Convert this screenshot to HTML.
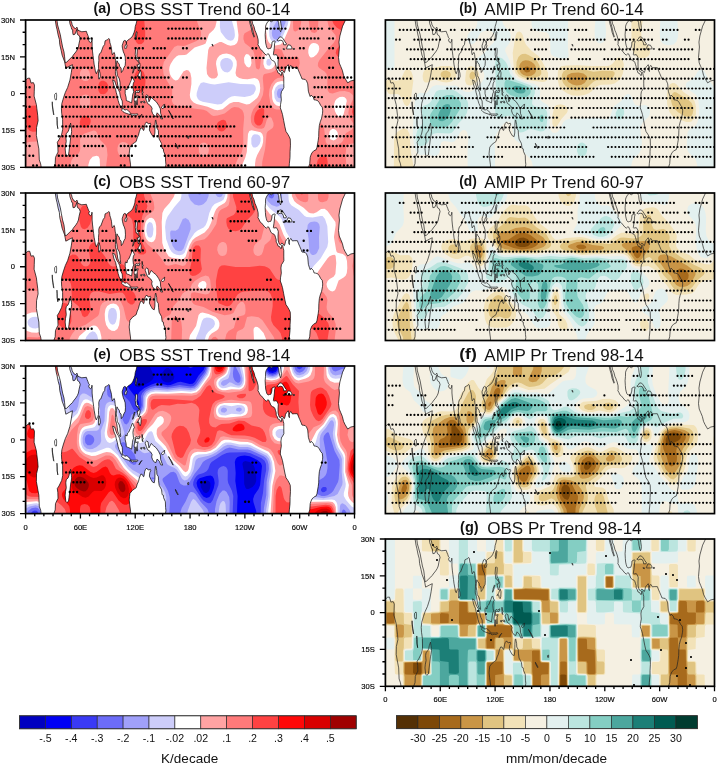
<!DOCTYPE html>
<html><head><meta charset="utf-8"><title>SST and precipitation trends</title>
<style>
html,body{margin:0;padding:0;background:#fff;}
body{width:718px;height:766px;overflow:hidden;}
svg{display:block;}
text{font-family:"Liberation Sans",Arial,sans-serif;fill:#111;}
.ax{font-size:7.6px;fill:#000;stroke:#000;stroke-width:0.15px;}
.ttl{font-size:15.6px;}
.lb{font-weight:bold;font-size:14px;}
.cb{font-size:10.6px;}
.cbu{font-size:13.6px;}
</style></head><body>
<svg width="718" height="766" viewBox="0 0 718 766">
<rect width="718" height="766" fill="#fff"/>
<clipPath id="clipa"><rect x="25.6" y="20" width="328.9" height="147.3"/></clipPath>
<g clip-path="url(#clipa)">
<rect x="25.6" y="20" width="328.9" height="147.3" fill="#ff9a9a"/>
<rect x="24.6" y="19.0" width="330.9" height="149.3" fill="#a0a0fa"/>
<path fill="#cdcdfa" d="M23.6 17L277 17L276.8 21L272.7 28L271.8 33L272.2 36L273.1 38L274.6 39.3L276.6 39.7L278.6 38.6L280.2 36L285.6 22.2L285.8 17L357.6 17L357.6 171L22.6 171L22.6 17ZM278.5 89L277.3 91L276.8 94L277.6 96.8L278.6 97.9L281.6 98.3L285.9 96L286.5 95L286.5 93L284.6 89.8L281.6 88.1Z"/>
<path fill="#ffffff" d="M23.6 17L219.9 17L219.9 27L220.8 32L225.6 38.3L227.9 40L230.6 40.8L232.6 40.2L233.6 39.3L234.6 37.3L234.9 35L234.4 30L232 21L232 17L270.5 17L269.1 30L269.4 36L270.4 39L271.6 40.8L273.6 42.2L275.6 42.7L278.8 42L281.6 38.9L287.7 25L288.5 21L288.5 17L357.6 17L357.6 171L22.6 171L22.6 17ZM225.1 58L222.6 58.9L221.5 60L220.4 62L220.2 65L221 68L222.6 70.5L224.6 72.1L227.6 72.4L229.6 71.5L231.7 69L232.8 66L232.9 63L232.1 61L230.2 59L227.6 58ZM267.6 59L266.4 61L266.5 64L267.6 65.4L269.6 65.7L271.3 64L271.5 62L269.6 59.1ZM200.8 83L198.6 86.8L196.7 93L196.6 96L197.9 99L199.6 100.5L202.6 101.7L217.6 104.4L221.6 103.9L228.6 98L231.6 96.5L234.6 96.1L244.6 96.9L250.6 95.7L253.6 93.9L255.7 90L255.8 88L255.2 86L253.6 84.6L251.6 84.2L240.6 83.9L228.6 82.2L214.6 84.4L210.6 84L203.6 82.3ZM278.1 85L275.6 87.4L274.1 92L274.6 98L276.6 101.4L279.6 102.6L286.6 102L292.6 102.8L294.6 102.5L296.6 101.3L297.6 98L296.7 95L288.2 87L285.6 85.2L282.6 84.3L280.6 84.2ZM252.9 135L251.3 138L251.4 144L252.8 147L253.6 147.5L255.6 147.6L257.6 146.5L259.6 143.9L260.6 141L260.6 138L259.6 135.8L257.6 134.4L254.6 134.2Z"/>
<path fill="#ffa3a3" d="M23.6 17L216.6 17L216.5 22L215.3 27L213.6 29.7L209 34L205.6 43.4L203.6 44.6L194.6 47.4L186.6 54.4L184.6 55L178.6 55.3L176.6 56.2L173.6 59.3L170.6 63.9L169.5 67L169.2 70L169.9 74L171.4 77L173.6 79.4L175.6 80.4L177.6 80L178.6 79.1L183.6 71.3L186.6 70L188.6 70.6L190.4 73L191.4 78L191.4 84L189.8 95L190.3 98L191.3 100L193.6 102.4L196.6 104.1L207.6 106.7L214.6 109.7L217.6 110.3L222.6 109.2L229.6 103.6L233.6 101.9L238.6 102.1L246.6 104.4L249.6 104L257.1 98L258.6 95.6L259.8 92L260.2 88L259.8 84L258.9 81L257.4 79L254.6 78.1L247.6 79.2L243 79L239.2 78L236.3 76L235.5 73L236.8 65L236.6 61L234.5 57L230.6 54.5L226.6 53.6L222.6 54L219.6 55.5L217.5 58L216.3 61L216 64L218 75L216.6 77.5L214.6 78.5L211.6 78.4L209 77L207 74L206.5 68L208.2 50L209.5 47L219.6 42L221.6 42.1L227.6 45L230.6 45.7L234.6 45.1L237 43L238.1 40L238.5 35L236.6 21L236.6 17L266.2 17L266.1 31L267.3 39L268.6 42L270.3 44L272.6 45.1L275.6 45.4L280.6 44.5L283.1 42L289.6 27.2L290.4 23L290.6 17L357.6 17L357.6 171L255 171L255 164L255.7 159L257.2 155L262.1 146L263.1 142L263.2 137L262.3 134L260.6 132.3L251.6 130.2L249.3 131L248 134L246.8 152L245.5 157L242.2 165L241.8 168L242.2 171L100.2 171L99.7 159L98.6 156.5L96.6 155.7L92.6 156.8L89.8 160L88.3 165L88.2 171L22.6 171L22.6 17ZM313.4 43L311.6 43.6L310.1 45L309 47L308.3 50L308.3 53L309.2 56L310.6 57.5L311.6 57.6L313.6 57.1L316.6 54.5L318.3 52L319.3 49L318.9 46L317.6 44.3L315.6 43.2ZM267.5 54L265.6 55.1L264.4 57L263.6 60L263.4 64L264.7 68L266.6 69.3L268.6 69.6L271.6 68.7L273.6 67.1L274.8 65L275.1 63L274.3 60L272.3 57L269.6 54.4ZM245.3 55L244 58L244.4 63L246.6 66.5L248.6 67.4L249.6 67.2L250.7 66L251.5 63L250.7 57L248.6 54.4L246.6 54.1ZM277.4 82L275.6 83.3L273.6 85.9L271.9 91L272.3 99L273.3 102L274.7 104L276.6 105.4L278.6 105.9L286.6 105.7L293.6 106.3L297.6 105.7L300.1 104L301.6 101L301.8 97L300.9 93L298.7 90L291.1 84L287.6 82.1L281.6 81ZM339.7 97L336.6 99L335.1 101L334.2 104L334.1 107L334.9 111L336.3 114L338.6 116.4L340.6 117L342.6 116L343.6 114.2L346.8 101L346.3 99L344.6 97.3L342.6 96.7ZM332.3 129L330.6 129.9L329.6 131.5L329 136L329.5 138L330.6 139.6L333.6 140.4L335.6 139.6L337.2 138L337.9 134L337.4 132L335.9 130L333.9 129Z"/>
<path fill="#ff7a7a" d="M23.6 17L196.8 17L197.2 22L201 32L201.1 35L200.1 38L196.6 40.9L185.6 45.6L183.6 46L177.6 45.4L174.3 47L163.8 62L162.8 67L163.5 74L165.1 78L171.6 88L172.2 91L171.9 101L173.2 104L175.6 105.8L178.6 106.3L184.6 105.9L193.6 108.5L203.6 109.7L206.8 111L211.6 115.3L213.6 116.1L217.6 115.6L224.6 113.4L231.6 108L234.2 107L238.6 107.4L242.2 110L243.6 113L244.2 117L243.2 129L243.3 146L241.6 152.8L237.2 160L236 163L235.4 167L235.6 171L106.2 171L106.1 166L107.5 155L106.8 148L105.3 145L100.1 140L96.6 132L95.5 131L93.6 130.6L84.6 133.6L81.1 136L80 140L80.3 148L79.9 151L78.6 153.5L73.6 157.3L71.6 160L70.3 165L70.2 171L42.9 171L43.2 164L46.2 151L46.1 148L44.8 145L41.6 142.6L36.6 141.5L30.6 141.8L22.6 143.6L22.6 101.7L23.6 100L23.9 98L23.5 96L22.6 94.8L22.6 17ZM82.3 69L80.6 71L80 73L80 76L80.6 78L81.6 79.4L83.6 80.7L85.6 81.1L87.6 80.7L89.3 79L90 77L90 74L89.2 71L86.6 68.5L84.6 68.2ZM83.1 95L81.6 96L80.3 98L79.7 101L80.1 104L80.9 106L82.6 107.6L84.6 108.2L86.6 107.9L88.6 106.6L89.6 104.9L90.2 102L89.8 98L88.8 96L87.6 94.9L85.6 94.4ZM119.9 143L118.3 145L117.5 148L117.6 151L118.6 153.9L119.6 155.2L121.6 156.5L123.6 156.8L126.6 156L129 154L130.5 151L130.5 148L129.8 146L128.1 144L125.6 142.5L122.6 142ZM201.7 143L199.7 145L198.9 147L198.9 152L200.6 155.3L202.6 156.4L204.6 156.4L206.6 155.5L208.3 153L208.9 150L208.6 147L207.6 144.7L205.8 143L203.6 142.5ZM254.6 17L262.1 17L262.4 34L263.9 47L261.3 56L259.9 68L258.6 69.6L256.6 68.8L255.8 67L254.5 55L253.3 51L251.1 48L244.7 43L243.4 39L243.6 35.6L244.6 33.2L250.6 30L253 27L254.3 23ZM293.6 17L301.3 17L301.1 23L300.1 27L298.3 30L295.6 31.6L293.9 31L293.2 29L292.9 17ZM309.6 17L318.5 17L318 29L316.6 31.9L314.6 33.1L311.6 32.3L309.7 29L308.8 21L308.9 17ZM327.6 17L357.6 17L357.6 142.3L349.6 144.1L347.6 145.3L346.3 147L345.6 154L346.6 171L262 171L262.2 162L265.1 149L266.6 133.5L267.6 131.6L272.6 128L273.5 126L273.5 123L271.6 118.1L270.6 117.2L268.6 117.2L266.7 120L265 126L263.8 128L261.6 128.8L257.6 128.6L254.6 127.3L252.2 125L251 122L250.8 117L251.7 113L253.4 109L260.2 101L262.9 95L263.7 89L262.8 78L263.4 75L264.6 73.9L271.6 72.4L274.6 71L277.4 68L278.8 65L279 61L273.1 52L273.3 50L274.6 49.1L278.6 48.7L281.6 49.9L284.6 56.7L286.6 57.9L289.6 57.8L295.6 56.4L297.6 56.8L299.2 59L299.8 63L298.2 70L296.1 74L294.4 76L290.6 77.5L280.6 77.6L277.6 78.1L274.6 80L271.5 84L269.5 89L268.9 95L270.3 103L272.6 107.7L274.6 109L276.6 109.5L292.6 109.8L299.6 110.7L301.9 112L305.6 116.8L307.6 118.3L321.6 123.7L322.9 125L323.9 127L325.8 142L327 144L329.6 145.5L332.6 145.8L335.6 145.3L341.1 143L342.9 141L344.9 135L346.1 133L351.6 129.8L353.2 128L353.8 126L353.6 124L349.2 117L348.3 113L349.1 108L353.1 99L353.3 97L352.8 95L349.6 92.2L344.6 90.9L339.6 91.2L332.6 93.4L329.6 93L328 91L327.4 89L327.4 78L326.6 74L324.6 71.4L319.2 68L317.9 66L318 63L319.5 60L328.9 48L333.6 43L335.9 39L336 37L335.3 35L330.3 29L328.6 26L327.4 21Z"/>
<path fill="#ff4242" d="M23.6 17L35.6 17L35.6 21L34.8 25L33.1 28L30.6 30.1L26.6 31.3L22.6 31.2L22.6 17ZM128.6 17L144 17L145.2 32L145.2 37L143.8 42L141.6 44.1L138.6 44.2L136.9 43L135.6 41L132.2 30L128.2 21L128.1 18L128.2 17ZM332.6 17L357.6 17L357.6 29.7L353.6 29.7L344.6 31.2L340.6 30.1L336.6 27.4L333.6 24L332.4 21ZM23.6 43.4L26.6 43.4L29.6 44.2L32.3 46L33.6 48L34.2 51L33.7 54L32.5 56L29.6 58.1L26.6 58.9L22.6 58.8L22.6 43.5ZM342.6 43.7L345.6 43.3L353.6 45.3L357.6 45.3L357.6 57.6L343.6 58.4L339.6 57.5L337.2 56L335.7 53L336.3 50L339.1 46ZM138.6 69.6L141.6 69.9L143.6 71.9L145 76L145.5 81L145.1 86L143.9 90L141.6 92.5L138.6 93.3L135.6 92.4L134 91L132.9 89L132.4 86L133 81L135 74L136.6 71.1ZM101.6 80.7L103.6 80.7L106.2 82L107.6 83.9L108.3 86L108.3 89L107.6 91.2L105.6 93.5L103.6 94.3L100.6 93.9L99 92L98.3 90L98.6 83.9L99.6 81.9ZM356.6 105L357.6 104.7L357.6 121.4L353 115L352.1 112L352.6 109.1L353.6 107.3ZM31.6 105.8L36.6 105.6L42.2 107L45.9 109L48.3 112L49.5 117L48.8 123L46.6 127.2L42.6 130.1L37.6 131.6L32.6 131.8L29.6 130.8L27.6 128.4L24.6 116L24.3 113L24.9 111L26.6 108.7L28.6 107ZM261.6 107.9L263.6 108.5L264.2 110L264.2 114L263.2 120L262.3 123L260.8 125L259.6 125.5L257.6 125.5L255.6 124.1L254.4 122L254.1 119L254.4 116L255.6 112.8L257.6 110ZM83.6 115.9L86.6 115.9L88.6 116.7L90.4 119L90.8 121L90.2 124L88.7 126L86.6 127.4L84.6 127.9L81.5 127L80.1 125L79.7 123L80.6 118.4L81.7 117ZM221.6 119.9L223.6 119.8L225.6 120.7L226.8 124L226.5 127L225.6 129.1L223.6 131L221.6 131.5L219.6 131.1L218.1 130L217 128L216.7 126L217 124L218.1 122ZM322.6 155.9L325.6 156.4L327 158L327.6 161.7L327.6 171L316.4 171L316.5 165L317.6 160.3L319.6 157.4Z"/>
<path fill="#ff0808" d="M23.6 17L29.4 17L29.4 21L28.2 23L26.6 24.1L22.6 23.9L22.6 17ZM344.6 18.5L346.1 19L344.6 19.8L343.7 19Z"/>
<path fill="#fff" stroke="#000" stroke-width="0.7" stroke-linejoin="round" d="M16.65 15.09L16.65 20L13.72 26.14L10.98 35.96L10.07 42.09L10.53 47.01L9.61 57.56L10.34 62.96L11.9 66.65L13.45 70.33L14.64 75.24L16.01 78.18L18.75 82.85L21.95 80.88L25.6 80.15L27.88 78.18L29.71 78.18L31.08 83.09L33.37 82.6L34.46 85.06L34.28 91.2L34.1 96.11L36.38 104.7L36.84 108.38L37.75 115.75L38.12 120.66L36.56 127.53L36.38 135.38L37.93 143.98L38.85 148.89L39.3 159.94L40.67 163.86L41.59 169.75L42.05 174.66L42.5 178.35L43.87 179.58L48.44 178.35L51.18 174.66L53.47 169.75L53.92 167.05L55.2 163.62L55.48 157.48L56.21 155.76L58.03 152.08L57.85 146.43L57.3 142.26L58.95 139.8L61.69 134.16L62.69 129.25L62.6 119.43L61.69 113.29L61.41 108.38L61.87 103.47L63.51 97.82L65.34 92.42L67.63 87.51L69.91 80.15L71.28 72.78L72.47 64.68L69.45 66.15L65.8 68.12L65.16 64.68L64.61 61.73L62.14 55.11L61.23 50.69L59.77 44.55L59.4 39.64L58.12 34.98L57.12 29.82L56.21 26.14L55.29 20.25L55.11 16.32L53.01 16.32L48.44 15.09L43.87 15.09L34.74 2.81L21.03 5.27L16.65 15.09ZM345.55 15.09L345.55 20L342.62 26.14L339.88 35.96L338.97 42.09L339.43 47.01L338.51 57.56L339.24 62.96L340.8 66.65L342.35 70.33L343.54 75.24L344.91 78.18L347.65 82.85L350.85 80.88L354.5 80.15L356.78 78.18L358.61 78.18L359.98 83.09L362.27 82.6L363.36 85.06L363.18 91.2L363 96.11L365.28 104.7L365.74 108.38L366.65 115.75L367.02 120.66L365.46 127.53L365.28 135.38L366.83 143.98L367.75 148.89L368.2 159.94L369.57 163.86L370.49 169.75L370.94 174.66L371.4 178.35L372.77 179.58L377.34 178.35L380.08 174.66L382.37 169.75L382.82 167.05L384.1 163.62L384.38 157.48L385.11 155.76L386.93 152.08L386.75 146.43L386.2 142.26L387.85 139.8L390.59 134.16L391.59 129.25L391.5 119.43L390.59 113.29L390.31 108.38L390.77 103.47L392.41 97.82L394.24 92.42L396.53 87.51L398.81 80.15L400.18 72.78L401.37 64.68L398.35 66.15L394.7 68.12L394.06 64.68L393.51 61.73L391.04 55.11L390.13 50.69L388.67 44.55L388.3 39.64L387.02 34.98L386.02 29.82L385.11 26.14L384.19 20.25L384.01 16.32L381.91 16.32L377.34 15.09L372.77 15.09L363.64 2.81L349.93 5.27L345.55 15.09ZM57.12 16.32L57.12 21.23L57.58 24.91L58.95 29.82L60.32 34.73L61.41 40.87L62.6 47.01L63.97 51.91L64.61 56.83L65.16 62.47L66.71 62.23L69.45 59.28L72.65 56.33L73.29 55.11L75.85 51.91L77.4 49.46L78.41 47.01L79.05 43.32L80.23 38.41L79.32 35.71L77.68 34.73L77.04 32.52L77.13 29.33L76.76 29.33L76.31 31.05L74.94 34.24L73.11 34.73L72.65 32.27L72.74 29.82L71.74 29.33L71.28 27.37L69.91 23.68L69.45 20L70.18 20L71.55 21.96L72.19 24.91L74.02 27.86L75.67 28.59L76.94 27.12L77.95 30.31L81.79 31.78L84.07 31.54L86.36 31.29L87.09 33.5L87.91 35.47L88.64 37.68L89.55 38.41L88.64 40.13L89.55 42.09L90.65 42.83L91.84 40.87L91.93 39.15L92.11 42.09L92.11 47.01L92.57 51.91L93.02 55.6L93.66 60.51L94.12 64.19L95.03 69.1L95.49 72.05L96.4 73.76L97.04 71.8L97.78 70.82L98.6 68.36L98.51 64.19L98.87 60.51L98.78 56.33L99.6 53.63L100.79 52.9L101.89 49.95L103.26 46.27L104.63 44.55L105.08 40.87L106.45 40.13L107.82 39.64L108.74 38.41L109.47 39.15L109.93 42.83L110.57 44.55L111.48 48.23L111.94 53.14L112.39 54.86L113.31 53.14L114.22 52.41L114.77 54.37L115.13 58.05L115.59 60.51L115.68 64.19L115.59 67.87L115.41 71.56L115.41 74.01L116.69 77.69L117.24 81.38L117.69 85.06L118.33 86.78L119.25 88.74L120.16 90.46L120.8 90.21L120.16 86.28L120.07 82.6L119.34 78.92L118.33 76.96L117.42 75.73L116.96 71.56L116.23 67.87L116.5 64.19L116.96 60.75L117.87 62.47L119.25 64.19L119.7 66.65L121.07 67.87L121.35 72.54L122.9 70.33L123.81 67.87L125.18 65.42L125.46 61.73L125.18 56.83L124.27 53.88L123.36 51.91L122.44 48.23L122.17 45.78L122.9 43.32L123.81 40.87L124.73 40.38L125.82 40.87L126.46 43.81L126.55 41.6L127.92 40.13L129.29 39.15L129.93 38.66L131.58 37.43L132.95 35.22L134.14 32.27L134.87 29.82L135.23 26.63L136.15 23.68L137.06 20L136.6 17.55L136.88 15.09L136.15 12.63L135.23 7.72L80.42 -4.55L57.12 16.32ZM70.64 123.11L71.46 129.25L71.65 131.7L71.1 135.38L70.64 137.84L69.91 143.98L69 151.34L68.54 155.03L66.9 156.25L65.8 155.03L65.16 148.89L65.52 145.2L66.26 141.52L65.8 136.61L66.26 133.42L68.08 131.7L69 129.25L69.45 126.79L70.64 123.11ZM98.51 74.01L98.69 78.92L99.24 79.17L100.33 76.47L100.06 73.27L99.15 69.59L98.6 71.56L98.51 74.01ZM124.91 48.23L125.64 48.97L126.55 47.74L127.01 45.29L126.55 44.3L125.64 44.55L124.91 46.51L124.91 48.23ZM135.32 37.19L135.87 39.64L136.15 39.15L136.6 35.96L137.06 32.27L136.6 31.54L135.87 33.5L135.32 37.19ZM135.23 54.37L135.69 48.23L136.6 47.99L137.33 48.72L137.24 51.91L136.88 55.6L137.52 58.79L138.61 59.77L139.07 62.72L138.16 61.98L137.06 60.02L135.96 59.77L135.78 58.05L135.23 54.37ZM137.06 76.47L138.43 74.5L139.07 73.27L140.26 69.84L141.17 72.78L140.9 77.69L140.26 79.66L139.34 78.43L138.71 75.73L137.06 76.47ZM136.97 64.68L137.79 68.12L138.43 70.82L139.34 69.1L140.08 65.91L139.8 62.96L138.89 63.45L137.97 65.42L136.97 64.68ZM132.68 73.27L133.86 70.33L134.96 66.65L134.59 65.91L133.41 69.1L132.68 73.27ZM125.18 89.97L125.73 88.74L127.01 89.97L127.47 87.02L128.84 85.79L130.21 82.6L131.03 80.64L132.04 77.69L132.77 76.96L133.86 80.15L134.5 81.13L133.41 83.09L132.95 86.28L133.41 91.2L134.14 91.2L132.95 93.65L132.49 96.11L132.04 99.79L131.58 102.98L130.21 102.24L128.84 101.51L127.47 101.02L126.28 100.52L126.1 97.33L125.18 93.65L125.18 89.97ZM112.67 79.9L114.68 80.88L115.59 83.83L116.96 87.51L118.33 89.48L119.7 92.42L120.34 96.11L121.07 98.56L122.26 101.02L122.44 104.7L122.26 107.89L121.07 108.13L120.16 105.92L119.06 103.47L118.15 100.52L117.24 96.11L116.23 92.42L115.59 89.23L114.68 87.51L113.76 85.06L112.67 79.9ZM121.71 110.34L122.44 108.38L123.81 108.87L124.73 110.1L126.55 109.61L127.47 110.1L128.56 110.84L130.21 112.8L130.12 115.01L128.38 114.03L126.1 113.29L124.27 112.55L122.9 111.57L121.71 110.34ZM130.85 113.78L132.04 114.03L134.32 114.03L135.69 114.03L137.52 113.78L137.97 114.52L136.15 115.5L134.32 115.25L132.49 115.75L131.12 115.25L130.85 113.78ZM138.89 118.2L140.26 116.24L141.9 114.27L140.72 115.75L139.34 118.69L138.89 118.2ZM134.78 107.15L134.69 102.24L134.14 99.79L134.78 94.88L135.23 92.18L136.15 90.46L137.97 91.2L139.34 89.97L139.98 89.97L139.16 92.67L137.97 92.42L136.6 92.42L135.42 92.67L135.87 96.84L136.7 96.11L138.25 95.61L137.24 98.56L137.52 104.7L136.6 104.7L136.15 100.52L135.69 101.02L135.6 107.15L134.78 107.15ZM142.09 88.25L142.54 91.2L143.27 92.42L142.54 93.65L143 95.61L142.27 94.88L142.09 91.69L142.09 88.25ZM142.54 101.51L144.37 101.02L145.1 102.98L143.46 102.49L142.54 101.51ZM140.72 101.51L141.63 101.51L141.63 102.98L140.72 102.73L140.72 101.51ZM145.28 96.11L146.65 94.88L148.02 95.61L148.94 101.75L151.22 97.33L153.51 99.54L156.25 101.75L158.71 105.43L160.36 108.87L160.63 113.29L162.64 118.94L160.81 118.69L159.44 115.25L157.16 112.8L155.88 116.48L154.42 115.99L152.59 113.54L151.68 110.84L152.14 108.38L150.76 105.92L148.94 104.45L147.57 103.47L146.38 100.52L145.28 97.33L145.28 96.11ZM161.27 107.15L162.64 105.92L164.01 104.7L164.74 103.96L164.29 107.15L162.64 108.87L161.27 107.15ZM168.58 110.34L169.49 112.06L171.32 114.52L172.51 116.97L173.15 118.94L172.23 117.71L170.41 114.03L168.58 110.34ZM130.67 167.3L130.67 172.21L130.67 179.58L144.37 179.58L165.38 179.58L165.38 169.75L165.47 167.3L165.93 164.35L165.57 161.16L165.38 155.52L163.56 151.34L163.37 148.89L162.18 148.4L161.55 143.49L159.17 139.07L158.53 134.16L158.35 130.48L156.89 128.02L156.7 124.34L155.79 119.92L155.33 120.66L154.97 125.56L154.88 132.93L154.24 136.61L152.59 135.88L150.76 132.93L149.39 129.98L149.85 126.3L150.76 124.34L150.31 123.11L148.94 123.85L147.11 122.86L146.65 121.88L145.28 123.6L144.64 125.56L143.91 130.23L143.46 130.48L142.09 128.02L140.72 128.02L139.34 131.7L138.43 135.38L137.24 137.84L136.15 141.52L134.32 142.75L132.31 144.22L129.93 147.17L129.57 150.12L129.2 153.8L129.75 158.71L130.57 164.84L130.67 167.3ZM175.43 143.24L176.35 144.71L178.17 148.15L177.72 148.64L175.89 145.2L175.43 143.24ZM187.58 136.61L188.68 136.12L188.68 138.33L187.77 138.33L187.58 136.61ZM212.07 44.8L212.89 46.27L212.89 44.8L212.07 44.06L212.07 44.8ZM244.87 7.72L247.15 12.63L248.52 18.77L249.43 21.23L250.35 24.91L251.26 27.86L252.18 32.27L254 37.19L254.46 36.69L253.55 33.99L252.63 29.82L251.44 24.91L249.89 20L249.71 16.32L251.26 17.05L252.63 23.68L254 26.63L254.92 30.31L255.83 32.27L257.2 35.96L258.11 39.64L258.21 43.32L257.93 44.55L259.03 46.51L259.94 48.72L261.31 49.71L263.14 51.91L264.97 54.12L266.34 55.11L267.71 53.88L268.62 53.88L269.99 56.83L270.9 59.28L272.46 60.51L274.1 61.24L274.74 61.98L275.47 64.19L276.2 66.65L276.2 69.1L276.84 69.84L277.12 70.33L278.12 73.03L279.58 73.52L280.95 75.73L281.41 75.24L281.87 72.05L282.78 73.27L283.24 75.24L283.79 77.2L283.79 83.83L283.88 87.51L282.6 89.97L281.41 91.69L280.95 94.88L281.32 100.03L280.5 104.7L280.31 107.89L281.41 110.84L282.51 114.52L283.7 120.66L284.88 126.79L285.98 131.46L287.81 134.16L289.18 136.61L290.27 139.07L290.46 145.2L290.09 151.34L290 157.48L289.36 163.62L289.09 167.3L289.09 172.21L288.72 179.58L303.34 179.58L306.08 175.89L307.91 169.75L308.55 167.3L309.73 163.62L310.19 157.48L310.65 155.76L312.02 152.57L313.39 151.34L315.03 150.12L316.13 149.87L317.04 147.17L317.77 142.75L318.23 140.3L318.69 136.61L318.87 130.48L319.33 125.56L320.24 121.88L321.61 118.2L322.52 113.29L322.71 110.84L322.25 107.15L320.7 105.43L319.33 102.73L317.5 100.52L315.67 100.03L314.03 99.79L313.39 97.33L311.1 95.12L310.19 96.6L309.28 94.14L308.36 91.2L307.72 83.83L306.54 80.88L305.17 79.41L303.34 79.17L301.97 78.92L301.05 76.47L299.68 73.27L298.31 70.08L297.4 67.63L296.03 67.63L294.2 67.63L292.37 67.87L291 65.42L289.63 66.65L289.18 69.1L289.45 71.56L288.9 70.33L288.72 66.65L288.26 64.68L287.35 65.91L286.44 66.65L285.52 68.12L285.07 70.57L284.33 72.54L283.79 72.29L282.78 70.57L281.78 70.08L280.5 71.8L279.4 71.06L278.67 69.1L278.12 66.89L278.03 62.96L278.3 58.54L277.76 56.83L276.39 54.62L274.56 54.86L273.83 55.11L273.37 54.37L273.92 50.69L274.38 47.01L274.56 43.81L275.2 41.36L274.1 40.87L272 42.09L271.82 45.04L270.9 48.23L269.53 48.48L268.16 48.97L266.98 47.74L266.34 45.78L265.7 43.08L265.42 39.64L265.15 34.73L265.51 30.31L265.61 26.14L266.34 24.17L267.89 21.47L269.26 20.49L271.36 21.72L272.73 20.98L273.19 19.26L275.93 19.02L277.48 20L278.67 22.45L279.04 26.14L279.86 30.07L280.59 31.78L281.23 29.82L281.41 27.37L280.86 23.68L280.22 18.77L280.5 15.09L284.15 7.72L244.87 7.72ZM276.84 40.13L278.21 39.15L279.58 36.94L281.41 36.94L283.24 38.9L285.07 41.85L286.71 44.06L285.98 44.8L283.7 44.8L283.42 42.83L282.32 40.62L280.04 40.13L278.67 40.87L276.84 40.13ZM286.44 48.48L287.99 44.8L290.55 45.29L292.1 47.99L291.73 48.97L289.63 48.97L288.26 48.97L286.53 48.97L286.44 48.48ZM282.96 48.72L284.79 48.97L284.33 49.71L283.06 49.21L282.96 48.72ZM293.11 48.48L294.57 48.48L294.48 49.46L293.11 49.46L293.11 48.48Z"/>
<path fill="none" stroke="#000" stroke-width="0.6" d="M52.28 101.75L52.55 105.92L53.47 112.06L53.92 115.01L53.56 114.52L52.73 109.61L52.19 104.7L52.28 101.75ZM56.94 116.97L57.3 120.66L57.12 124.34L57.85 128.76L57.39 125.56L56.94 120.66L56.94 116.97ZM54.65 94.39L56.21 92.91L56.66 94.88L56.48 99.79L55.29 99.79L54.56 97.33L54.65 94.39Z"/>
<path fill="none" stroke="#000" stroke-width="2.4" stroke-linecap="round" stroke-dasharray="0 3.655" d="M142.9 28.6H153.8M168.4 28.6H201.3M267.1 28.6H285.4M300.0 28.6H322.0M329.3 28.6H336.6M80.7 38.4H95.3M135.5 38.4H150.2M168.4 38.4H205.0M300.0 38.4H318.3M329.3 38.4H336.6M77.1 48.2H95.3M110.0 48.2H113.6M135.5 48.2H142.9M153.8 48.2H164.8M183.1 48.2H190.4M252.5 48.2H259.8M300.0 48.2H307.3M329.3 48.2H336.6M73.4 57.9H91.7M102.6 57.9H120.9M128.2 57.9H168.4M252.5 57.9H263.5M278.1 57.9H296.4M329.3 57.9H336.6M66.1 67.7H91.7M102.6 67.7H117.3M128.2 67.7H161.1M278.1 67.7H296.4M329.3 67.7H336.6M73.4 77.5H95.3M102.6 77.5H113.6M131.9 77.5H172.1M183.1 77.5H190.4M314.6 77.5H351.2M25.9 87.3H33.2M80.7 87.3H172.1M314.6 87.3H354.9M25.9 97.1H33.2M66.1 97.1H120.9M135.5 97.1H172.1M314.6 97.1H322.0M25.9 106.8H33.2M62.4 106.8H131.9M135.5 106.8H142.9M164.8 106.8H190.4M259.8 106.8H270.8M325.6 106.8H354.9M25.9 116.6H33.2M62.4 116.6H190.4M263.5 116.6H270.8M325.6 116.6H354.9M25.9 126.4H33.2M62.4 126.4H234.2M321.9 126.4H354.9M25.9 136.2H33.2M58.8 136.2H110.0M117.3 136.2H135.6M153.8 136.2H234.2M325.6 136.2H351.2M25.9 146.0H33.2M58.8 146.0H77.1M84.4 146.0H106.3M120.9 146.0H135.6M161.1 146.0H245.2M318.3 146.0H354.9M29.5 155.7H33.2M58.8 155.7H80.7M120.9 155.7H131.9M164.8 155.7H245.2M318.3 155.7H354.9M33.2 165.5H36.9M55.1 165.5H77.1M120.9 165.5H128.2M168.4 165.5H245.2M311.0 165.5H354.9"/>
</g>
<rect x="25.6" y="20" width="328.9" height="147.3" fill="none" stroke="#000" stroke-width="1.7"/>
<path stroke="#000" stroke-width="1.3" d="M25.6 167.3h-5.6M25.6 155.03h-3M25.6 142.75h-3M25.6 130.48h-5.6M25.6 118.2h-3M25.6 105.93h-3M25.6 93.65h-5.6M25.6 81.38h-3M25.6 69.1h-3M25.6 56.83h-5.6M25.6 44.55h-3M25.6 32.27h-3M25.6 20h-5.6"/>
<text x="15" y="22.7" class="ax" text-anchor="end">30N</text>
<text x="15" y="59.53" class="ax" text-anchor="end">15N</text>
<text x="15" y="96.35" class="ax" text-anchor="end">0</text>
<text x="15" y="133.18" class="ax" text-anchor="end">15S</text>
<text x="15" y="170" class="ax" text-anchor="end">30S</text>
<text x="93.4" y="12.6" class="lb" textLength="17.5" lengthAdjust="spacingAndGlyphs">(a)</text>
<text x="119.3" y="15.1" class="ttl" textLength="170.9" lengthAdjust="spacingAndGlyphs">OBS SST Trend 60-14</text>
<clipPath id="clipb"><rect x="385.4" y="20" width="329.1" height="147.3"/></clipPath>
<g clip-path="url(#clipb)">
<rect x="385.4" y="20" width="329.1" height="147.3" fill="#f5f0e2"/>
<rect x="384.4" y="19.0" width="331.1" height="149.3" fill="#a76a1c"/>
<path fill="#c99546" d="M383.4 17L718.4 17L718.4 171L382.4 171L382.4 17ZM525 67L523.8 69L524.4 71.2L526.4 72.5L529.4 71.9L530.5 70L529.4 67.4L527.4 66.5Z"/>
<path fill="#e0c481" d="M383.4 17L718.4 17L718.4 171L382.4 171L382.4 17ZM522.7 61L520.4 63.2L519.3 66L519.4 70L520.9 73L523.4 75.1L527.4 76.2L531.4 75.7L534.2 74L535.7 72L536.1 69L535.4 66L534.2 64L531.4 61.7L528.4 60.5L525.4 60.2ZM571.5 73L567.4 74.9L566.4 78L567 80L568.4 81.9L572.4 84.5L576.4 85.5L581.1 85L584.6 83L586.7 80L587.2 78L586.7 76L583.4 73.4L578.4 72.4Z"/>
<path fill="#f2e2b8" d="M383.4 17L718.4 17L718.4 171L382.4 171L382.4 17ZM522.2 54L520.4 55L518.4 57.1L516.5 62L516.4 69L517.3 72L518.5 74L522.6 77L528.4 78.5L534.1 78L539.7 76L541.3 74L541.2 71L539.3 65L537 61L534.4 58.6L528.4 54.9L525.4 53.8ZM572 69L566.4 69.8L563.4 71.5L561.8 75L561.8 79L563.1 83L565.6 86L570.4 89.1L575.4 90.4L580.4 90.3L584.6 89L587.8 87L593.4 81.8L596.4 80.3L607.4 80L610.4 79.2L613.3 77L614.7 74L614.4 72L612.4 70.9L602.4 70.7L593.4 71.7L582 69ZM443.3 71L441.6 72L440.5 74L440.9 76L441.7 77L443.4 78.1L445.4 78.6L448.4 78.1L449.9 77L450.6 76L450.8 74L449.7 72L446.4 70.6ZM471.1 72L469.7 74L469.5 77L470.4 79.1L472.4 79.7L474.8 78L475.5 75L474.7 73L473.7 72L472.4 71.6ZM672.9 93L671.4 96L671.1 101L672.1 105L674.4 108.8L678.4 112.5L684.4 116.1L688.4 117.1L691.3 116L692.6 114L693.4 110L692.9 106L691.4 102.7L688.4 100L676.4 92.5L674.4 92.1Z"/>
<path fill="#f5f0e2" d="M383.4 17L631.4 17L631.5 43L632.3 50L634.1 54L636.4 56.4L639.4 57.9L642.4 58.3L645.4 57.8L648.3 56L649.6 54L650.2 51L649.3 47L643.4 40.9L641.5 37L641.1 31L642.7 21L642.8 17L718.4 17L718.4 80.6L717.9 83L718.4 87.9L718.4 171L413.3 171L413.3 165L410.9 152L409.5 134L407.4 129.7L404.4 128.6L401.4 129.3L397.4 131.9L395.7 134L394.5 137L394 141L393.9 171L382.4 171L382.4 17ZM517.7 32L516.4 33.3L515.5 36L512.7 53L513.7 67L515.4 73.2L518.8 77L525.4 79.8L542.4 82.1L545.4 81.5L547.1 80L548 78L548.1 73L540.8 59L538.4 56L531.8 51L526.2 45L524.7 42L522.7 35L521.4 32.7L519.4 31.6ZM617.3 58L612.2 64L610.4 65.2L607.4 66.1L591.4 66.1L577.4 65.2L566.4 65.4L561.4 66.3L559.1 68L557.8 72L557.7 80L559.1 86L562.2 90L567.4 93.5L572.4 95.4L578.4 95.8L583.4 95.2L588.4 93.6L591.4 91.5L595.7 87L598.4 85.4L601.4 84.7L610.4 84.6L614.4 83.4L618.1 81L620.9 78L622.7 74L623.7 69L623.8 64L622.6 60L620.4 57.8L618.4 57.6ZM441.7 66L434.4 67.7L428.4 68L425.4 69.2L423.4 72L422.6 76L423.1 80L424.4 81.9L425.4 82.5L427.4 82.5L432.4 80.2L435.4 79.7L442.4 82L446.4 82.5L451.4 81.4L454.4 79.7L456.1 77L456.4 74L455.9 71L454.4 68.3L452.4 66.8L449.4 65.9ZM468.3 67L466.9 69L465.9 72L465.1 81L466.4 84.2L468.4 85.3L470.4 85.4L473.4 84.4L476.7 82L478.7 79L479.4 75L478 71L474.4 67.2L471.4 66.1ZM405.7 70L404.4 71.5L401.4 78L399.5 80L396.4 80.8L389.4 79.6L387.4 79.8L386.2 81L385.8 85L386.5 90L388.4 93.4L390.4 94.2L397.4 94.1L399.4 95L401.4 97.4L404.4 104.6L406.4 106.2L407.4 106.1L408.9 105L410.7 101L413.3 81L412.9 76L411.4 71.7L410.4 70.5L408.4 69.4ZM672.3 83L670.4 84.1L669 86L667.8 89L666.9 94L667.1 104L669.5 112L672.4 116.1L676.4 118.6L686.4 121.9L689.4 122L691.4 121.4L694.4 118.6L696 114L696.1 107L694.5 101L691.4 97.2L683.4 91.9L676.4 84.2L674.4 83.1ZM556.6 105L555.2 106L554 108L552.3 116L552.4 124L553.4 126.2L554.4 126.9L555.4 126.9L557.4 125.5L561.4 118.9L566.8 113L567.7 111L567.2 108L564.4 105.2L560.4 104.3Z"/>
<path fill="#e3f0ef" d="M383.4 17L394.5 17L394.5 66L394 69L392.4 70.3L389.4 70.2L386.4 69.1L384.4 67.6L382.4 64.9L382.4 17ZM478.4 17L502.4 17L502.4 21L503.4 24.6L505 27L509.4 31.2L510.8 35L510.4 41L508.9 44L505.7 48L505.1 51L509.8 61L512.8 73L514.6 76L518.4 78.9L523.4 80.9L534.4 84L537.8 86L539.5 88L540.3 91L539.7 97L540.4 99.9L542.4 101.9L547.4 104.8L549.4 108.1L550 113L549.7 127L550.4 130L552.4 132.4L555.4 132.9L557.6 132L559.4 130L563.4 121.9L565.4 120.2L568.4 119L597.4 117.7L605.4 119.2L608.4 118.5L610.4 115.9L612.6 109L614.3 106L621.2 101L625.4 95.2L627.4 94.1L629.4 94.3L631.2 96L633.9 103L635.4 105.1L638.4 105.8L645.4 105.1L648.4 106.7L649.7 109L650.1 111L649.5 115L648.3 117L642.4 122.7L640.7 127L640.6 131L641.9 142L641.3 149L639.4 153L634.4 157.7L632.4 160.8L631.3 165L631.3 171L532.8 171L532.9 166L531.5 161L529.5 158L524.5 153L520.4 144L515.3 140L513.8 138L511.8 125L510.4 122.5L508.4 121.4L505.7 122L503.4 124L496.9 133L495.6 136L494.8 142L495.1 171L467.8 171L467.5 153L468.3 137L467 132L465.4 130.2L464.4 129.9L462.4 130.3L460.4 132.1L456.4 139.2L454.4 141.4L451.4 142.3L444.4 141.1L441.6 142L440.7 144L439.5 152L438.4 154.2L436.4 155.8L433.4 156.1L426.4 154.4L420.4 155.1L417.4 153.4L415.4 150.3L414 146L412.8 134L413.8 109L415.3 99L417.4 94.3L418.4 93.4L420.4 92.8L424.4 93.3L426.4 93L432.4 86.6L436.4 84.9L445.4 85.8L455.4 85.5L457.4 86.3L463.5 91L466.4 92L469.4 92.1L472.4 90.9L477.4 86.9L481.2 83L483.7 79L484.4 76L484 73L482.4 70L477 63L476.3 60L477.5 58L484.4 53L488.4 47.6L493.4 42.7L494.9 40L495.1 37L494.3 34L492.4 31.7L489.4 30.5L485.4 30.8L482.4 31.7L480.3 33L476.4 40.7L474.4 43.2L471.4 44.4L468.6 43L467.2 39L467.7 35L469.8 32L474.4 29.4L475.9 28L477.2 24L477.5 17ZM531.4 17L568.1 17L567.8 46L568.7 56L567.6 58L565.4 58.8L561.4 58.7L554.4 56.8L551.6 55L550.5 52L550.2 40L548.9 35L547.4 33.1L545.4 31.9L536.4 31.1L533.4 29.8L532.3 28L531.6 25ZM596.4 17L604.8 17L606.1 31L605.8 37L604.9 40L603.5 42L600.4 43.5L598.4 43.1L597 42L595.7 40L594.8 37L594.6 30L595.7 17ZM661.4 17L677.2 17L678.1 31L677.9 37L676.4 41.7L673.4 44.4L669.4 45.2L665.4 44.8L662.4 43.3L660.9 41L659.9 37L659.7 32L660.5 17ZM716.4 17L718.4 17L718.4 67L716.2 63L715.3 59L716.2 48L715.9 31ZM699.4 69.9L702.4 69.7L704.4 71.2L708.4 79.2L713.2 86L714.4 90L714.7 96L713.5 106L713.4 112L715.8 129L716.4 142L714.8 171L697.2 171L697.2 165L695.8 160L694.4 157.8L689 153L687.8 151L687 148L686.8 141L687.7 132L689.1 130L695.1 126L697.2 123L698.8 117L699.2 109L698.4 101L696.7 96L694.9 94L687.5 89L686.1 87L685.7 85L686.4 83L687.4 82.1L691.5 80L693.9 78L697.4 71.9ZM382.5 103L383.4 110.6L383.5 125L385.6 139L386 171L382.4 171L382.4 102.6Z"/>
<path fill="#bbe5df" d="M498.4 56.9L502.4 58.6L505.8 62L507.4 65.1L510.2 74L513.1 78L517.4 80.5L530 85L533.9 88L534.8 90L534.9 93L532.2 101L532.1 104L533.4 105.6L535.4 106.6L541.4 107.4L544.4 108.5L546.4 110.6L547.2 113L547.4 119L546.5 126L545.4 129.3L543.7 131L540.4 131.5L531.4 128.9L528.4 129.6L523.4 132.1L520.4 132.5L518.4 131.3L517.5 130L514.3 120L511.4 116.5L509.4 115.8L506.4 116L498.4 119L496.4 117.4L495.4 114L494.9 108L495.8 86L495.1 64L495.7 59L496.4 57.7ZM439.4 90L449.4 89.4L453.4 89.9L456.4 91.4L465.1 98L467.4 101L468.2 104L468 108L466.8 113L464.7 117L458.4 123.6L453.4 131.1L451.4 132.9L448.4 133.6L437.4 132.9L433.4 133.8L431 136L428.4 141.7L426.4 144L422.4 146.1L419.4 145.9L417.4 144L416.6 142L415.9 136L417.4 130.1L421.4 125L422.4 122.4L421.9 108L423.4 106L427.4 104.6L430.4 102.3L432.4 99.3L435.4 92.5L436.9 91ZM620.4 107.9L622.4 108.2L623.4 109L624.1 111L624.1 114L622.4 118L620.4 119.4L618.4 119.5L616.4 118.2L615.8 117L615.6 113L617.4 109.4ZM580.4 142.8L582.4 142.6L584.4 143.4L585.9 145L587 148L587 151L586.1 154L584.4 155.8L582.4 156.5L580.4 156.3L578.5 155L576.9 151L577.4 146L578.7 144Z"/>
<path fill="#84cec3" d="M506.4 79.7L508.4 79.9L521.5 84L527.4 86.4L529.5 88L530.6 90L530.7 92L530 94L527.4 96.6L523.4 97.8L516.4 97.2L510.3 95L506.5 92L504.5 88L504.5 83L505.4 80.5ZM447.4 94.9L452.4 95.1L455.4 96.7L458.2 99L460.9 103L461.1 106L460.4 108.5L451.9 122L448.4 125.8L445.4 127.2L441.4 127.8L436.4 127.6L433.4 126.8L431.2 125L430 122L429.7 118L430.5 114L440.4 98.6L443.4 96.3ZM541.4 114.7L542.4 114.8L543.4 115.9L543.7 118L543.1 121L542.4 121.9L541.4 122.1L540 121L539.2 118L539.8 116Z"/>
<path fill="#4ca79e" d="M515.4 85.8L519.5 86L524.2 88L525.6 90L525.1 92L523.4 93.2L520.4 93.6L517.4 93.1L515.4 92.1L513.4 90L512.9 88L513.4 86.8ZM447.4 104L449.4 104.6L450.8 107L450.6 111L449.4 114.7L447.4 118L445.4 119.9L442.4 121.2L440.1 121L438.6 120L437.9 118L438.2 115L439.4 111.7L441.4 107.9L443.4 105.6L445.4 104.4Z"/>
<path fill="none" stroke="#222" stroke-width="0.7" stroke-linejoin="round" d="M376.44 15.09L376.44 20L373.52 26.14L370.77 35.96L369.86 42.09L370.32 47.01L369.4 57.56L370.13 62.96L371.69 66.65L373.24 70.33L374.43 75.24L375.8 78.18L378.54 82.85L381.74 80.88L385.4 80.15L387.69 78.18L389.51 78.18L390.88 83.09L393.17 82.6L394.27 85.06L394.08 91.2L393.9 96.11L396.19 104.7L396.64 108.38L397.56 115.75L397.92 120.66L396.37 127.53L396.19 135.38L397.74 143.98L398.66 148.89L399.11 159.94L400.48 163.86L401.4 169.75L401.85 174.66L402.31 178.35L403.68 179.58L408.25 178.35L411 174.66L413.28 169.75L413.74 167.05L415.02 163.62L415.29 157.48L416.02 155.76L417.85 152.08L417.67 146.43L417.12 142.26L418.77 139.8L421.51 134.16L422.52 129.25L422.42 119.43L421.51 113.29L421.24 108.38L421.69 103.47L423.34 97.82L425.17 92.42L427.45 87.51L429.74 80.15L431.11 72.78L432.3 64.68L429.28 66.15L425.62 68.12L424.98 64.68L424.43 61.73L421.97 55.11L421.05 50.69L419.59 44.55L419.22 39.64L417.94 34.98L416.94 29.82L416.02 26.14L415.11 20.25L414.93 16.32L412.82 16.32L408.25 15.09L403.68 15.09L394.54 2.81L380.83 5.27L376.44 15.09ZM705.54 15.09L705.54 20L702.62 26.14L699.87 35.96L698.96 42.09L699.42 47.01L698.5 57.56L699.23 62.96L700.79 66.65L702.34 70.33L703.53 75.24L704.9 78.18L707.64 82.85L710.84 80.88L714.5 80.15L716.79 78.18L718.61 78.18L719.98 83.09L722.27 82.6L723.37 85.06L723.18 91.2L723 96.11L725.29 104.7L725.74 108.38L726.66 115.75L727.02 120.66L725.47 127.53L725.29 135.38L726.84 143.98L727.76 148.89L728.21 159.94L729.58 163.86L730.5 169.75L730.95 174.66L731.41 178.35L732.78 179.58L737.35 178.35L740.1 174.66L742.38 169.75L742.84 167.05L744.12 163.62L744.39 157.48L745.12 155.76L746.95 152.08L746.77 146.43L746.22 142.26L747.87 139.8L750.61 134.16L751.62 129.25L751.52 119.43L750.61 113.29L750.34 108.38L750.79 103.47L752.44 97.82L754.27 92.42L756.55 87.51L758.84 80.15L760.21 72.78L761.4 64.68L758.38 66.15L754.72 68.12L754.08 64.68L753.53 61.73L751.07 55.11L750.15 50.69L748.69 44.55L748.32 39.64L747.04 34.98L746.04 29.82L745.12 26.14L744.21 20.25L744.03 16.32L741.92 16.32L737.35 15.09L732.78 15.09L723.64 2.81L709.93 5.27L705.54 15.09ZM416.94 16.32L416.94 21.23L417.4 24.91L418.77 29.82L420.14 34.73L421.24 40.87L422.42 47.01L423.79 51.91L424.43 56.83L424.98 62.47L426.54 62.23L429.28 59.28L432.48 56.33L433.12 55.11L435.68 51.91L437.23 49.46L438.24 47.01L438.88 43.32L440.07 38.41L439.15 35.71L437.51 34.73L436.87 32.52L436.96 29.33L436.59 29.33L436.14 31.05L434.76 34.24L432.94 34.73L432.48 32.27L432.57 29.82L431.57 29.33L431.11 27.37L429.74 23.68L429.28 20L430.01 20L431.38 21.96L432.02 24.91L433.85 27.86L435.5 28.59L436.78 27.12L437.78 30.31L441.62 31.78L443.91 31.54L446.19 31.29L446.92 33.5L447.75 35.47L448.48 37.68L449.39 38.41L448.48 40.13L449.39 42.09L450.49 42.83L451.68 40.87L451.77 39.15L451.95 42.09L451.95 47.01L452.41 51.91L452.87 55.6L453.51 60.51L453.96 64.19L454.88 69.1L455.33 72.05L456.25 73.76L456.89 71.8L457.62 70.82L458.44 68.36L458.35 64.19L458.72 60.51L458.62 56.33L459.45 53.63L460.64 52.9L461.73 49.95L463.1 46.27L464.48 44.55L464.93 40.87L466.3 40.13L467.67 39.64L468.59 38.41L469.32 39.15L469.78 42.83L470.42 44.55L471.33 48.23L471.79 53.14L472.25 54.86L473.16 53.14L474.07 52.41L474.62 54.37L474.99 58.05L475.45 60.51L475.54 64.19L475.45 67.87L475.26 71.56L475.26 74.01L476.54 77.69L477.09 81.38L477.55 85.06L478.19 86.78L479.1 88.74L480.02 90.46L480.66 90.21L480.02 86.28L479.92 82.6L479.19 78.92L478.19 76.96L477.27 75.73L476.82 71.56L476.09 67.87L476.36 64.19L476.82 60.75L477.73 62.47L479.1 64.19L479.56 66.65L480.93 67.87L481.2 72.54L482.76 70.33L483.67 67.87L485.04 65.42L485.32 61.73L485.04 56.83L484.13 53.88L483.22 51.91L482.3 48.23L482.03 45.78L482.76 43.32L483.67 40.87L484.59 40.38L485.68 40.87L486.32 43.81L486.42 41.6L487.79 40.13L489.16 39.15L489.8 38.66L491.44 37.43L492.81 35.22L494 32.27L494.73 29.82L495.1 26.63L496.01 23.68L496.93 20L496.47 17.55L496.75 15.09L496.01 12.63L495.1 7.72L440.25 -4.55L416.94 16.32ZM430.47 123.11L431.29 129.25L431.47 131.7L430.93 135.38L430.47 137.84L429.74 143.98L428.82 151.34L428.37 155.03L426.72 156.25L425.62 155.03L424.98 148.89L425.35 145.2L426.08 141.52L425.62 136.61L426.08 133.42L427.91 131.7L428.82 129.25L429.28 126.79L430.47 123.11ZM458.35 74.01L458.53 78.92L459.08 79.17L460.18 76.47L459.9 73.27L458.99 69.59L458.44 71.56L458.35 74.01ZM484.77 48.23L485.5 48.97L486.42 47.74L486.87 45.29L486.42 44.3L485.5 44.55L484.77 46.51L484.77 48.23ZM495.19 37.19L495.74 39.64L496.01 39.15L496.47 35.96L496.93 32.27L496.47 31.54L495.74 33.5L495.19 37.19ZM495.1 54.37L495.56 48.23L496.47 47.99L497.2 48.72L497.11 51.91L496.75 55.6L497.39 58.79L498.48 59.77L498.94 62.72L498.03 61.98L496.93 60.02L495.83 59.77L495.65 58.05L495.1 54.37ZM496.93 76.47L498.3 74.5L498.94 73.27L500.13 69.84L501.04 72.78L500.77 77.69L500.13 79.66L499.21 78.43L498.57 75.73L496.93 76.47ZM496.84 64.68L497.66 68.12L498.3 70.82L499.21 69.1L499.95 65.91L499.67 62.96L498.76 63.45L497.84 65.42L496.84 64.68ZM492.54 73.27L493.73 70.33L494.83 66.65L494.46 65.91L493.27 69.1L492.54 73.27ZM485.04 89.97L485.59 88.74L486.87 89.97L487.33 87.02L488.7 85.79L490.07 82.6L490.89 80.64L491.9 77.69L492.63 76.96L493.73 80.15L494.37 81.13L493.27 83.09L492.81 86.28L493.27 91.2L494 91.2L492.81 93.65L492.36 96.11L491.9 99.79L491.44 102.98L490.07 102.24L488.7 101.51L487.33 101.02L486.14 100.52L485.96 97.33L485.04 93.65L485.04 89.97ZM472.52 79.9L474.53 80.88L475.45 83.83L476.82 87.51L478.19 89.48L479.56 92.42L480.2 96.11L480.93 98.56L482.12 101.02L482.3 104.7L482.12 107.89L480.93 108.13L480.02 105.92L478.92 103.47L478.01 100.52L477.09 96.11L476.09 92.42L475.45 89.23L474.53 87.51L473.62 85.06L472.52 79.9ZM481.57 110.34L482.3 108.38L483.67 108.87L484.59 110.1L486.42 109.61L487.33 110.1L488.43 110.84L490.07 112.8L489.98 115.01L488.24 114.03L485.96 113.29L484.13 112.55L482.76 111.57L481.57 110.34ZM490.71 113.78L491.9 114.03L494.19 114.03L495.56 114.03L497.39 113.78L497.84 114.52L496.01 115.5L494.19 115.25L492.36 115.75L490.99 115.25L490.71 113.78ZM498.76 118.2L500.13 116.24L501.77 114.27L500.58 115.75L499.21 118.69L498.76 118.2ZM494.64 107.15L494.55 102.24L494 99.79L494.64 94.88L495.1 92.18L496.01 90.46L497.84 91.2L499.21 89.97L499.85 89.97L499.03 92.67L497.84 92.42L496.47 92.42L495.28 92.67L495.74 96.84L496.56 96.11L498.12 95.61L497.11 98.56L497.39 104.7L496.47 104.7L496.01 100.52L495.56 101.02L495.47 107.15L494.64 107.15ZM501.96 88.25L502.41 91.2L503.14 92.42L502.41 93.65L502.87 95.61L502.14 94.88L501.96 91.69L501.96 88.25ZM502.41 101.51L504.24 101.02L504.97 102.98L503.33 102.49L502.41 101.51ZM500.58 101.51L501.5 101.51L501.5 102.98L500.58 102.73L500.58 101.51ZM505.16 96.11L506.53 94.88L507.9 95.61L508.81 101.75L511.1 97.33L513.38 99.54L516.13 101.75L518.59 105.43L520.24 108.87L520.51 113.29L522.52 118.94L520.7 118.69L519.33 115.25L517.04 112.8L515.76 116.48L514.3 115.99L512.47 113.54L511.55 110.84L512.01 108.38L510.64 105.92L508.81 104.45L507.44 103.47L506.25 100.52L505.16 97.33L505.16 96.11ZM521.15 107.15L522.52 105.92L523.9 104.7L524.63 103.96L524.17 107.15L522.52 108.87L521.15 107.15ZM528.47 110.34L529.38 112.06L531.21 114.52L532.4 116.97L533.04 118.94L532.12 117.71L530.3 114.03L528.47 110.34ZM490.53 167.3L490.53 172.21L490.53 179.58L504.24 179.58L525.27 179.58L525.27 169.75L525.36 167.3L525.82 164.35L525.45 161.16L525.27 155.52L523.44 151.34L523.26 148.89L522.07 148.4L521.43 143.49L519.05 139.07L518.41 134.16L518.23 130.48L516.77 128.02L516.58 124.34L515.67 119.92L515.21 120.66L514.85 125.56L514.75 132.93L514.11 136.61L512.47 135.88L510.64 132.93L509.27 129.98L509.73 126.3L510.64 124.34L510.18 123.11L508.81 123.85L506.98 122.86L506.53 121.88L505.16 123.6L504.52 125.56L503.78 130.23L503.33 130.48L501.96 128.02L500.58 128.02L499.21 131.7L498.3 135.38L497.11 137.84L496.01 141.52L494.19 142.75L492.17 144.22L489.8 147.17L489.43 150.12L489.07 153.8L489.62 158.71L490.44 164.84L490.53 167.3ZM535.32 143.24L536.24 144.71L538.07 148.15L537.61 148.64L535.78 145.2L535.32 143.24ZM547.48 136.61L548.58 136.12L548.58 138.33L547.66 138.33L547.48 136.61ZM571.98 44.8L572.8 46.27L572.8 44.8L571.98 44.06L571.98 44.8ZM604.8 7.72L607.09 12.63L608.46 18.77L609.37 21.23L610.28 24.91L611.2 27.86L612.11 32.27L613.94 37.19L614.4 36.69L613.48 33.99L612.57 29.82L611.38 24.91L609.83 20L609.65 16.32L611.2 17.05L612.57 23.68L613.94 26.63L614.86 30.31L615.77 32.27L617.14 35.96L618.06 39.64L618.15 43.32L617.87 44.55L618.97 46.51L619.88 48.72L621.25 49.71L623.08 51.91L624.91 54.12L626.28 55.11L627.65 53.88L628.57 53.88L629.94 56.83L630.85 59.28L632.41 60.51L634.05 61.24L634.69 61.98L635.42 64.19L636.16 66.65L636.16 69.1L636.8 69.84L637.07 70.33L638.08 73.03L639.54 73.52L640.91 75.73L641.37 75.24L641.82 72.05L642.74 73.27L643.19 75.24L643.74 77.2L643.74 83.83L643.83 87.51L642.56 89.97L641.37 91.69L640.91 94.88L641.28 100.03L640.45 104.7L640.27 107.89L641.37 110.84L642.46 114.52L643.65 120.66L644.84 126.79L645.94 131.46L647.77 134.16L649.14 136.61L650.23 139.07L650.42 145.2L650.05 151.34L649.96 157.48L649.32 163.62L649.05 167.3L649.05 172.21L648.68 179.58L663.31 179.58L666.05 175.89L667.88 169.75L668.52 167.3L669.71 163.62L670.16 157.48L670.62 155.76L671.99 152.57L673.36 151.34L675.01 150.12L676.11 149.87L677.02 147.17L677.75 142.75L678.21 140.3L678.66 136.61L678.85 130.48L679.3 125.56L680.22 121.88L681.59 118.2L682.5 113.29L682.69 110.84L682.23 107.15L680.68 105.43L679.3 102.73L677.48 100.52L675.65 100.03L674 99.79L673.36 97.33L671.08 95.12L670.16 96.6L669.25 94.14L668.33 91.2L667.69 83.83L666.51 80.88L665.13 79.41L663.31 79.17L661.94 78.92L661.02 76.47L659.65 73.27L658.28 70.08L657.36 67.63L655.99 67.63L654.16 67.63L652.34 67.87L650.97 65.42L649.59 66.65L649.14 69.1L649.41 71.56L648.86 70.33L648.68 66.65L648.22 64.68L647.31 65.91L646.39 66.65L645.48 68.12L645.02 70.57L644.29 72.54L643.74 72.29L642.74 70.57L641.73 70.08L640.45 71.8L639.36 71.06L638.62 69.1L638.08 66.89L637.98 62.96L638.26 58.54L637.71 56.83L636.34 54.62L634.51 54.86L633.78 55.11L633.32 54.37L633.87 50.69L634.33 47.01L634.51 43.81L635.15 41.36L634.05 40.87L631.95 42.09L631.77 45.04L630.85 48.23L629.48 48.48L628.11 48.97L626.92 47.74L626.28 45.78L625.64 43.08L625.37 39.64L625.09 34.73L625.46 30.31L625.55 26.14L626.28 24.17L627.84 21.47L629.21 20.49L631.31 21.72L632.68 20.98L633.14 19.26L635.88 19.02L637.44 20L638.62 22.45L638.99 26.14L639.81 30.07L640.54 31.78L641.18 29.82L641.37 27.37L640.82 23.68L640.18 18.77L640.45 15.09L644.11 7.72L604.8 7.72ZM636.8 40.13L638.17 39.15L639.54 36.94L641.37 36.94L643.19 38.9L645.02 41.85L646.67 44.06L645.94 44.8L643.65 44.8L643.38 42.83L642.28 40.62L640 40.13L638.62 40.87L636.8 40.13ZM646.39 48.48L647.95 44.8L650.51 45.29L652.06 47.99L651.7 48.97L649.59 48.97L648.22 48.97L646.49 48.97L646.39 48.48ZM642.92 48.72L644.75 48.97L644.29 49.71L643.01 49.21L642.92 48.72ZM653.07 48.48L654.53 48.48L654.44 49.46L653.07 49.46L653.07 48.48Z"/>
<path fill="none" stroke="#000" stroke-width="0.6" d="M412.09 101.75L412.37 105.92L413.28 112.06L413.74 115.01L413.37 114.52L412.55 109.61L412 104.7L412.09 101.75ZM416.76 116.97L417.12 120.66L416.94 124.34L417.67 128.76L417.21 125.56L416.76 120.66L416.76 116.97ZM414.47 94.39L416.02 92.91L416.48 94.88L416.3 99.79L415.11 99.79L414.38 97.33L414.47 94.39Z"/>
<path fill="none" stroke="#000" stroke-width="2.2" stroke-linecap="round" stroke-dasharray="0 3.655" d="M399.8 29.9H443.6M450.9 29.9H454.6M461.9 29.9H480.2M487.5 29.9H516.7M531.3 29.9H567.9M575.2 29.9H586.2M626.4 29.9H655.6M662.9 29.9H677.6M695.8 29.9H703.1M396.1 39.7H403.4M414.4 39.7H443.6M461.9 39.7H494.8M502.1 39.7H524.0M527.7 39.7H567.9M578.9 39.7H604.5M615.4 39.7H633.7M641.0 39.7H655.6M662.9 39.7H666.6M684.9 39.7H692.2M407.1 49.4H436.3M447.3 49.4H458.3M461.9 49.4H494.8M535.0 49.4H549.6M571.5 49.4H604.5M611.8 49.4H652.0M659.3 49.4H692.2M706.8 49.4H706.8M410.7 59.2H498.5M535.0 59.2H567.9M578.9 59.2H593.5M604.4 59.2H688.5M699.5 59.2H703.1M385.1 68.9H714.1M385.1 78.7H410.7M432.7 78.7H461.9M487.5 78.7H513.1M527.7 78.7H714.1M385.1 88.5H399.8M447.3 88.5H714.1M385.1 98.2H714.1M385.1 108.0H571.6M578.9 108.0H637.4M648.3 108.0H695.8M706.8 108.0H710.5M385.1 117.7H556.9M571.5 117.7H641.0M652.0 117.7H714.1M392.5 127.5H461.9M476.5 127.5H476.5M491.1 127.5H564.2M575.2 127.5H575.2M593.5 127.5H644.7M652.0 127.5H714.1M392.5 137.3H472.9M487.5 137.3H498.5M527.7 137.3H714.1M403.4 147.0H454.6M461.9 147.0H476.5M498.4 147.0H520.4M535.0 147.0H589.8M597.1 147.0H597.1M608.1 147.0H714.1M392.5 156.8H469.2M483.8 156.8H502.1M531.3 156.8H593.5M611.8 156.8H677.6M684.9 156.8H714.1"/>
</g>
<rect x="385.4" y="20" width="329.1" height="147.3" fill="none" stroke="#000" stroke-width="1.7"/>
<text x="459.2" y="12.6" class="lb" textLength="17.6" lengthAdjust="spacingAndGlyphs">(b)</text>
<text x="484.3" y="15.1" class="ttl" textLength="159.4" lengthAdjust="spacingAndGlyphs">AMIP Pr Trend 60-14</text>
<clipPath id="clipc"><rect x="25.6" y="193" width="328.9" height="147.5"/></clipPath>
<g clip-path="url(#clipc)">
<rect x="25.6" y="193" width="328.9" height="147.5" fill="#ff9a9a"/>
<rect x="24.6" y="192.0" width="330.9" height="149.5" fill="#6c6cf8"/>
<path fill="#a0a0fa" d="M23.6 190L198.4 190L197.9 193L198.6 194.2L199.6 194.5L200.6 194.2L201.4 193L200.9 190L268 190L267.9 193L268.6 196.3L269.6 197.7L271.6 198.6L273 198L274.1 196L274.4 190L357.6 190L357.6 344L22.6 344L22.6 190Z"/>
<path fill="#cdcdfa" d="M23.6 190L188.2 190L188.6 196L190.6 200.6L194.6 204.5L198.6 205.5L201.6 205.1L203.6 204.1L206.6 201.1L208.6 196L209 190L215.7 190L215.4 193L216 195L217.6 196.8L219.6 197.3L221.6 196.4L222.6 195L222.9 190L265.6 190L265.8 196L267.6 201.1L271.6 204.9L276.6 206.8L279.2 206L281 203L282 197L282.1 190L357.6 190L357.6 344L22.6 344L22.6 190ZM53 206L53.3 207L54.6 207L54.6 205.7L53.6 205.5ZM182.8 219L178.3 229L175.6 230.7L171.6 230.5L170.6 231.1L170.1 233L170.6 239L172.6 246L175.4 250L178.6 251.3L181.6 250.7L183.6 248.5L190.7 229L190.5 224L188.6 219.9L185.6 218ZM310.8 222L309.1 223L307.7 225L307.1 230L308.5 238L309.3 251L310.8 254L312.3 255L313.6 255.1L315.6 254.3L316.9 253L319.2 248L319 237L319.8 227L319.1 224L317.1 222L314.6 221.4Z"/>
<path fill="#ffffff" d="M23.6 190L37.1 190L37.2 193L33.5 200L32.1 205L32.5 209L34.6 211.8L36.8 213L39.6 213.7L53.6 214.3L56.6 213.9L58.6 212.9L60.4 211L61.6 208L61.9 202L59.5 193L59.5 190L181.6 190L181.4 196L180.4 200L174.3 207L167.6 216.6L165.8 221L165.1 227L166.1 239L169.8 249L171.6 251.8L173.6 253.5L176.6 254.7L179.6 255.2L182.6 254.6L184.6 252.7L189.1 241L194.6 233.1L197.6 230.4L203.6 227.5L205.6 225.3L207.4 221L209.3 213L212 207L214.6 203.9L221.6 201.1L223.6 199.4L225.4 195L225.6 190L263.9 190L264.3 198L266.2 204L269.6 208.2L279.6 216.6L281.7 219L286.3 232L291.7 241L294.3 253L295.6 256.7L300.6 263.8L304.6 272.5L306.6 274.2L307.9 274L309.6 272.6L313.7 266L320.6 258.5L327.3 247L328.2 242L327.3 226L325 219L322.6 216.1L320.6 215.9L312.6 217.5L306.6 217.1L304.6 216L298.9 210L291.6 205.6L289.6 203L288.7 200L288.1 190L357.6 190L357.6 344L204.9 344L204.9 339L206.1 335L208.2 332L213.8 327L215 324L214.4 321L212.6 319.1L209.6 317.8L206.6 317.4L203.6 318.5L202 321L199.4 330L196.1 338L195.6 341L195.9 344L98.1 344L98.1 339L97.1 335L95 332L92.6 331.3L89.4 333L86.2 337L85.2 340L85.5 344L22.6 344L22.6 190ZM149.6 222L148.1 223L147 225L146.3 231L147.6 236.1L148.6 237.3L150.6 237.8L151.8 237L152.8 235L153.5 229L152.5 224L151.6 222.7ZM111.3 308L109.6 309.2L108.6 310.9L107.9 316L108.5 320L109.6 322.6L110.8 324L112.6 324.8L114.6 323.9L115.8 322L116.8 318L116.9 314L116.3 311L115.2 309L113.6 307.9ZM32.6 317L30.2 318L28.2 320L27.5 322L28.1 325L29.8 327L32.6 328.3L35.6 328.6L37.9 328L39.6 326.9L41 325L41.5 322L40.9 320L39.6 318.4L37.6 317.2L35.6 316.7Z"/>
<path fill="#ffa3a3" d="M23.6 190L27.4 190L25.7 207L26.4 211L28.2 214L31.3 216L35.6 217.1L53.6 217.8L56.6 217.6L59.6 216.7L62 215L64.2 212L66.3 204L66.7 190L174.8 190L174.8 194L173.7 197L169.6 203L164.2 209L162.4 213L161.7 222L162.3 243L164.1 249L168.6 256.2L171.6 257.7L181.6 259.2L183.6 258.7L185.6 256.8L189.7 245L192.6 240.1L195.6 237.5L204.6 232.5L208.6 228L211 223L214.8 212L216.3 209L218.6 206.6L224.6 203L226.1 201L227.4 197L227.6 190L262.3 190L262.7 200L264.6 207L269.6 213.8L277.6 221.5L279.6 224.4L283.6 235L289.5 245L292.8 260L298.1 268L302.6 278.1L304.6 281.1L307.6 282.8L309.6 282.5L311.6 281.2L314.4 278L318.5 271L327.6 258.2L329.6 256.3L332.6 254.9L334.6 254.8L335.6 255.7L336.3 263L335.4 274L333.6 276.8L329.6 279.1L327.6 280.9L326.5 284L327.1 287L328.6 289.4L330.6 291.1L332.6 291.6L334.6 290.6L335.6 289.1L338.6 280.4L343.6 277.5L345.6 275.7L346.8 273L347.3 268L347 261L345.6 256.2L342.8 254L337.6 252.8L336.6 251.7L336.1 250L333.9 237L335.7 225L335.4 222L327.5 211L324.6 208.7L321.1 209L316.6 212.2L313.6 213.5L310.6 213.3L308.6 212.4L303.6 207.8L296.6 203.2L294.2 201L291.9 196L291.6 190L356.7 190L355.4 205L356.1 210L357.6 212.7L357.6 314.3L355.3 317L354.3 322L355.1 327L356.1 329L357.6 330.3L357.6 344L266 344L266 339L263.6 333.1L259.6 328.4L257.6 327.1L255.6 326.7L253.9 328L253.5 330L254.2 344L208.1 344L207.9 340L209.3 336L211.6 333.4L216.6 330.6L218.3 329L219.4 326L219.4 323L218.4 320L215.6 316.9L208.6 313.9L202.6 312.5L200.4 313L198.6 315L196.1 326L190.1 335L189.2 339L189.2 344L101.5 344L101.4 337L100 331L97.4 327L95.6 325.8L93.6 325.5L91.6 326.1L88.6 328L79.4 336L77.5 340L77.8 344L22.6 344L22.6 325.4L24.5 329L27.1 331L31.6 332.5L36.6 332.7L39.6 331.9L42.6 329.7L44.6 326.9L45.6 323L44.9 319L43.2 316L40.6 313.6L36.6 312.2L31.6 312.5L27.2 314L24.7 316L22.6 319.7L22.6 190ZM149.3 218L146.8 220L145.3 223L144.5 228L144.6 233L145.5 237L146.6 239.3L148.6 241.4L151.6 242.2L153.6 241.6L155.3 239L156.2 234L156.2 226L155.4 222L153.8 219L151.6 217.8ZM202.4 281L199 283L197.9 286L199.6 288.3L201.6 289.2L203.6 289.3L205.6 288.1L206.2 287L206.5 284L205.6 282L204.6 281.2ZM110.4 304L107.2 306L105.5 309L104.7 314L105 320L106.2 325L108.6 328.8L111.6 330.8L114.6 330.9L117.4 329L119.1 325L120.1 317L119.9 311L118.7 307L116.6 304.6L113.6 303.6Z"/>
<path fill="#ff7a7a" d="M72.6 190L150.3 190L150.5 194L153.7 202L154.4 208L153.4 211L146.6 215.8L144.9 218L143.8 221L142.7 231L143.2 236L144.4 240L147.6 244.6L154.3 250L160.2 257L165.6 264.9L168.6 265.8L175.6 264L182.6 266.1L184.6 265.4L185.6 264.4L187.6 261L190.6 248.5L192.7 244L194.6 242L196.6 240.9L204.6 239.3L207.6 236.6L211.2 232L216.3 224L218.2 214L219.6 211.1L221.6 209.2L226.6 207L228.6 205.2L229.6 201L229.7 190L260.7 190L261.2 208L262.4 213L264.9 219L265.3 223L261.2 239L255.6 243.8L254.1 246L253.3 250L253.8 253L255.2 255L257.6 256L259.6 255.8L261.6 254.4L262.8 252L264.7 245L269.6 240.7L270.8 239L273.2 228L274.6 227.4L276.6 228.5L278.6 232L281.5 239L285.6 244.4L287.4 248L288.3 252L288.8 261L289.5 264L296.6 272.1L302.6 287.1L304.6 290.5L306.6 292.1L308.6 292.5L316.6 289.5L319.6 289.6L323.6 292.7L326.6 297L327.4 300L326.6 307L327 310L328.7 313L333.9 319L335.7 324L335.9 329L334.6 340L334.7 344L309.8 344L311 342L310.9 340L310.1 339L308.6 338.7L307.6 339.3L307 341L308.3 344L274.5 344L274.8 340L273.7 337L262.3 320L258.6 317.2L251.6 316.2L247 317L244.3 327L242.6 328.9L238.6 330.7L237 332L236.1 336L235.9 344L225.2 344L225.2 339L226.4 334L228.6 331.1L233.9 328L236.6 318L238.6 316.4L243.6 315.3L245.1 314L245.6 310L245.1 305L243.6 302.4L242.6 301.8L240.6 302L237.6 304.7L233.4 313L230.6 314.3L224.6 315.3L212.6 311.7L203.6 306.9L195.6 305.1L193.6 304L192 302L191 299L190.8 295L191.6 292.7L194.6 292.3L205.6 294.5L208.6 293.7L210 292L210.9 287L210.2 280L208.6 276.5L205.6 275.5L200.6 277.2L194.7 281L192 284L189.6 289.5L184.6 291.9L182.6 293.6L178.6 300.2L173.5 306L170.5 314L169.6 315L165.6 317L163.6 318.8L159.6 326.7L156.6 329.4L152.6 329.6L139.6 327.3L136.6 326L131.6 322.7L127.6 321.3L126.2 319L123.4 307L121 302L119.6 300.5L117.6 299.7L112.6 299.6L106.6 300.8L102.4 303L100.5 306L99 314L97.9 316L85.6 324.7L78.6 327.4L75.6 329.5L72.1 334L69.9 338L69.3 341L69.6 344L24.6 344L24.2 340L25.6 337.9L28.6 337.1L37.6 337.5L40.6 336.5L43.6 334.6L48.7 329L50.2 324L49 318L44.9 310L44 307L44.8 304L48 298L48.4 296L48 294L45.7 292L42.6 291.1L31.6 290.8L27.7 290L25.3 288L23.9 285L23.3 278L23.7 264L24.4 259L26.6 253L33 245L34.1 242L32.9 239L27.6 234L26.1 232L26.1 228L26.9 226L28.6 224L32.6 222.2L40.6 221.3L57.6 221.3L61.6 220.4L66 218L68.9 215L70.9 210L71.8 202L72.1 190ZM221.9 242L219.6 243.3L218.3 245L217.5 247L217.2 250L218.6 254L220.6 255.7L222.6 256.1L224.6 255.6L226.3 254L227.1 251L227.2 248L226.7 245L225.6 243L223.6 241.9ZM295.6 190L308.2 190L308.3 199L307.6 201.5L305.6 202.3L303.6 202.1L300.6 201L297.7 199L295.3 195L295 191L295.1 190ZM318.6 190L328.7 190L328.5 197L327.6 199.8L326.6 201.1L322.6 202.3L320.4 202L318.9 201L318.1 199L317.9 196L317.9 190ZM343.6 227.9L346.6 228L348.3 229L349.6 231L350.1 234L349.5 238L348.3 241L346.6 243.2L343.6 244.5L341.6 244.1L339.6 242.2L338.6 239.9L338.1 237L338.5 234L339.6 231.1L341.6 228.8ZM357.6 252.8L357.6 285.3L353.6 275L352.4 266L353.6 258.2L355.4 255ZM173.6 317.3L175.6 317L178.6 318L180.5 320L181.3 322L182.1 329L181.6 344L171.1 344L171.7 322L172.2 319ZM213.6 336.9L215.6 336.8L217.6 338.7L218.2 341L217.8 344L211.5 344L211.1 340L212.2 338ZM108.6 339L110.6 339.3L111.8 341L111.6 342L109.6 343.6L108.6 343.4L107.8 342L107.8 340ZM357.6 338.8L357.4 344L356.5 341Z"/>
<path fill="#ff4242" d="M123.6 190L143.8 190L144.1 196L147.4 206L146.6 208.9L143.6 213.1L142.3 216L140.9 224L140.7 232L141.2 238L142.6 243L146.3 251L145.9 253L143.6 254.5L140.6 254.5L138.6 253.7L135.4 250L133.4 242L133.2 226L132.4 221L131.6 219L129.6 216.8L122.7 213L121.2 210L120.9 203L122.6 194L122.7 190ZM232.6 190L258.6 190L257.7 203L254.6 211.5L252.2 215L246.6 220.5L241.6 228.5L238.6 230.6L235.6 231.2L231.6 230.8L228.6 229L227 226L226.3 222L226.5 219L227.2 218L233.6 215L235.3 213L236.2 211L236.3 207L233.1 197ZM300.6 190.5L301 190L302.7 190L303.2 192L302.6 194.3L301.6 194.5L300.6 193.8L300.2 192ZM82.6 205.9L85.6 205.2L89.6 206.6L91.6 209L92.4 212L91.9 218L90.1 224L87.6 227.8L84.6 229.3L82.6 228.7L81 227L79.4 221L79.8 211L80.8 208ZM92.6 242.7L94.6 242.5L97 244L100.8 251L105.3 257L108.6 263.4L110.6 265.8L112.6 266.6L114.6 266.5L121.6 264.1L123.6 265L124.9 267L125.9 271L126 284L126.6 287.4L127.6 289L132.6 291.6L134.2 293L135.6 296L135.8 299L134.4 303L132.6 304.4L130.6 304.5L127.6 302.2L124.6 294.9L122.6 292.7L119.6 292.4L109.6 294.1L98.6 291.3L93.6 291.4L91 293L89.6 296L89.5 299L90.6 308L89.9 312L87.6 315.8L84.6 317.3L82.5 316L80.1 309L78.6 306.2L73.4 302L72 300L71.3 286L70.6 283L69.6 281.4L67.8 280L65.6 279.3L56.6 279.6L52.6 278.9L49.6 276.9L48.7 275L48.6 273L49.5 270L51.2 267L56.6 260.5L58.6 259.4L65.6 258.4L72.6 254.4L75.6 254.7L77.6 256.2L81.6 263.9L83.6 266L85.6 266.6L88 266L89.7 264L90.4 261L89 251L89.2 247L90.6 244.2ZM195.6 245.5L198.6 245.5L200.2 247L200.9 249L200.5 260L201.9 269L200.6 272L198.6 273.8L195.6 275.4L192.6 276L190.4 275L189.6 273.1L189.5 271L191.7 261L192.6 250.1L193.6 247.6ZM221.6 265.6L224.6 265.3L235.6 267.1L249.3 267L259.6 265.7L264.6 266.2L267.6 267.4L269.8 269L275.7 278L277.6 279.4L280.6 280.3L284.6 279.6L290.6 275.3L292.6 275.4L293.6 276L295.6 278.9L296.6 281.6L299.9 298L302.6 303.6L305.6 306.2L312.6 309.3L317.6 312.5L324.6 318.3L328.2 323L329.1 326L329.2 329L327.6 339L327.5 344L318.7 344L318.7 339L316.5 333L314.6 330.5L312.6 329L308.6 328L304.3 329L300.9 332L299.1 337L298.9 344L282.1 344L282 338L280.6 333.3L278.6 330.4L273.3 325L271.4 321L271 317L272.7 306L272.7 300L270.6 294L268.8 292L267 291L263.6 290.5L243.6 291.4L240.6 292.4L237.6 294.6L231.6 304L229.6 305.8L227.6 306.2L225.6 306L218.6 303.2L217.7 301L216 286L215.9 281L218 270L219.5 267ZM58.6 302.8L62.6 302.7L66.6 303.5L68.6 304.7L69.8 307L71.3 316L71.4 321L70.6 323.6L69.2 326L67.6 327.6L65.6 328.5L62.6 327.9L59.6 325.2L55.6 318.4L52.9 312L52.8 309L53.6 306.7L55.6 304.3Z"/>
<path fill="#fff" stroke="#000" stroke-width="0.7" stroke-linejoin="round" d="M16.65 188.08L16.65 193L13.72 199.15L10.98 208.98L10.07 215.12L10.53 220.04L9.61 230.61L10.34 236.02L11.9 239.71L13.45 243.4L14.64 248.31L16.01 251.26L18.75 255.93L21.95 253.97L25.6 253.23L27.88 251.26L29.71 251.26L31.08 256.18L33.37 255.69L34.46 258.15L34.28 264.29L34.1 269.21L36.38 277.81L36.84 281.5L37.75 288.88L38.12 293.79L36.56 300.68L36.38 308.54L37.93 317.15L38.85 322.06L39.3 333.12L40.67 337.06L41.59 342.96L42.05 347.88L42.5 351.56L43.87 352.79L48.44 351.56L51.18 347.88L53.47 342.96L53.92 340.25L55.2 336.81L55.48 330.67L56.21 328.95L58.03 325.26L57.85 319.6L57.3 315.43L58.95 312.97L61.69 307.31L62.69 302.4L62.6 292.56L61.69 286.42L61.41 281.5L61.87 276.58L63.51 270.93L65.34 265.52L67.63 260.6L69.91 253.23L71.28 245.85L72.47 237.74L69.45 239.22L65.8 241.18L65.16 237.74L64.61 234.79L62.14 228.15L61.23 223.73L59.77 217.58L59.4 212.67L58.12 208L57.12 202.83L56.21 199.15L55.29 193.25L55.11 189.31L53.01 189.31L48.44 188.08L43.87 188.08L34.74 175.79L21.03 178.25L16.65 188.08ZM345.55 188.08L345.55 193L342.62 199.15L339.88 208.98L338.97 215.12L339.43 220.04L338.51 230.61L339.24 236.02L340.8 239.71L342.35 243.4L343.54 248.31L344.91 251.26L347.65 255.93L350.85 253.97L354.5 253.23L356.78 251.26L358.61 251.26L359.98 256.18L362.27 255.69L363.36 258.15L363.18 264.29L363 269.21L365.28 277.81L365.74 281.5L366.65 288.88L367.02 293.79L365.46 300.68L365.28 308.54L366.83 317.15L367.75 322.06L368.2 333.12L369.57 337.06L370.49 342.96L370.94 347.88L371.4 351.56L372.77 352.79L377.34 351.56L380.08 347.88L382.37 342.96L382.82 340.25L384.1 336.81L384.38 330.67L385.11 328.95L386.93 325.26L386.75 319.6L386.2 315.43L387.85 312.97L390.59 307.31L391.59 302.4L391.5 292.56L390.59 286.42L390.31 281.5L390.77 276.58L392.41 270.93L394.24 265.52L396.53 260.6L398.81 253.23L400.18 245.85L401.37 237.74L398.35 239.22L394.7 241.18L394.06 237.74L393.51 234.79L391.04 228.15L390.13 223.73L388.67 217.58L388.3 212.67L387.02 208L386.02 202.83L385.11 199.15L384.19 193.25L384.01 189.31L381.91 189.31L377.34 188.08L372.77 188.08L363.64 175.79L349.93 178.25L345.55 188.08ZM57.12 189.31L57.12 194.23L57.58 197.92L58.95 202.83L60.32 207.75L61.41 213.9L62.6 220.04L63.97 224.96L64.61 229.88L65.16 235.53L66.71 235.28L69.45 232.33L72.65 229.38L73.29 228.15L75.85 224.96L77.4 222.5L78.41 220.04L79.05 216.35L80.23 211.44L79.32 208.73L77.68 207.75L77.04 205.54L77.13 202.34L76.76 202.34L76.31 204.06L74.94 207.26L73.11 207.75L72.65 205.29L72.74 202.83L71.74 202.34L71.28 200.38L69.91 196.69L69.45 193L70.18 193L71.55 194.97L72.19 197.92L74.02 200.87L75.67 201.6L76.94 200.13L77.95 203.32L81.79 204.8L84.07 204.55L86.36 204.31L87.09 206.52L87.91 208.49L88.64 210.7L89.55 211.44L88.64 213.16L89.55 215.12L90.65 215.86L91.84 213.9L91.93 212.18L92.11 215.12L92.11 220.04L92.57 224.96L93.02 228.65L93.66 233.56L94.12 237.25L95.03 242.17L95.49 245.12L96.4 246.84L97.04 244.87L97.78 243.89L98.6 241.43L98.51 237.25L98.87 233.56L98.78 229.38L99.6 226.68L100.79 225.94L101.89 222.99L103.26 219.3L104.63 217.58L105.08 213.9L106.45 213.16L107.82 212.67L108.74 211.44L109.47 212.18L109.93 215.86L110.57 217.58L111.48 221.27L111.94 226.19L112.39 227.91L113.31 226.19L114.22 225.45L114.77 227.42L115.13 231.1L115.59 233.56L115.68 237.25L115.59 240.94L115.41 244.62L115.41 247.08L116.69 250.77L117.24 254.46L117.69 258.15L118.33 259.87L119.25 261.83L120.16 263.55L120.8 263.31L120.16 259.38L120.07 255.69L119.34 252L118.33 250.03L117.42 248.8L116.96 244.62L116.23 240.94L116.5 237.25L116.96 233.81L117.87 235.53L119.25 237.25L119.7 239.71L121.07 240.94L121.35 245.61L122.9 243.4L123.81 240.94L125.18 238.48L125.46 234.79L125.18 229.88L124.27 226.93L123.36 224.96L122.44 221.27L122.17 218.81L122.9 216.35L123.81 213.9L124.73 213.4L125.82 213.9L126.46 216.85L126.55 214.63L127.92 213.16L129.29 212.18L129.93 211.68L131.58 210.45L132.95 208.24L134.14 205.29L134.87 202.83L135.23 199.64L136.15 196.69L137.06 193L136.6 190.54L136.88 188.08L136.15 185.62L135.23 180.71L80.42 168.42L57.12 189.31ZM70.64 296.25L71.46 302.4L71.65 304.85L71.1 308.54L70.64 311L69.91 317.15L69 324.52L68.54 328.21L66.9 329.44L65.8 328.21L65.16 322.06L65.52 318.38L66.26 314.69L65.8 309.77L66.26 306.58L68.08 304.85L69 302.4L69.45 299.94L70.64 296.25ZM98.51 247.08L98.69 252L99.24 252.25L100.33 249.54L100.06 246.35L99.15 242.66L98.6 244.62L98.51 247.08ZM124.91 221.27L125.64 222.01L126.55 220.78L127.01 218.32L126.55 217.34L125.64 217.58L124.91 219.55L124.91 221.27ZM135.32 210.21L135.87 212.67L136.15 212.18L136.6 208.98L137.06 205.29L136.6 204.55L135.87 206.52L135.32 210.21ZM135.23 227.42L135.69 221.27L136.6 221.03L137.33 221.76L137.24 224.96L136.88 228.65L137.52 231.84L138.61 232.82L139.07 235.78L138.16 235.04L137.06 233.07L135.96 232.82L135.78 231.1L135.23 227.42ZM137.06 249.54L138.43 247.57L139.07 246.35L140.26 242.9L141.17 245.85L140.9 250.77L140.26 252.74L139.34 251.51L138.71 248.8L137.06 249.54ZM136.97 237.74L137.79 241.18L138.43 243.89L139.34 242.17L140.08 238.97L139.8 236.02L138.89 236.51L137.97 238.48L136.97 237.74ZM132.68 246.35L133.86 243.4L134.96 239.71L134.59 238.97L133.41 242.17L132.68 246.35ZM125.18 263.06L125.73 261.83L127.01 263.06L127.47 260.11L128.84 258.88L130.21 255.69L131.03 253.72L132.04 250.77L132.77 250.03L133.86 253.23L134.5 254.21L133.41 256.18L132.95 259.38L133.41 264.29L134.14 264.29L132.95 266.75L132.49 269.21L132.04 272.9L131.58 276.09L130.21 275.35L128.84 274.62L127.47 274.12L126.28 273.63L126.1 270.44L125.18 266.75L125.18 263.06ZM112.67 252.98L114.68 253.97L115.59 256.92L116.96 260.6L118.33 262.57L119.7 265.52L120.34 269.21L121.07 271.67L122.26 274.12L122.44 277.81L122.26 281.01L121.07 281.25L120.16 279.04L119.06 276.58L118.15 273.63L117.24 269.21L116.23 265.52L115.59 262.32L114.68 260.6L113.76 258.15L112.67 252.98ZM121.71 283.47L122.44 281.5L123.81 281.99L124.73 283.22L126.55 282.73L127.47 283.22L128.56 283.96L130.21 285.93L130.12 288.14L128.38 287.15L126.1 286.42L124.27 285.68L122.9 284.7L121.71 283.47ZM130.85 286.91L132.04 287.15L134.32 287.15L135.69 287.15L137.52 286.91L137.97 287.65L136.15 288.63L134.32 288.38L132.49 288.88L131.12 288.38L130.85 286.91ZM138.89 291.33L140.26 289.37L141.9 287.4L140.72 288.88L139.34 291.83L138.89 291.33ZM134.78 280.27L134.69 275.35L134.14 272.9L134.78 267.98L135.23 265.27L136.15 263.55L137.97 264.29L139.34 263.06L139.98 263.06L139.16 265.77L137.97 265.52L136.6 265.52L135.42 265.77L135.87 269.95L136.7 269.21L138.25 268.72L137.24 271.67L137.52 277.81L136.6 277.81L136.15 273.63L135.69 274.12L135.6 280.27L134.78 280.27ZM142.09 261.34L142.54 264.29L143.27 265.52L142.54 266.75L143 268.72L142.27 267.98L142.09 264.78L142.09 261.34ZM142.54 274.62L144.37 274.12L145.1 276.09L143.46 275.6L142.54 274.62ZM140.72 274.62L141.63 274.62L141.63 276.09L140.72 275.85L140.72 274.62ZM145.28 269.21L146.65 267.98L148.02 268.72L148.94 274.86L151.22 270.44L153.51 272.65L156.25 274.86L158.71 278.55L160.36 281.99L160.63 286.42L162.64 292.07L160.81 291.83L159.44 288.38L157.16 285.93L155.88 289.61L154.42 289.12L152.59 286.66L151.68 283.96L152.14 281.5L150.76 279.04L148.94 277.57L147.57 276.58L146.38 273.63L145.28 270.44L145.28 269.21ZM161.27 280.27L162.64 279.04L164.01 277.81L164.74 277.08L164.29 280.27L162.64 281.99L161.27 280.27ZM168.58 283.47L169.49 285.19L171.32 287.65L172.51 290.1L173.15 292.07L172.23 290.84L170.41 287.15L168.58 283.47ZM130.67 340.5L130.67 345.42L130.67 352.79L144.37 352.79L165.38 352.79L165.38 342.96L165.47 340.5L165.93 337.55L165.57 334.35L165.38 328.7L163.56 324.52L163.37 322.06L162.18 321.57L161.55 316.65L159.17 312.23L158.53 307.31L158.35 303.62L156.89 301.17L156.7 297.48L155.79 293.05L155.33 293.79L154.97 298.71L154.88 306.08L154.24 309.77L152.59 309.03L150.76 306.08L149.39 303.13L149.85 299.45L150.76 297.48L150.31 296.25L148.94 296.99L147.11 296L146.65 295.02L145.28 296.74L144.64 298.71L143.91 303.38L143.46 303.62L142.09 301.17L140.72 301.17L139.34 304.85L138.43 308.54L137.24 311L136.15 314.69L134.32 315.92L132.31 317.39L129.93 320.34L129.57 323.29L129.2 326.98L129.75 331.9L130.57 338.04L130.67 340.5ZM175.43 316.41L176.35 317.88L178.17 321.33L177.72 321.82L175.89 318.38L175.43 316.41ZM187.58 309.77L188.68 309.28L188.68 311.49L187.77 311.49L187.58 309.77ZM212.07 217.83L212.89 219.3L212.89 217.83L212.07 217.09L212.07 217.83ZM244.87 180.71L247.15 185.62L248.52 191.77L249.43 194.23L250.35 197.92L251.26 200.87L252.18 205.29L254 210.21L254.46 209.72L253.55 207.01L252.63 202.83L251.44 197.92L249.89 193L249.71 189.31L251.26 190.05L252.63 196.69L254 199.64L254.92 203.32L255.83 205.29L257.2 208.98L258.11 212.67L258.21 216.35L257.93 217.58L259.03 219.55L259.94 221.76L261.31 222.75L263.14 224.96L264.97 227.17L266.34 228.15L267.71 226.93L268.62 226.93L269.99 229.88L270.9 232.33L272.46 233.56L274.1 234.3L274.74 235.04L275.47 237.25L276.2 239.71L276.2 242.17L276.84 242.9L277.12 243.4L278.12 246.1L279.58 246.59L280.95 248.8L281.41 248.31L281.87 245.12L282.78 246.35L283.24 248.31L283.79 250.28L283.79 256.92L283.88 260.6L282.6 263.06L281.41 264.78L280.95 267.98L281.32 273.14L280.5 277.81L280.31 281.01L281.41 283.96L282.51 287.65L283.7 293.79L284.88 299.94L285.98 304.61L287.81 307.31L289.18 309.77L290.27 312.23L290.46 318.38L290.09 324.52L290 330.67L289.36 336.81L289.09 340.5L289.09 345.42L288.72 352.79L303.34 352.79L306.08 349.1L307.91 342.96L308.55 340.5L309.73 336.81L310.19 330.67L310.65 328.95L312.02 325.75L313.39 324.52L315.03 323.29L316.13 323.05L317.04 320.34L317.77 315.92L318.23 313.46L318.69 309.77L318.87 303.62L319.33 298.71L320.24 295.02L321.61 291.33L322.52 286.42L322.71 283.96L322.25 280.27L320.7 278.55L319.33 275.85L317.5 273.63L315.67 273.14L314.03 272.9L313.39 270.44L311.1 268.23L310.19 269.7L309.28 267.24L308.36 264.29L307.72 256.92L306.54 253.97L305.17 252.49L303.34 252.25L301.97 252L301.05 249.54L299.68 246.35L298.31 243.15L297.4 240.69L296.03 240.69L294.2 240.69L292.37 240.94L291 238.48L289.63 239.71L289.18 242.17L289.45 244.62L288.9 243.4L288.72 239.71L288.26 237.74L287.35 238.97L286.44 239.71L285.52 241.18L285.07 243.64L284.33 245.61L283.79 245.36L282.78 243.64L281.78 243.15L280.5 244.87L279.4 244.13L278.67 242.17L278.12 239.95L278.03 236.02L278.3 231.6L277.76 229.88L276.39 227.66L274.56 227.91L273.83 228.15L273.37 227.42L273.92 223.73L274.38 220.04L274.56 216.85L275.2 214.39L274.1 213.9L272 215.12L271.82 218.07L270.9 221.27L269.53 221.52L268.16 222.01L266.98 220.78L266.34 218.81L265.7 216.11L265.42 212.67L265.15 207.75L265.51 203.32L265.61 199.15L266.34 197.18L267.89 194.47L269.26 193.49L271.36 194.72L272.73 193.98L273.19 192.26L275.93 192.02L277.48 193L278.67 195.46L279.04 199.15L279.86 203.08L280.59 204.8L281.23 202.83L281.41 200.38L280.86 196.69L280.22 191.77L280.5 188.08L284.15 180.71L244.87 180.71ZM276.84 213.16L278.21 212.18L279.58 209.96L281.41 209.96L283.24 211.93L285.07 214.88L286.71 217.09L285.98 217.83L283.7 217.83L283.42 215.86L282.32 213.65L280.04 213.16L278.67 213.9L276.84 213.16ZM286.44 221.52L287.99 217.83L290.55 218.32L292.1 221.03L291.73 222.01L289.63 222.01L288.26 222.01L286.53 222.01L286.44 221.52ZM282.96 221.76L284.79 222.01L284.33 222.75L283.06 222.25L282.96 221.76ZM293.11 221.52L294.57 221.52L294.48 222.5L293.11 222.5L293.11 221.52Z"/>
<path fill="none" stroke="#000" stroke-width="0.6" d="M52.28 274.86L52.55 279.04L53.47 285.19L53.92 288.14L53.56 287.65L52.73 282.73L52.19 277.81L52.28 274.86ZM56.94 290.1L57.3 293.79L57.12 297.48L57.85 301.9L57.39 298.71L56.94 293.79L56.94 290.1ZM54.65 267.49L56.21 266.01L56.66 267.98L56.48 272.9L55.29 272.9L54.56 270.44L54.65 267.49Z"/>
<path fill="none" stroke="#000" stroke-width="2.4" stroke-linecap="round" stroke-dasharray="0 3.655" d="M139.2 201.6H153.8M219.6 201.6H219.6M241.5 201.6H248.9M278.1 201.6H281.8M84.4 211.4H84.4M139.2 211.4H153.8M237.9 211.4H248.9M267.1 211.4H267.1M278.1 211.4H281.8M88.0 221.2H88.0M135.5 221.2H142.9M230.6 221.2H248.9M285.4 221.2H292.7M73.4 230.9H80.7M88.0 230.9H91.7M102.6 230.9H106.3M139.2 230.9H142.9M179.4 230.9H179.4M230.6 230.9H234.2M241.5 230.9H256.2M307.3 230.9H311.0M73.4 240.7H95.3M102.6 240.7H113.6M131.9 240.7H142.9M172.1 240.7H175.8M216.0 240.7H216.0M248.8 240.7H256.2M303.7 240.7H307.3M73.4 250.5H95.3M102.6 250.5H113.6M131.9 250.5H142.9M153.8 250.5H164.8M172.1 250.5H172.1M190.4 250.5H197.7M274.4 250.5H274.4M303.7 250.5H311.0M73.4 260.3H113.6M135.5 260.3H139.2M164.8 260.3H197.7M274.4 260.3H274.4M73.4 270.1H135.6M168.4 270.1H190.4M25.9 279.8H29.6M62.4 279.8H142.9M190.4 279.8H194.0M256.2 279.8H256.2M267.1 279.8H274.4M29.5 289.6H33.2M62.4 289.6H278.1M58.8 299.4H117.3M120.9 299.4H124.6M135.5 299.4H153.8M168.4 299.4H281.8M321.9 299.4H322.0M69.8 309.2H95.3M168.4 309.2H190.4M216.0 309.2H234.2M245.2 309.2H245.2M58.8 319.0H62.5M168.4 319.0H183.1M234.2 319.0H241.5M285.4 319.0H289.1M321.9 319.0H332.9M58.8 328.7H91.7M164.8 328.7H172.1M285.4 328.7H289.1M314.6 328.7H340.2M58.8 338.5H62.5M285.4 338.5H289.1"/>
</g>
<rect x="25.6" y="193" width="328.9" height="147.5" fill="none" stroke="#000" stroke-width="1.7"/>
<path stroke="#000" stroke-width="1.3" d="M25.6 340.5h-5.6M25.6 328.21h-3M25.6 315.92h-3M25.6 303.62h-5.6M25.6 291.33h-3M25.6 279.04h-3M25.6 266.75h-5.6M25.6 254.46h-3M25.6 242.17h-3M25.6 229.88h-5.6M25.6 217.58h-3M25.6 205.29h-3M25.6 193h-5.6"/>
<text x="15" y="195.7" class="ax" text-anchor="end">30N</text>
<text x="15" y="232.57" class="ax" text-anchor="end">15N</text>
<text x="15" y="269.45" class="ax" text-anchor="end">0</text>
<text x="15" y="306.32" class="ax" text-anchor="end">15S</text>
<text x="15" y="343.2" class="ax" text-anchor="end">30S</text>
<text x="93.4" y="185.6" class="lb" textLength="17.5" lengthAdjust="spacingAndGlyphs">(c)</text>
<text x="119.3" y="188.1" class="ttl" textLength="170.9" lengthAdjust="spacingAndGlyphs">OBS SST Trend 60-97</text>
<clipPath id="clipd"><rect x="385.4" y="193" width="329.1" height="147.5"/></clipPath>
<g clip-path="url(#clipd)">
<rect x="385.4" y="193" width="329.1" height="147.5" fill="#f5f0e2"/>
<rect x="384.4" y="192.0" width="331.1" height="149.5" fill="#7d4808"/>
<path fill="#a76a1c" d="M383.4 190L718.4 190L718.4 344L382.4 344L382.4 190ZM519.6 238L516.4 239.9L515 242L514.9 244L516.8 246L520.4 247.1L524.9 247L528.2 246L530.3 244L530.5 243L529.7 241L527.4 238.9L523.4 237.6Z"/>
<path fill="#c99546" d="M383.4 190L718.4 190L718.4 344L382.4 344L382.4 190ZM519.9 233L516.4 234.3L508.4 239.8L503.4 240.2L502.6 241L502.8 243L504.4 244.4L513.5 248L521.4 249.4L527.4 249.1L532.1 248L536 246L538 244L538.2 242L536.8 240L530.4 235.1L525.4 233ZM577.7 245L576.4 246L576.2 247L578.9 249L583.4 249.3L586 248L586.3 247L585.6 246L583.4 244.8L580.4 244.4ZM636.1 246L632.5 247L631.6 249L634.4 255.7L636.4 258L637.4 258.3L638.5 258L640.4 256L642.1 252L642.5 249L641.4 247.1L640.4 246.5ZM678.7 269L677.4 271L677.2 273L677.4 276.2L678.4 279.4L679.6 281L681.4 282.1L683.4 282.2L685.4 281.6L687.2 280L688.3 278L688.7 275L688 273L686.4 271L683.4 269.1L680.4 268.5Z"/>
<path fill="#e0c481" d="M383.4 190L718.4 190L718.4 344L382.4 344L382.4 190ZM515.5 228L508.4 231L500.4 232.5L497.4 235L496.8 238L497.4 241L499 245L501.4 247.7L504.4 249L516.4 250.6L527.4 250.9L533.4 250.2L539.4 248.6L543.5 247L545.6 245L546.2 243L545.8 241L543.4 237.4L529.4 228.6L524.4 227.1ZM643.4 241L625.4 242.5L622.4 243.7L621.6 245L622.8 247L629.4 252.3L634.6 260L636.4 261.3L638.4 261.6L641.4 259.5L648.3 250L649.6 247L649.5 244L648.4 242L646.4 241ZM576.9 242L569.4 244.7L568 246L568 247L569 248L574.1 250L582.4 251.8L592.4 250L600.6 250L603.4 249L604.1 248L603.7 247L601.4 245.9L592.4 245L582.4 241.7ZM475.8 246L474.4 248.8L475 252L477.4 256.2L479.4 257.8L480.4 257.9L481.4 257.4L482.5 255L482.8 251L482.3 248L481.4 246.5L479.4 245.1L477.4 245.2ZM660.1 255L658.3 257L658.2 259L658.9 261L665.4 270.4L671 276L674.4 282.7L676.2 285L679.4 286.7L683.4 287L687.3 286L690 284L692.8 280L695.4 275L695.5 273L694.3 271L687.4 265.8L671.4 256.5L664.4 254.3Z"/>
<path fill="#f2e2b8" d="M383.4 190L565.8 190L565.8 194L567.4 196L568.4 196.3L570.4 195.2L571 194L571 190L718.4 190L718.4 259.8L717.7 263L718.4 266.3L718.4 344L411.5 344L411.4 338L409.9 325L409.4 308.2L408.4 304L407.4 302.4L406.4 302L405.4 302.5L403.4 305.4L398.3 316L396.9 321L397 324L397.8 327L402.9 337L403.3 344L382.4 344L382.4 190ZM647.3 215L645.4 216.4L643.7 220L643.2 224L643.3 231L642.6 234L641 236L638.4 237.6L633.4 238.5L623.4 237.5L620.4 237.8L617.9 239L612.4 243.2L609.4 244L593.4 242.5L582.4 239.5L577.4 239.6L564.4 242.1L561.2 244L559.9 246L559.9 247L561.6 249L564.4 250.3L582.4 253.5L592.4 252.4L603.4 252.2L613.4 250L620.4 250.6L624.4 251.8L627.4 253.5L629.8 256L633.7 262L635.4 263.4L637.4 264.1L639.4 264.1L641.4 263.3L646.4 257.9L649.4 257L651.4 258.6L654.3 263L658.9 268L663.4 274.9L668.4 280.5L672.4 286.8L674.4 288.9L677.4 290.4L681.4 290.8L686.4 290.3L690 289L692.4 287L697.4 280.3L703.6 275L704.7 273L704.4 271L701.4 268.3L694.4 265L680.4 256.8L671.2 250L669.1 246L669.7 237L669.2 235L667.5 232L665.4 229.8L663.4 228.9L656.4 230.1L653.7 229L651.8 225L650.8 216L649.4 214.9ZM510.1 217L507.4 218.4L502.1 225L495.4 230.1L493.7 232L492.9 234L492.9 237L494.5 241L497.7 247L500.4 249.9L504.4 251.3L516.4 252.2L533.4 252.1L545.4 249.6L548.9 248L550.9 246L551.2 244L550.7 242L546.4 234.5L544.4 232.6L536.1 227L527.4 218.8L524.4 217.4L518.4 218.1ZM475.1 242L472.9 243L470.9 245L470.1 247L470.4 250L477.4 260.6L479.4 262L481.4 262L483.4 259.9L484.4 256.6L484.8 251L484.1 246L483.2 244L481.4 242.4L478.4 241.6ZM450.6 245L449.3 246L448.3 248L448.6 250L449.9 252L453.4 254L455.4 254L457.4 253L458.8 250L458.4 248L457.4 246.5L454.4 244.6L452.4 244.4ZM387.5 257L385 260L383.9 265L384.3 267L385.4 268.5L388.4 269.2L391.4 268.4L393.5 267L394.7 265L394.9 263L394.1 260L392.4 257.9L390.4 256.8ZM495.5 296L491.5 300L488.8 305L488.1 310L489.4 315.4L490.4 316.8L492.4 317.9L494.4 317.9L499.4 316.5L505.4 318.5L508.4 318.1L510.4 316.2L511.4 314L511.6 311L510.5 308L501.4 296L498.4 295ZM554.5 296L553.4 301L554.4 304.7L555.4 305.2L556.9 303L557.4 299L556.4 295.6L555.4 295.2Z"/>
<path fill="#f5f0e2" d="M383.4 190L558.3 190L558.6 196L560.4 201L563.4 204.2L566.4 205.7L568.4 206.1L571.4 205.2L574.4 201.3L575.9 196L576.1 190L718.4 190L718.4 252.7L716.4 255L712.4 262.4L711.4 263.6L709.4 264.6L704.4 264.1L698.4 262L695.2 260L689.4 255L681.7 252L677.8 249L676.5 247L676 245L676.8 236L675.4 232L667.4 221.2L662.2 216L658.3 210L655.9 208L653.4 207.2L649.4 207.5L645.4 208.6L642.9 210L641.4 211.7L639.7 217L638.6 229L637.8 231L636.4 232.8L632.4 233.9L625.4 232.4L621.4 232.7L617.4 234.7L610.4 240.1L607.4 241L603.4 241.2L594.4 240.5L584.4 237.6L580.4 237.1L566.4 237.9L558.4 239.8L555.4 239.7L552.5 237L548.3 230L541.4 224.8L537.7 221L534.1 216L530.4 209L528.4 206.6L525.4 205.3L518.4 205.5L512.4 204.4L509.4 205.7L503.9 211L501.4 214.3L497.4 222.1L489.1 229L488.1 231L487.5 235L487.6 237L488.6 239L492.4 242.8L497.4 249.9L500.4 252.3L503.4 253.2L535.4 253.8L554.4 250.5L563.4 252.7L572.4 253.2L582.4 255L593.4 254.2L605.4 254.2L616.4 253.3L623.4 254L627.4 256.1L632.4 263.5L635.4 265.9L641.4 266.8L648.4 266.1L655.4 269.9L657.9 273L660.8 279L666.4 284.4L671.4 291.7L673.4 293.6L676.4 294.9L686.4 294.6L691.4 293.6L694.4 291.4L698.4 284.9L701.4 282.1L705.4 280.5L712.4 279.4L718.4 277.7L718.4 344L415.8 344L415.7 338L412.7 322L411 301L409.4 295.4L408.4 293.9L406.4 293L404.4 294L402.4 296.8L398.4 305.7L394.2 313L392.7 318L392.4 323L392.9 328L394.3 332L397.9 339L397.9 344L382.4 344L382.4 278.8L391.4 277.5L402.4 279.7L406.4 279.1L408.4 277.6L410.5 274L412.1 268L412.8 262L412.1 258L409.4 255.3L407.4 254.9L400.4 255.2L392.4 251.3L389.4 251.2L386.4 252.2L382.4 256.6L382.4 190ZM470.3 239L463.4 241.7L454.4 239.1L450.4 239.2L447.4 239.9L444.4 241.3L442.4 243.3L441.3 246L441.6 249L443.2 252L445.1 254L451.4 257.8L455.4 258.9L458.4 258.9L461.4 258.1L465.4 255.8L468.4 255.7L471.4 257.6L477.4 264.9L479.4 265.9L481.4 265.9L483.4 264.6L484.4 263.2L485.8 259L486.5 250L486.1 241L484.4 239.2L481.4 238.4L475.4 238.2ZM497.9 291L494.4 291.9L490.9 294L486.8 298L485 301L483.8 308L484.9 319L486.9 324L490.4 327L494.4 327.8L506.4 327.4L510.4 325.5L514 321L516 316L516 311L513.8 306L508.4 299.6L504.4 293.3L501.4 291.3ZM554.9 291L553.3 293L551.8 298L551.5 304L552.2 309L553.4 311.9L556.8 317L557.9 324L559.4 327.9L562.2 330L565.4 330.2L566.4 329.7L567.5 328L567.3 324L565.4 320L559.2 314L558.8 311L559.5 300L559.1 295L557.4 291.3L556.4 290.7ZM645.1 294L643.7 296L643.4 299L644.4 300.4L646.4 300.7L648.6 299L649.3 297L649.2 295L648.4 293.7L647.4 293.3ZM642.8 319L641.4 319.7L640.4 321.2L640 324L640.4 327L642.4 330.1L644.4 330.9L646.4 330.7L647.7 330L648.8 328L648.7 323L646.4 319.7L644.4 318.9Z"/>
<path fill="#e3f0ef" d="M385.4 190L403.7 190L403.4 207L404 220L403.6 223L402.5 226L396 233L392.4 242.1L390.6 244L385.4 246.7L382.4 249.3L382.4 232.9L384.5 225L385.1 220L384.7 204L384.9 190ZM449.4 190L507.4 190L507.5 194L506.4 199L504.4 203L496.4 211L491.4 217.5L489.4 218L482.4 216.1L479.4 217L478.1 219L477.4 222L478 231L477.1 232L474.4 232.6L471.4 231.9L469.4 230.5L465.3 220L460.2 214L455.8 207L450.4 201L448.5 195L448.5 190ZM580.4 190L594.4 190L595 198L597.4 203.3L600.4 205.3L607.4 205.6L609.4 206.3L611.4 208L620.9 219L621.9 223L620.9 226L609.4 237.5L604.4 239L596.4 238.8L592.4 237.8L584.4 234.7L575.9 233L573.7 232L573.2 231L573.5 230L576.4 225.4L577.5 222L577.5 211L579.5 199L579.9 190ZM640.4 190L669.3 190L669.1 197L667.7 203L666.4 204.8L664.4 205.3L655.4 202L647.4 202.4L644.4 202L642.4 200.7L640.9 198L640.2 194ZM716.4 190L718.4 190L718.4 243.3L717.7 241L718.2 231L717.7 216L715.6 194L715.7 190ZM691.4 203.8L695.4 203.3L699.1 204L701.4 205.3L703.7 208L705.3 212L706.1 217L705.8 231L706.4 236L708.5 240L714.4 244.5L715.2 246L714.6 249L712.4 253.2L709.4 256.8L707.2 258L704.4 258.3L701 257L699 255L697.2 251L695.7 242L696.2 229L695.8 225L694 221L688.6 215L687.3 211L687.6 208L688.4 206.1ZM490.4 246.5L492.4 247.2L498.4 253.4L501.4 254.7L504.4 255.2L521.4 254.9L536.4 255.5L553.4 253.4L562.4 254.8L572.4 254.7L583.4 256.5L595.4 255.8L609.4 256.4L620.4 256L623.4 256.4L625.4 257.2L627.4 258.9L632.2 267L639.4 269.5L642.4 271.4L648.9 280L649.4 284L647.7 287L643.4 290.3L641.4 292.5L638.1 301L636.4 302.5L634.4 302.2L632.9 301L628.4 292.9L625.4 290.4L623.4 290L617.4 290.6L611.4 290.4L609.4 290.8L607.4 292L602.4 302L600.4 303.4L596.4 305L594.8 307L594.3 310L594.9 320L594.6 323L593.3 326L588.6 332L586.9 335L585.7 339L585.8 344L577.5 344L577.7 339L576.5 334L570.2 321L562.4 310.2L561.5 306L560.4 291.5L558.8 288L556.4 286.7L554.4 287.6L553.4 288.8L551.2 294L550.1 300L549.6 309L550.7 323L549.4 326.2L546.4 327.8L540.4 328.5L537.4 327.9L535.4 326.7L533.1 324L528 315L521.4 309.9L511.4 298L506.4 288.6L504.4 287.3L501.4 287.1L493.4 287.8L483.4 290.4L475.4 290.3L472.4 291.4L469.4 294L463.4 302.4L461.4 303.6L453.4 306.6L446.4 312.8L441.8 316L440.8 318L439.7 325L438.9 327L437.4 328.7L434.4 329.6L427.4 328.1L421.4 330L419.4 329.4L416.6 325L415 319L412.9 290L413.1 286L415.4 272L416.4 268.8L418.1 266L420.4 264.6L425.4 264L428.3 263L434.4 257.4L437.4 256.3L440.4 256.9L452.4 261.8L457.4 263.2L461.4 263.5L467.4 262.2L469.4 262.3L471.4 263.8L474.4 268L476.4 269.8L478.4 270.4L481.4 270.1L484.4 268.2L486.4 264.8L487.5 260L488.6 250L489.4 247.4ZM659.4 288.7L662.4 288.4L664.9 290L667.5 295L668.1 299L666.7 302L661.4 306.9L659.9 309L659.3 312L660.8 321L660.6 325L659.2 328L656.4 329L654.4 327.4L650.6 318L648.4 315.9L643.4 312.6L642.2 311L641.9 309L643.3 307L648.4 305L650.9 303L652.1 301L655.1 292L657 290ZM645.4 338.9L647.2 340L647.5 342L646.4 344L644.2 344L643.4 343L642.9 341L643.4 339.8Z"/>
<path fill="#bbe5df" d="M476.4 190L503.7 190L503.6 195L501.5 200L498.4 202.8L487.4 206.6L483.4 206.9L479.7 205L477.4 201.4L476 195L476 190ZM647.4 190L658.5 190L659.5 192L659.4 193L658.4 194.1L655.7 195L649.4 195.6L647.2 194L646.9 192ZM606.4 216L610.4 217.6L612.9 220L614.1 222L614.4 224L613.8 226L610.5 232L607.4 235.3L603.4 236.8L598.4 236.8L593.3 235L590.6 232L591 229L601.4 217.8L604.4 216.2ZM491.4 252.5L493.4 252.6L499.4 256.3L504.4 257.2L521.4 256.3L537.4 257.4L550.4 256L562.4 257L571.4 256.2L583.4 258.1L597.4 257.5L611.4 259.3L621.4 258.9L624.4 259.8L625.8 261L626.8 263L627.1 266L626.4 268.2L622.1 273L619.4 277.5L616.4 280.1L614.4 280.5L611.7 280L606.4 276.4L604.4 275.7L600.4 276.2L598.4 278L597.4 279.7L595.4 286.9L594.3 289L592.4 290.4L588.4 291.5L586.4 292.8L585.6 296L588.8 309L588.9 318L588 321L586.1 324L583.4 326.3L581.4 326.6L578.4 324.9L575.4 322.1L565 309L563.4 304L562.1 287L561.3 285L559.4 282.9L557.4 282.3L555.4 282.7L552.4 286.1L550.3 292L547.6 307L545.8 313L543.4 317.2L540.4 318.5L538.4 318.2L536.4 316.6L531.4 309L522.4 304.6L515.2 297L513.3 294L512.2 291L511.3 281L510.4 278L509.4 277.3L507.4 277.7L502.4 281.6L498.4 282.9L493.4 282.2L487.3 279L486.3 278L485.9 276L488.4 268.3L490.3 255ZM437.4 262.8L441.4 262L445.4 262.6L464.8 270L466.7 272L467.9 275L468.4 279L467.9 283L462.4 293L458.1 298L444.4 306.7L435.4 307.5L431.4 308.9L429.3 311L424.5 318L422.4 319.4L420.4 319.6L418.4 317.9L417.3 315L416.2 309L415.8 301L416.2 296L417 293L422.6 285L422.7 283L420.9 277L420.8 274L422.7 271L430.4 267.5ZM633.4 271.7L636.4 271.5L639.5 273L641.6 276L643.4 281L643.4 283L642.6 285L636.4 290.4L635.4 290.4L633.4 288.3L630.8 282L630.9 275L631.6 273Z"/>
<path fill="#84cec3" d="M494.4 190.9L494.6 190L498.9 190L499.2 193L498.4 194.9L496.4 195.6L495.3 195L494.3 193ZM600.4 227.7L603.4 227.1L604.9 228L605.4 229L605.1 231L603.2 233L600.4 233.5L598.9 233L598 232L598.1 230ZM516.4 258L525.4 257.8L538.4 259.6L550.4 258.8L561.4 259.5L572.4 257.8L584.4 260L598.4 259.5L604.9 261L608.1 263L610.8 266L610.2 267L608.4 268L597.4 272L589.4 278.5L587.4 278.6L581.4 277.2L578.4 277.9L577.5 279L577.1 293L577.4 296L578.2 298L583 305L584.5 311L584.2 314L583.3 316L581.4 317.7L579.4 317.9L576.4 316.7L573.4 314L568.5 308L566.4 304.2L565.4 300L565.2 296L566.6 281L565.9 279L564.4 277.7L561.4 276.8L557.4 276.5L554.4 277.1L552.4 278.5L550.8 283L546.4 303.5L544.4 307.4L543.4 308.3L541.4 308.9L539.4 307.6L538 304L537.7 299L538.4 286.7L537.9 284L536.4 282.1L533.4 281.7L531.4 282.8L530.4 284L529.7 287L529.8 298L528.4 300.3L525.4 300.9L523.4 300L521.1 298L518.4 294.5L516.6 291L515.7 286L516.7 277L516.1 275L514.4 272.8L511.4 271L508.4 270.7L505.4 272L500.4 276.1L498.4 276.6L496.4 275.9L494.4 274L492.9 271L492.2 267L492.4 261L493.4 258.7L495.4 258.1L501.4 259.4L505.4 259.6ZM440.4 266.6L444.4 266.1L448.3 267L452.3 269L458.2 273L459.9 275L460.6 277L460.7 280L459.7 283L456.4 289.4L453.9 293L444.5 301L439.8 303L428.4 304.4L426.4 305.5L422.4 309.2L421.4 309.4L420.4 308.8L419.4 306.6L419.4 299.9L420.7 297L425.4 292.5L427.4 289L428.7 285L429.8 276L432.8 272L437.4 268.2Z"/>
<path fill="#4ca79e" d="M517.4 259.8L524.4 259.5L532.1 261L541.9 264L543.3 265L543.4 267L540.4 273.4L538.4 275.3L532.4 276.5L526.4 276.3L524.4 275.3L511 265L510.9 263L511.9 262ZM570.4 260L574.8 260L585.4 263.1L597.4 262.7L599.4 263.7L599.6 265L596.8 267L589.4 269.6L574.4 270.4L568.7 270L556.4 267.4L553.7 266L555.2 265L558.4 265.1L561.4 264.5L567.4 261ZM499.4 264.8L501.4 265L501.6 266L500.4 267.1L499.4 267L498.8 266ZM442.4 270.7L446.4 270.6L450.3 273L451.6 275L452.2 277L451.7 281L449.4 285.5L441.8 297L438.4 299.1L435.4 299.6L433.4 299.3L431.4 298.2L430.4 296.5L430.3 294L431.1 291L436.2 277L439.1 273ZM543.4 281.6L545.4 281.3L546.4 282.2L547.2 284L547.5 287L546.1 297L545.1 300L543.4 301.9L542.4 301.7L541.4 300.3L540.7 296L541.6 287L542.4 283.4Z"/>
<path fill="#1c7f77" d="M519.4 262.9L523.4 262L528.5 263L533.1 266L533.9 268L533.6 269L532.4 269.9L530.4 270.3L524.4 268.9L519.5 266L518.5 264Z"/>
<path fill="none" stroke="#222" stroke-width="0.7" stroke-linejoin="round" d="M376.44 188.08L376.44 193L373.52 199.15L370.77 208.98L369.86 215.12L370.32 220.04L369.4 230.61L370.13 236.02L371.69 239.71L373.24 243.4L374.43 248.31L375.8 251.26L378.54 255.93L381.74 253.97L385.4 253.23L387.69 251.26L389.51 251.26L390.88 256.18L393.17 255.69L394.27 258.15L394.08 264.29L393.9 269.21L396.19 277.81L396.64 281.5L397.56 288.88L397.92 293.79L396.37 300.68L396.19 308.54L397.74 317.15L398.66 322.06L399.11 333.12L400.48 337.06L401.4 342.96L401.85 347.88L402.31 351.56L403.68 352.79L408.25 351.56L411 347.88L413.28 342.96L413.74 340.25L415.02 336.81L415.29 330.67L416.02 328.95L417.85 325.26L417.67 319.6L417.12 315.43L418.77 312.97L421.51 307.31L422.52 302.4L422.42 292.56L421.51 286.42L421.24 281.5L421.69 276.58L423.34 270.93L425.17 265.52L427.45 260.6L429.74 253.23L431.11 245.85L432.3 237.74L429.28 239.22L425.62 241.18L424.98 237.74L424.43 234.79L421.97 228.15L421.05 223.73L419.59 217.58L419.22 212.67L417.94 208L416.94 202.83L416.02 199.15L415.11 193.25L414.93 189.31L412.82 189.31L408.25 188.08L403.68 188.08L394.54 175.79L380.83 178.25L376.44 188.08ZM705.54 188.08L705.54 193L702.62 199.15L699.87 208.98L698.96 215.12L699.42 220.04L698.5 230.61L699.23 236.02L700.79 239.71L702.34 243.4L703.53 248.31L704.9 251.26L707.64 255.93L710.84 253.97L714.5 253.23L716.79 251.26L718.61 251.26L719.98 256.18L722.27 255.69L723.37 258.15L723.18 264.29L723 269.21L725.29 277.81L725.74 281.5L726.66 288.88L727.02 293.79L725.47 300.68L725.29 308.54L726.84 317.15L727.76 322.06L728.21 333.12L729.58 337.06L730.5 342.96L730.95 347.88L731.41 351.56L732.78 352.79L737.35 351.56L740.1 347.88L742.38 342.96L742.84 340.25L744.12 336.81L744.39 330.67L745.12 328.95L746.95 325.26L746.77 319.6L746.22 315.43L747.87 312.97L750.61 307.31L751.62 302.4L751.52 292.56L750.61 286.42L750.34 281.5L750.79 276.58L752.44 270.93L754.27 265.52L756.55 260.6L758.84 253.23L760.21 245.85L761.4 237.74L758.38 239.22L754.72 241.18L754.08 237.74L753.53 234.79L751.07 228.15L750.15 223.73L748.69 217.58L748.32 212.67L747.04 208L746.04 202.83L745.12 199.15L744.21 193.25L744.03 189.31L741.92 189.31L737.35 188.08L732.78 188.08L723.64 175.79L709.93 178.25L705.54 188.08ZM416.94 189.31L416.94 194.23L417.4 197.92L418.77 202.83L420.14 207.75L421.24 213.9L422.42 220.04L423.79 224.96L424.43 229.88L424.98 235.53L426.54 235.28L429.28 232.33L432.48 229.38L433.12 228.15L435.68 224.96L437.23 222.5L438.24 220.04L438.88 216.35L440.07 211.44L439.15 208.73L437.51 207.75L436.87 205.54L436.96 202.34L436.59 202.34L436.14 204.06L434.76 207.26L432.94 207.75L432.48 205.29L432.57 202.83L431.57 202.34L431.11 200.38L429.74 196.69L429.28 193L430.01 193L431.38 194.97L432.02 197.92L433.85 200.87L435.5 201.6L436.78 200.13L437.78 203.32L441.62 204.8L443.91 204.55L446.19 204.31L446.92 206.52L447.75 208.49L448.48 210.7L449.39 211.44L448.48 213.16L449.39 215.12L450.49 215.86L451.68 213.9L451.77 212.18L451.95 215.12L451.95 220.04L452.41 224.96L452.87 228.65L453.51 233.56L453.96 237.25L454.88 242.17L455.33 245.12L456.25 246.84L456.89 244.87L457.62 243.89L458.44 241.43L458.35 237.25L458.72 233.56L458.62 229.38L459.45 226.68L460.64 225.94L461.73 222.99L463.1 219.3L464.48 217.58L464.93 213.9L466.3 213.16L467.67 212.67L468.59 211.44L469.32 212.18L469.78 215.86L470.42 217.58L471.33 221.27L471.79 226.19L472.25 227.91L473.16 226.19L474.07 225.45L474.62 227.42L474.99 231.1L475.45 233.56L475.54 237.25L475.45 240.94L475.26 244.62L475.26 247.08L476.54 250.77L477.09 254.46L477.55 258.15L478.19 259.87L479.1 261.83L480.02 263.55L480.66 263.31L480.02 259.38L479.92 255.69L479.19 252L478.19 250.03L477.27 248.8L476.82 244.62L476.09 240.94L476.36 237.25L476.82 233.81L477.73 235.53L479.1 237.25L479.56 239.71L480.93 240.94L481.2 245.61L482.76 243.4L483.67 240.94L485.04 238.48L485.32 234.79L485.04 229.88L484.13 226.93L483.22 224.96L482.3 221.27L482.03 218.81L482.76 216.35L483.67 213.9L484.59 213.4L485.68 213.9L486.32 216.85L486.42 214.63L487.79 213.16L489.16 212.18L489.8 211.68L491.44 210.45L492.81 208.24L494 205.29L494.73 202.83L495.1 199.64L496.01 196.69L496.93 193L496.47 190.54L496.75 188.08L496.01 185.62L495.1 180.71L440.25 168.42L416.94 189.31ZM430.47 296.25L431.29 302.4L431.47 304.85L430.93 308.54L430.47 311L429.74 317.15L428.82 324.52L428.37 328.21L426.72 329.44L425.62 328.21L424.98 322.06L425.35 318.38L426.08 314.69L425.62 309.77L426.08 306.58L427.91 304.85L428.82 302.4L429.28 299.94L430.47 296.25ZM458.35 247.08L458.53 252L459.08 252.25L460.18 249.54L459.9 246.35L458.99 242.66L458.44 244.62L458.35 247.08ZM484.77 221.27L485.5 222.01L486.42 220.78L486.87 218.32L486.42 217.34L485.5 217.58L484.77 219.55L484.77 221.27ZM495.19 210.21L495.74 212.67L496.01 212.18L496.47 208.98L496.93 205.29L496.47 204.55L495.74 206.52L495.19 210.21ZM495.1 227.42L495.56 221.27L496.47 221.03L497.2 221.76L497.11 224.96L496.75 228.65L497.39 231.84L498.48 232.82L498.94 235.78L498.03 235.04L496.93 233.07L495.83 232.82L495.65 231.1L495.1 227.42ZM496.93 249.54L498.3 247.57L498.94 246.35L500.13 242.9L501.04 245.85L500.77 250.77L500.13 252.74L499.21 251.51L498.57 248.8L496.93 249.54ZM496.84 237.74L497.66 241.18L498.3 243.89L499.21 242.17L499.95 238.97L499.67 236.02L498.76 236.51L497.84 238.48L496.84 237.74ZM492.54 246.35L493.73 243.4L494.83 239.71L494.46 238.97L493.27 242.17L492.54 246.35ZM485.04 263.06L485.59 261.83L486.87 263.06L487.33 260.11L488.7 258.88L490.07 255.69L490.89 253.72L491.9 250.77L492.63 250.03L493.73 253.23L494.37 254.21L493.27 256.18L492.81 259.38L493.27 264.29L494 264.29L492.81 266.75L492.36 269.21L491.9 272.9L491.44 276.09L490.07 275.35L488.7 274.62L487.33 274.12L486.14 273.63L485.96 270.44L485.04 266.75L485.04 263.06ZM472.52 252.98L474.53 253.97L475.45 256.92L476.82 260.6L478.19 262.57L479.56 265.52L480.2 269.21L480.93 271.67L482.12 274.12L482.3 277.81L482.12 281.01L480.93 281.25L480.02 279.04L478.92 276.58L478.01 273.63L477.09 269.21L476.09 265.52L475.45 262.32L474.53 260.6L473.62 258.15L472.52 252.98ZM481.57 283.47L482.3 281.5L483.67 281.99L484.59 283.22L486.42 282.73L487.33 283.22L488.43 283.96L490.07 285.93L489.98 288.14L488.24 287.15L485.96 286.42L484.13 285.68L482.76 284.7L481.57 283.47ZM490.71 286.91L491.9 287.15L494.19 287.15L495.56 287.15L497.39 286.91L497.84 287.65L496.01 288.63L494.19 288.38L492.36 288.88L490.99 288.38L490.71 286.91ZM498.76 291.33L500.13 289.37L501.77 287.4L500.58 288.88L499.21 291.83L498.76 291.33ZM494.64 280.27L494.55 275.35L494 272.9L494.64 267.98L495.1 265.27L496.01 263.55L497.84 264.29L499.21 263.06L499.85 263.06L499.03 265.77L497.84 265.52L496.47 265.52L495.28 265.77L495.74 269.95L496.56 269.21L498.12 268.72L497.11 271.67L497.39 277.81L496.47 277.81L496.01 273.63L495.56 274.12L495.47 280.27L494.64 280.27ZM501.96 261.34L502.41 264.29L503.14 265.52L502.41 266.75L502.87 268.72L502.14 267.98L501.96 264.78L501.96 261.34ZM502.41 274.62L504.24 274.12L504.97 276.09L503.33 275.6L502.41 274.62ZM500.58 274.62L501.5 274.62L501.5 276.09L500.58 275.85L500.58 274.62ZM505.16 269.21L506.53 267.98L507.9 268.72L508.81 274.86L511.1 270.44L513.38 272.65L516.13 274.86L518.59 278.55L520.24 281.99L520.51 286.42L522.52 292.07L520.7 291.83L519.33 288.38L517.04 285.93L515.76 289.61L514.3 289.12L512.47 286.66L511.55 283.96L512.01 281.5L510.64 279.04L508.81 277.57L507.44 276.58L506.25 273.63L505.16 270.44L505.16 269.21ZM521.15 280.27L522.52 279.04L523.9 277.81L524.63 277.08L524.17 280.27L522.52 281.99L521.15 280.27ZM528.47 283.47L529.38 285.19L531.21 287.65L532.4 290.1L533.04 292.07L532.12 290.84L530.3 287.15L528.47 283.47ZM490.53 340.5L490.53 345.42L490.53 352.79L504.24 352.79L525.27 352.79L525.27 342.96L525.36 340.5L525.82 337.55L525.45 334.35L525.27 328.7L523.44 324.52L523.26 322.06L522.07 321.57L521.43 316.65L519.05 312.23L518.41 307.31L518.23 303.62L516.77 301.17L516.58 297.48L515.67 293.05L515.21 293.79L514.85 298.71L514.75 306.08L514.11 309.77L512.47 309.03L510.64 306.08L509.27 303.13L509.73 299.45L510.64 297.48L510.18 296.25L508.81 296.99L506.98 296L506.53 295.02L505.16 296.74L504.52 298.71L503.78 303.38L503.33 303.62L501.96 301.17L500.58 301.17L499.21 304.85L498.3 308.54L497.11 311L496.01 314.69L494.19 315.92L492.17 317.39L489.8 320.34L489.43 323.29L489.07 326.98L489.62 331.9L490.44 338.04L490.53 340.5ZM535.32 316.41L536.24 317.88L538.07 321.33L537.61 321.82L535.78 318.38L535.32 316.41ZM547.48 309.77L548.58 309.28L548.58 311.49L547.66 311.49L547.48 309.77ZM571.98 217.83L572.8 219.3L572.8 217.83L571.98 217.09L571.98 217.83ZM604.8 180.71L607.09 185.62L608.46 191.77L609.37 194.23L610.28 197.92L611.2 200.87L612.11 205.29L613.94 210.21L614.4 209.72L613.48 207.01L612.57 202.83L611.38 197.92L609.83 193L609.65 189.31L611.2 190.05L612.57 196.69L613.94 199.64L614.86 203.32L615.77 205.29L617.14 208.98L618.06 212.67L618.15 216.35L617.87 217.58L618.97 219.55L619.88 221.76L621.25 222.75L623.08 224.96L624.91 227.17L626.28 228.15L627.65 226.93L628.57 226.93L629.94 229.88L630.85 232.33L632.41 233.56L634.05 234.3L634.69 235.04L635.42 237.25L636.16 239.71L636.16 242.17L636.8 242.9L637.07 243.4L638.08 246.1L639.54 246.59L640.91 248.8L641.37 248.31L641.82 245.12L642.74 246.35L643.19 248.31L643.74 250.28L643.74 256.92L643.83 260.6L642.56 263.06L641.37 264.78L640.91 267.98L641.28 273.14L640.45 277.81L640.27 281.01L641.37 283.96L642.46 287.65L643.65 293.79L644.84 299.94L645.94 304.61L647.77 307.31L649.14 309.77L650.23 312.23L650.42 318.38L650.05 324.52L649.96 330.67L649.32 336.81L649.05 340.5L649.05 345.42L648.68 352.79L663.31 352.79L666.05 349.1L667.88 342.96L668.52 340.5L669.71 336.81L670.16 330.67L670.62 328.95L671.99 325.75L673.36 324.52L675.01 323.29L676.11 323.05L677.02 320.34L677.75 315.92L678.21 313.46L678.66 309.77L678.85 303.62L679.3 298.71L680.22 295.02L681.59 291.33L682.5 286.42L682.69 283.96L682.23 280.27L680.68 278.55L679.3 275.85L677.48 273.63L675.65 273.14L674 272.9L673.36 270.44L671.08 268.23L670.16 269.7L669.25 267.24L668.33 264.29L667.69 256.92L666.51 253.97L665.13 252.49L663.31 252.25L661.94 252L661.02 249.54L659.65 246.35L658.28 243.15L657.36 240.69L655.99 240.69L654.16 240.69L652.34 240.94L650.97 238.48L649.59 239.71L649.14 242.17L649.41 244.62L648.86 243.4L648.68 239.71L648.22 237.74L647.31 238.97L646.39 239.71L645.48 241.18L645.02 243.64L644.29 245.61L643.74 245.36L642.74 243.64L641.73 243.15L640.45 244.87L639.36 244.13L638.62 242.17L638.08 239.95L637.98 236.02L638.26 231.6L637.71 229.88L636.34 227.66L634.51 227.91L633.78 228.15L633.32 227.42L633.87 223.73L634.33 220.04L634.51 216.85L635.15 214.39L634.05 213.9L631.95 215.12L631.77 218.07L630.85 221.27L629.48 221.52L628.11 222.01L626.92 220.78L626.28 218.81L625.64 216.11L625.37 212.67L625.09 207.75L625.46 203.32L625.55 199.15L626.28 197.18L627.84 194.47L629.21 193.49L631.31 194.72L632.68 193.98L633.14 192.26L635.88 192.02L637.44 193L638.62 195.46L638.99 199.15L639.81 203.08L640.54 204.8L641.18 202.83L641.37 200.38L640.82 196.69L640.18 191.77L640.45 188.08L644.11 180.71L604.8 180.71ZM636.8 213.16L638.17 212.18L639.54 209.96L641.37 209.96L643.19 211.93L645.02 214.88L646.67 217.09L645.94 217.83L643.65 217.83L643.38 215.86L642.28 213.65L640 213.16L638.62 213.9L636.8 213.16ZM646.39 221.52L647.95 217.83L650.51 218.32L652.06 221.03L651.7 222.01L649.59 222.01L648.22 222.01L646.49 222.01L646.39 221.52ZM642.92 221.76L644.75 222.01L644.29 222.75L643.01 222.25L642.92 221.76ZM653.07 221.52L654.53 221.52L654.44 222.5L653.07 222.5L653.07 221.52Z"/>
<path fill="none" stroke="#000" stroke-width="0.6" d="M412.09 274.86L412.37 279.04L413.28 285.19L413.74 288.14L413.37 287.65L412.55 282.73L412 277.81L412.09 274.86ZM416.76 290.1L417.12 293.79L416.94 297.48L417.67 301.9L417.21 298.71L416.76 293.79L416.76 290.1ZM414.47 267.49L416.02 266.01L416.48 267.98L416.3 272.9L415.11 272.9L414.38 270.44L414.47 267.49Z"/>
<path fill="none" stroke="#000" stroke-width="2.2" stroke-linecap="round" stroke-dasharray="0 3.655" d="M399.8 202.9H407.1M414.4 202.9H447.3M461.9 202.9H578.9M586.2 202.9H652.0M655.6 202.9H673.9M695.8 202.9H706.8M396.1 212.7H396.1M410.7 212.7H421.7M461.9 212.7H575.2M582.5 212.7H633.7M648.3 212.7H652.0M662.9 212.7H677.6M684.9 212.7H692.2M703.1 212.7H703.1M418.0 222.4H436.3M461.9 222.4H567.9M578.9 222.4H622.7M633.7 222.4H692.2M392.5 232.2H396.1M414.4 232.2H567.9M575.2 232.2H615.4M626.4 232.2H695.8M385.1 241.9H567.9M582.5 241.9H637.4M648.3 241.9H714.1M385.1 251.7H714.1M385.1 261.5H414.4M443.6 261.5H450.9M465.6 261.5H714.1M385.1 271.2H714.1M385.1 281.0H637.4M652.0 281.0H714.1M385.1 290.7H469.2M483.8 290.7H556.9M564.2 290.7H641.0M652.0 290.7H655.6M666.6 290.7H692.2M385.1 300.5H556.9M564.2 300.5H571.6M586.2 300.5H659.3M684.9 300.5H714.1M385.1 310.3H714.1M385.1 320.0H476.5M491.1 320.0H531.4M535.0 320.0H560.6M582.5 320.0H619.1M626.4 320.0H655.6M662.9 320.0H714.1M385.1 329.8H454.6M476.5 329.8H578.9M586.2 329.8H619.1M633.7 329.8H644.7M652.0 329.8H714.1"/>
</g>
<rect x="385.4" y="193" width="329.1" height="147.5" fill="none" stroke="#000" stroke-width="1.7"/>
<text x="459.2" y="185.6" class="lb" textLength="17.6" lengthAdjust="spacingAndGlyphs">(d)</text>
<text x="484.3" y="188.1" class="ttl" textLength="159.4" lengthAdjust="spacingAndGlyphs">AMIP Pr Trend 60-97</text>
<clipPath id="clipe"><rect x="25.6" y="366" width="328.9" height="147.6"/></clipPath>
<g clip-path="url(#clipe)">
<rect x="25.6" y="366" width="328.9" height="147.6" fill="#ff9a9a"/>
<rect x="24.6" y="365.0" width="330.9" height="149.6" fill="#0000c0"/>
<path fill="#0000f5" d="M23.6 363L130.5 363L130.7 371L132.9 381L135.5 386L136.6 386.8L138.6 387.2L142.6 385.8L149.8 382L152.2 380L153.5 378L153.7 375L149.9 367L149.5 363L267.6 363L267.5 366L268.4 369L270.4 371L272.6 371.4L274.6 370.8L276.2 369L277.1 366L276.9 363L357.6 363L357.6 517L22.6 517L22.6 363ZM200.2 365L200.6 366.8L201.6 366L201.6 365L200.6 364.1ZM166.5 368L164.6 369.6L162.1 373L160.9 377L161.5 379L163.2 381L165.6 382.3L168.6 382.6L170.6 382L173.2 380L174.2 378L174.3 376L173.1 373L170.6 369.7L168.6 368ZM245.2 461L243.1 462L242.4 464L244 472L244.2 484L245.6 488.1L246.6 488.9L248.6 489L252.6 487L255.1 484L256.2 481L256.2 476L254.7 468L253.4 465L249.6 461.9ZM202.7 481L200.6 483.1L200.7 487L203.6 492L205.2 493L206.6 493L208.6 491.4L209.8 489L210.5 486L210.3 483L209.6 481.7L207.6 480.5L205.6 480.3Z"/>
<path fill="#3a3af5" d="M23.6 363L123.7 363L123.8 375L124.9 381L129.3 389L135.4 397L135.6 405L136.6 406.8L137.6 407.2L139 406L139.2 404L138.6 401.3L136.8 398L136.9 396L139.6 392L144.3 388L151.6 384.4L156.6 382.8L167.6 385.3L170.6 384.9L177.6 382.3L180.6 381.7L189.6 384L192.6 383.7L194.8 382L198.6 375.5L203.6 370.1L204.8 367L204.7 363L266.4 363L266.4 367L267.6 370.5L269.6 372.4L272.6 373.1L275.6 372L277.2 370L278.2 367L278.2 363L357.6 363L357.6 517L256.4 517L256.2 511L253.4 502L253.1 499L254.4 495L258.6 489L260.1 485L262 466L260.9 463L257.4 460L249.6 456.3L244.6 455.5L240.6 456L237.6 457.1L235.7 459L234.8 462L235.7 473L235.3 481L237.6 496L236.8 517L22.6 517L22.6 363ZM206.7 476L199.6 478.2L197.6 480L196.5 483L197.4 487L201.3 494L203.6 496.7L206.6 498.1L209.4 497L211.5 494L213.8 488L214.7 483L214 479L212.6 476.4L210.6 475.4ZM178.6 363.1L180.3 363L180.9 365L179.6 365.8L178.6 365.5ZM187.6 363L193.6 363L193.6 366L193 367L190.6 367.9L188.3 367L186.6 365L187 363Z"/>
<path fill="#6c6cf8" d="M23.6 363L115.9 363L116.9 382L116.3 386L114.6 390L114.4 392L115.6 393.3L120.6 393.5L123.6 395.2L129.6 401.6L133.3 409L134.6 410.1L136.6 410.7L139.3 410L141 408L141.6 405L141 396L142.2 393L145.6 389.6L150.6 387.1L156.6 385.6L167.6 387.2L179.6 385.1L190.6 386.4L193.6 385.9L195.9 384L199.8 378L204.6 372L206.2 368L206.4 363L265.2 363L265.4 368L266.6 371.4L269.4 374L272.6 374.6L275.6 373.8L278.1 371L279.3 367L279.3 363L296.9 363L296.9 367L297.6 368.4L299.6 369.3L301.6 368.3L302.6 367L302.5 363L357.6 363L357.6 517L260.7 517L260.9 503L263 493L264.2 480L266.2 470L266 464L264.6 460.8L261.6 458.2L250.6 453.2L245.6 452.3L229.6 452.4L226.6 453L222.1 455L211.6 462L210.1 464L208.3 469L206.6 471.2L203.6 472.9L198.6 474.6L196.6 476L194.6 478.7L193.3 482L193.1 485L193.9 487L201.6 498.6L203.6 500.7L206.6 502.6L208.6 503.2L210.6 503L212.8 500L218.4 485L218.7 481L217.6 473L217.9 470L219.1 468L221.6 466.4L223.6 466.1L226 467L227.3 469L227.8 471L227.7 480L228.2 483L232 491L233.3 496L232.5 517L37.9 517L38.5 514L37.9 512L36.6 510.8L34.6 510.5L32.6 511.3L31.2 513L31 515L31.8 517L22.6 517L22.6 363ZM322.9 487L321 489L321.1 491L322.6 492.2L324.6 492.1L326.6 490.4L326.7 488L325.6 486.9Z"/>
<path fill="#a0a0fa" d="M23.6 363L107.9 363L109.2 379L107 390L107.4 395L108.8 397L115.6 399.9L118.1 402L119.8 406L122.7 420L124.6 423.7L126.6 424.5L128.6 422.2L131.6 414.5L133.6 413.5L138.6 412.4L141.7 410L143 406L143.1 396L144.6 393L146.6 391.1L150.6 389L155.6 387.8L167.6 388.8L179.6 387.3L190.6 388.3L194.6 387.4L197.3 385L205.8 373L207.6 368L207.7 363L234.3 363L232.9 373L233.2 377L234.4 380L235.6 381.5L237.6 382.8L238.6 382.8L239.6 382.3L240.4 381L240.6 377.9L239.6 374.4L235.8 367L235.1 365L235.3 363L264.2 363L264.5 369L266.1 373L268.6 375.2L272.6 376.1L276.2 375L278.6 372.5L280.3 368L280.4 363L294.5 363L294.5 367L295.4 370L297.1 372L299.6 372.7L302.6 371.6L304.6 369.6L305.8 367L305.8 363L331.4 363L331.3 366L332 369L333.6 371L335.6 371.4L342.6 368.7L349.6 368.9L351.7 367L351.7 363L357.6 363L357.6 517L346.2 517L346.6 514L346.2 512L344.7 510L343.6 509.6L342.6 510.1L341.8 512L341.8 517L263.5 517L263.9 508L266.3 495L266.6 482L268.9 469L268.6 464.2L267.6 460.8L265.8 458L263.6 456.3L250.6 450.3L247.6 449.6L238.6 449.6L229.6 447.6L225.6 448.7L215.6 455.4L205.7 460L202.9 462L200 467L194.6 473.7L188.6 483.7L186.6 485.4L183.6 485.6L180.6 484L179.3 482L176.6 474.4L175.6 472.9L173.6 471.7L170.6 472.2L163.3 478L162.5 479L162.7 481L168 491L169.7 497L170 502L169 517L40.6 517L40.8 513L39.7 510L37.6 508.1L35.6 507.6L31.6 508.3L28 511L26.8 514L27.4 517L22.6 517L22.6 363ZM40.8 388L39.8 390L40.6 392.5L42.6 393.5L44.2 393L45.9 391L45.9 389L43.6 387.6ZM326.3 433L323.9 436L323.4 439L327.5 462L327.5 468L326.6 473L325.6 475.3L323.6 477.6L315.6 482.4L313.6 482.4L309.6 479.5L307.6 479.6L305.6 483.2L304.5 488L304.9 492L306.6 493.8L308.6 493.9L313.6 492.6L321.6 496.1L324.6 496.1L327.6 495.2L331.3 493L333.2 491L338 482L338.7 479L339.7 465L339.4 460L334.6 451L328.9 433L328.6 432.4L327.6 432.3ZM86.6 435L85.6 436.2L84.8 439L85.4 443L87.6 445.2L90.6 445.2L92.4 444L93.8 442L94.3 440L94 438L92.7 436L90.6 434.7L88.6 434.3ZM123.2 442L120.8 443L119.3 445L119.1 447L119.9 449L124.8 455L130.6 463.3L133.6 464.9L135.6 464.6L136.5 463L136.5 461L134.6 454.6L125.6 443.1ZM306.9 461L306.6 463.7L307.6 465.3L308.6 464.9L309.3 462L308.6 460.4L307.6 460.2ZM151.4 478L151.5 479L152.6 479.3L153.9 479L154.5 478L152.6 477.2ZM222.6 490.6L224.6 490.6L226.6 492.1L229.2 497L229.7 502L229.4 517L214.9 517L215 509L216.6 501L219.6 493.7ZM191.6 491.9L193.6 492.5L195.6 494.2L200.8 502L207.4 509L208.9 513L208.7 517L180.5 517L180.5 512L181.7 508L185.6 501.6L188.9 494L190.6 492.1Z"/>
<path fill="#cdcdfa" d="M25.6 363L73.4 363L73.2 369L72.3 374L70.6 377.8L68.6 379.8L65.6 381.3L60.6 382.2L42.6 382.3L38.6 382.8L36.6 383.6L35.3 385L34.6 387L34.7 390L36.3 395L38.6 398.7L46.1 405L47 408L47.9 417L49.6 419.8L51.6 420.6L53.9 420L55.7 418L56.8 415L58.2 406L59.6 403.5L61.6 401.9L64.6 401.4L66.6 402.3L68.3 405L70.1 411L70.8 412L72.6 412.7L74.6 412.1L76.6 410L78.1 406L79.6 397L80.6 394.9L82.6 393.5L84.6 393.5L86.6 394.3L95.5 400L97.6 401.9L99.2 405L100.1 410L99.5 428L98.2 430L96.6 430.8L87.6 431L85.6 431.8L83.7 434L82.6 438L82.8 443L83.9 446L86.6 448.5L89.6 449.3L92.6 448.9L96.5 447L100.1 444L101.2 441L100.8 431L104.5 421L104.9 409L105.7 405L107 403L109.6 401.8L113.6 402.3L116 404L118.1 408L120.6 421L124.5 433L123.7 435L115.7 444L115 446L115.4 448L128.6 466.4L132.6 470L141.6 475L147.6 483.6L150.6 484.8L158.6 484.9L160.6 485.8L162.8 488L165.4 493L166.4 498L165 517L42.4 517L42.5 513L41.4 509L38.6 506L35.6 505.3L29.6 506.5L22.6 510.4L22.6 373.2L24.1 372L25 370ZM209.6 363L231 363L230.3 372L228.6 377.9L227.5 379L222.6 380.7L220.9 383L221.4 385L223.6 385.9L226.1 385L229.6 382.2L231.6 382.7L235.6 385L237.6 385.6L239.6 385.4L241.4 384L242.5 381L242.5 378L239.6 367L239.5 363L263.2 363L263.4 369L265.1 374L267.6 376.4L272.6 377.5L276.6 376.3L279.6 373.1L281.4 368L281.5 363L292.8 363L292.9 368L294.3 372L296.6 374.7L299.6 375.3L303.6 373.9L306.6 371.2L308.2 367L308.2 363L329.3 363L329.3 368L330.6 372.3L332.6 374.6L335.6 375.4L342.6 374.1L349.6 374.2L352.6 373.6L354.5 372L355.3 370L355.8 363L357.6 363L357.6 509.8L355.7 513L356.1 517L350.6 517L351 514L349.6 510L345.6 504.9L342.6 503.2L340.8 504L340 506L339.3 517L265.9 517L266.1 510L268.4 496L268.7 483L270.8 471L270.4 463L269.1 459L266.6 455.7L250.6 447.7L247.6 447L239.6 447.1L231.6 444.9L227.6 444.8L223.6 446.5L216.7 452L212.6 454.3L208.6 455.8L198.4 458L196.6 459.3L195.5 461L193.5 470L190.6 475.9L187.6 479.4L184.6 480.4L182.6 479.3L181.6 478.1L178.5 472L176.6 469.4L174.6 467.9L168.6 465.3L167.1 464L162.6 454.8L158.6 450.2L156.6 449.3L154.6 449.4L148.6 452.6L144.6 453.2L142.6 452.4L131.8 444L129.6 441L127 436L126.7 433L129.6 427.3L132 420L133.6 417L135.6 415.5L140.7 413L143.4 410L144.2 407L144.5 397L146.6 393.3L150.6 390.8L155.6 389.7L167.6 390.4L179.6 389.2L190.6 390.1L194.6 389.3L197.6 387L206.9 374L208.6 369L208.9 363ZM222 408L220.6 410L221.6 412.2L224.6 412.7L226.9 411L226.9 409L225.7 408L223.6 407.5ZM237.1 408L236.1 409L236 410L236.6 411L239.6 411.8L241.6 410.6L241.8 409L241 408L239.6 407.5ZM330.3 421L325.8 428L322.3 432L320.5 435L319.7 439L319.9 448L318.6 451.8L317.6 452.7L315.6 453.2L310.6 452.6L307.6 453L304.8 455L303.2 458L302.3 464L302.9 477L302 491L303.1 495L305.6 497.2L307.6 497.5L313.6 496.8L323.6 498.3L334.4 496L337.6 494L342.2 485L342.6 482L341.7 472L341.9 459L340.8 456L336.2 448L333.3 438L332.8 433L334 425L333.7 422L332.6 420.5L331.6 420.3ZM192.6 499.4L193.6 499.1L195.6 500.5L202.9 510L204.2 513L203.8 517L187.4 517L187.2 514L187.7 511L191 502ZM222.6 500.9L223.6 500.9L224.6 501.8L225.6 504.4L226.1 517L218.8 517L218.8 511L219.5 506L220.6 503Z"/>
<path fill="#ffffff" d="M28.6 363L69.7 363L69.6 368L68.6 372L66.6 375.2L63.6 377.5L60.6 378.6L56.6 379.2L33.6 379.5L31.4 380L30.4 381L30.7 387L33.2 395L36.6 401.3L42.9 409L46.6 420L48.6 422.4L50.6 423.6L56.6 425.1L60.6 427.2L63.6 427.1L66.6 424.9L71.5 419L77.6 413.2L81.6 402.9L83.6 399.9L85.6 399.2L87.6 399.4L93.6 402.7L96.2 406L97.5 410L97.9 416L97.3 422L96.2 425L94.6 427L92.6 427.8L85.6 428.9L83.6 430.2L82.3 432L81 436L80.6 440L81 444L82.5 448L84.6 450.3L86.6 451.5L91.6 452.5L95.6 451.9L106.6 447.8L108.6 447.7L110.6 448.5L117.7 455L124.4 465L127.7 469L132.6 473.5L139.6 478.3L145.6 485.8L149.6 487.5L157.6 487.6L160.6 489.3L163.1 493L164.2 498L163.8 504L161.5 513L161.6 517L44 517L44.1 513L43.3 509L41.8 506L39.6 504.2L36.6 503.3L33.6 503.4L22.6 505.5L22.6 378.3L26.5 378L27.8 377L28.3 374L28.2 363ZM210.6 363L229.4 363L229.1 369L227.6 374L225.6 376.3L220.6 379.3L218.5 382L218.3 384L219 386L220.6 387.6L222.6 388.2L225.6 388.1L230.6 386.4L238.6 387.7L240.6 387.2L242.6 385.5L243.7 383L244.1 379L243.6 374.4L241.9 367L241.8 363L262.2 363L262.4 370L263.9 375L266.6 377.7L270.6 378.8L275.6 378.4L277.6 377.3L279.6 375.3L282.1 370L282.7 363L291.3 363L291.4 368L292.6 372.5L294.6 375.8L297.6 377.7L299.6 377.8L302.6 377.1L307.6 373.9L309 372L310.1 369L310.4 363L327.6 363L327.7 369L328.6 373.6L330.6 377L332.6 378.3L335.6 378.8L343.6 378L354.6 378.3L357.6 377.9L357.6 506L353.6 507.6L351.6 506.5L346 500L343.8 496L343.8 493L345.5 487L345.8 484L343.5 472L343.8 458L342.6 454.5L338 447L336.3 442L335 434L336 422L334.6 418L332.6 416.8L329.6 418.2L324.6 426L319.1 432L317.7 435L315.6 442.7L314.3 445L312.6 446.4L305.6 449.7L303.6 451.6L302.2 454L300.6 459L299.8 466L300.5 480L300.2 491L300.6 494.3L301.7 497L303.6 498.9L305.6 499.7L313.6 499.5L322.6 500.1L331.6 499.4L334.6 500.1L336.4 502L337.4 505L337.8 517L268.2 517L268.2 511L270.1 497L270.6 484L272.9 471L272.1 462L270.2 457L267.6 453.8L250.6 445.2L247.6 444.6L239.6 444.4L230.6 442.4L225.6 442.4L222.6 443.9L216.6 449.5L211.6 452.5L206.6 453.9L198.6 454.6L195.6 455.5L193.9 457L192.8 459L191.4 468L190.2 472L187.6 475.5L185.6 476.4L184.2 476L182.6 474.5L177.6 467L170.4 461L163.6 449L161 446L155.4 441L152.6 432.4L151.6 431.2L149.6 431.4L147.9 433L144 441L142.6 442.4L140.6 443.1L137.6 442.8L133.6 440.3L131.7 437L131.1 434L131.3 430L133.1 422L135.3 418L141.8 414L144.4 411L145.4 407L145.9 398L147.6 394.7L150.6 392.6L155.6 391.5L167.6 392L181.6 391.1L190.6 391.8L195.6 390.7L198.8 388L208 375L209.7 370L210 363ZM224.2 405L220.5 406L218.2 409L218 411L218.6 413L219.6 414.3L221.6 415.3L225.6 415.4L231.6 413.7L240.6 414.4L243.6 413L245 411L245.1 409L244.6 407.4L243.3 406L241.6 405.2L237.6 404.9L231.6 406.2ZM279.2 429L277.1 430L275.6 432L275.7 435L277 437L278.6 438L281.6 438.4L284.6 437.7L287 436L287.9 433L286.6 430.6L283.6 428.9ZM110.6 404.9L113.6 405.2L115.4 407L116.4 409L120.5 431L120 434L117.5 438L113.6 441.5L111.6 442.6L109.6 442.9L107.6 441.9L106.2 440L105 437L104.6 433L106.7 421L107.5 409L108.6 406.5Z"/>
<path fill="#ffa3a3" d="M31.6 363L66.7 363L66.7 367L66 370L64.6 372.4L62.6 374.4L59.6 375.8L54.6 376.6L38.6 376.4L34.6 375.1L32.5 373L31.3 370L30.9 367L30.8 363ZM211.6 363L228.1 363L227.8 369L226.2 373L224.2 375L218 379L216.4 382L216.4 385L217.6 387.6L219.6 389.3L222.6 390.2L225.6 390.2L231.6 389.3L239.6 389.4L241.6 388.8L243.6 387.1L245 384L245.4 380L244 363L261.1 363L261.5 372L262.9 377L265.6 379.4L271.6 380.4L276.6 379.6L278.6 378.4L280.8 376L282.5 373L283.8 369L284.2 363L289.5 363L289.8 369L291.9 375L294.6 378.8L296.6 380L298.6 380.4L305.6 378.6L308.6 377L310.6 375L312.4 370L312.7 363L325.9 363L326.6 375L327.6 378L330.1 381L334.6 382.7L348.6 382L351.6 382.7L353.9 384L357.6 389.7L357.6 502.9L354.6 503.2L352.6 502.4L349.6 499L348.3 496L348 493L348.9 485L345.1 472L345.3 456L344.3 453L340.3 447L338.3 442L337 435L337.9 424L337.6 420L336.3 416L333.6 414L330.6 414.6L328.6 416.4L323.6 424.3L316.5 431L311.6 440.6L304.6 445.6L302.4 448L299.5 455L296.9 470L298.4 481L298.6 494L299.4 497L300.6 499.1L303.6 501.4L306.6 502.1L328.6 501.4L332.6 502.1L334.6 504L335.8 507L336.5 517L270.3 517L272.3 486L275.4 471L274.1 462L271.9 456L268.6 451.7L258.6 447.1L251.6 443.1L247.6 442L240.6 441.8L228.6 439.8L224.6 439.7L221.6 441L215.6 447.7L210.6 450.8L205.6 452L197.6 451.8L194.6 452.4L192.4 454L190.6 456.9L188.6 469L187.6 471L185.6 472.2L183.6 471.1L179.6 465.9L173 460L165.6 446.3L158.7 439L157.5 437L156.6 434L156.8 430L157.6 428L162.4 424L163.7 422L163.8 419L162.6 417L160.6 416.1L157.6 417.2L153 424L147.6 429.3L141.6 437.7L138.6 438.8L135.6 437.4L134.1 435L133.4 432L133.5 428L134.4 423L136.6 419L142.9 415L145.5 412L146.7 408L147.3 399L148.8 396L151.6 394.1L155.6 393.4L167.6 393.7L181.6 393.1L191.6 393.6L196.6 392.2L199.6 389.5L209.3 376L210.6 372L211.1 363ZM224.2 403L219.6 404.3L217.6 405.9L216.4 408L215.9 411L216.4 414L217.6 416L219.6 417.2L225.6 417.8L241.6 416.3L245.4 415L247.2 413L247.9 410L247.5 407L246.3 405L244.6 403.9L238.6 402.9ZM278.5 426L274.6 427.6L273.3 429L272.4 431L272.5 435L274.6 439L277.6 440.9L281.6 441.5L286.6 440.5L290.6 438L292 436L292.4 434L291.6 431L290.2 429L285.6 426.2L282.6 425.7ZM23.6 383.5L26.6 386.8L33.9 402L41.5 412L45.7 422L48.6 424.9L54.6 428.3L58.6 433.4L60.6 434.9L62.6 434.6L64.6 432.9L73.3 422L77.6 417.4L79.7 414L82.9 406L84.6 403.5L86.6 402.7L88.6 402.9L92.6 405.2L94.6 407.9L95.6 411L96 416L95.5 420L94.3 423L92.6 424.6L84.6 426.4L82.3 428L80.6 430.5L79.3 435L78.9 441L79.5 446L81.2 450L82.9 452L85.6 453.9L91.6 455.9L95.6 455.8L103.6 452.7L106.6 452.1L110.6 452.5L113.6 454.2L117.2 458L123.8 468L130.6 474.8L138 481L144.6 488.8L148.6 490.1L156.6 489.9L160 492L161.6 495L162.1 500L161.1 505L158.6 509.5L155.6 511.5L150.6 510.7L148.6 511L146.9 513L147.2 517L45.6 517L45.6 512L44.9 508L43.6 505L41.6 502.9L39.6 501.9L36.6 501.3L26.6 502L22.6 501.5L22.6 383.1ZM110.6 408.6L112.6 408.1L113.9 409L115 411L118.3 429L117.8 433L116.6 435.5L114.6 437.5L111.6 438.7L109.6 438.1L108.4 437L107.4 435L107 432L108.6 421L109.2 412Z"/>
<path fill="#ff7a7a" d="M33.6 363L63.8 363L63.9 366L62.6 370L60.7 372L58.6 373.2L54.6 373.9L40.6 373.8L36.6 372.4L34.6 370.1L33.5 367ZM212.6 363L226.9 363L226.7 368L225.1 372L222.6 374.2L215.6 378L214.2 380L213.9 383L215.2 388L217.6 390.5L221.6 392L228.6 392.7L240.6 391.2L243.6 390L245.4 388L246.4 385L246.8 381L246.1 363L259.9 363L260.5 377L261.3 380L262.6 381.4L264.6 381.9L271.6 382.1L274.6 381.9L277.6 380.9L281.2 378L286.6 369.9L287.6 370.6L291.3 378L293.6 381.1L295.6 382.7L298.6 383.5L308.6 381.4L312.6 379.8L314.1 378L314.9 375L315.1 363L324 363L323.7 378L324.5 381L325.7 383L331.6 388.3L334.6 390.1L343.6 387.2L346.6 387.1L349.6 387.9L351.8 390L355.1 397L357.6 399.5L357.6 499.7L354.6 498.9L352.8 497L352 495L351.8 485L347.6 475.7L346.4 471L347.3 458L347 453L345.9 450L342.3 445L340.5 441L339.5 435L339.9 423L339.5 417L338.3 413L335.6 410.6L332.6 410.7L329.6 412.4L327.6 414.6L322 423L319.6 424.7L313.6 427.3L309.6 432.6L307.6 433.9L304.6 433.8L300.6 432.3L291.6 425.5L285.6 423L281.6 422.7L275.6 423.3L272.6 424.1L270.1 426L269 430L269.9 436L271.6 440.1L274.6 443.2L278.6 444.3L283.6 444.4L295.6 441.5L297.6 441.9L298.3 443L298.3 448L295.9 460L293.6 464.5L291.6 465.3L287.6 463.3L285.6 463L280.6 465.6L279.6 465.5L277.6 463.3L273.1 453L270.6 449.6L267.6 447.8L259.9 445L252.6 440.7L247.6 439.3L233.6 438.3L223.6 436.2L220.6 437.1L215.2 445L210.6 448.5L204.6 449.9L194.6 448.6L191.6 450L189.6 452.3L188.2 455L185.6 464.9L184.6 465.5L183.6 465.2L176.6 460.1L174.6 458L168.1 444L161.6 435L161.5 433L161.9 432L166.6 428.1L169 425L170.8 421L171.3 418L170.9 416L169.4 414L166.2 412L162.6 410.8L158.6 411.4L155.2 414L148.9 424L141.6 433.8L139.6 435L138.6 435L136.9 434L135.8 432L135.2 429L136 423L137.9 420L144.6 415.9L147.2 413L148.2 409L148.6 400.9L149.2 399L150.6 397.1L152.6 396L155.6 395.6L181.6 395.4L191.6 395.8L196.6 394.7L200.1 392L205.6 383.9L211.1 378L212 375L212.2 363ZM228.4 400L219.6 402.1L217.6 403.1L215.6 405L214.2 408L213.6 413L214.3 417L215.6 418.8L219.6 420L228.6 420.2L237.6 418.6L248.6 417.8L250.6 417L251.5 416L252.2 413L252 407L251.6 403.9L250.5 402L248.6 401.3L238.6 400.8L231.6 399.7ZM351.6 425L348.4 430L347.5 435L349.2 440L350.6 441.5L352.6 442.2L354.3 441L355 439L355.2 431L354 425L353.6 424.4L352.6 424.3ZM23.5 390L25.6 392.7L33.1 406L40.1 414L44.6 423.4L46.6 425.6L51.6 429L53.6 431L57.6 440.5L58.6 441.7L60.6 442.6L62.6 442.6L64.6 441.6L71.6 429.7L78.6 422.6L84.6 407.8L85.6 406.7L87.6 405.9L90.7 407L92.6 409.1L93.9 413L93.9 417L92.6 420.7L89.6 422.6L80.6 424L79.4 425L78.1 428L77 435L76.8 443L77.7 448L79.6 452L83.6 455.8L90.6 459.6L93.6 460.6L96.6 460L105.6 455.6L109.6 455.5L112.6 456.8L115.5 460L119.5 467L135.9 483L142.6 492L144.6 493.1L146.6 493.4L155.6 492.4L158.5 494L159.5 496L159.9 499L159.3 502L157.6 504.8L154.6 506L147.6 504.9L144.6 505.9L142.9 508L141.8 511L141.5 517L47.7 517L47 507L45.6 503.2L43.6 501L38.6 499.3L26.8 499L23 497L22.6 496.6L22.6 389.3ZM112.6 414.4L113.6 416.1L116 429L115.1 433L112.6 435L111.6 435L110.3 434L109.4 430L111.6 415.7ZM291.6 474.9L293.6 475.8L295.6 479.6L296.3 484L296.4 495L297.6 499L299.6 501.7L302.6 503.5L306.6 504.2L326.6 503.1L330.6 503.5L332.8 505L334.5 508L335.2 512L335.2 517L272.7 517L273.9 490L274.7 485L276.6 479.6L279.6 475.6L281.6 475.5L285.6 476.8Z"/>
<path fill="#ff4242" d="M37.6 363L60.3 363L60.6 366L59.1 369L56.6 370.4L41.6 370.6L39.4 370L37.3 368L36.6 365L36.9 363ZM213.6 363L225.8 363L225.6 367.5L224 371L222.6 372.4L219.6 373.9L216.6 374.4L215.4 374L214.5 373L213.7 370ZM248.6 363L258.5 363L258 376L256.3 384L253.6 389.2L251.6 390.7L249.6 391.3L248.6 390.4L248.5 389ZM285.6 376.3L286.6 376.1L287.6 376.7L292.6 384.3L299 391L298.4 402L299.4 416L298.7 419L296.6 420.8L294.6 420.9L285.6 418.8L275.6 418.1L270.6 416.9L267.6 415.6L265.6 414L264.2 412L263.1 409L262.8 405L263.5 398L263.5 391L264.6 387L267.6 384.8L275.6 383.7L278.6 382.5ZM208.6 385.4L209.6 385.2L210.6 385.7L212.8 390L214.6 392.1L216.6 393.2L223.1 395L224.5 396L224.7 397L222.6 398.6L215.5 401L212.7 404L211.3 408L209.1 419L209.2 423L210.6 425.7L212.6 427.1L215.6 427.6L219.1 425L221.6 423.9L229.6 423.5L238.6 420.6L244.4 421L251.6 425.6L259.6 427.2L262.6 429.3L264.6 432.5L266.1 437L266.6 440L265.6 441.9L262.6 441.9L254.6 437.7L249.6 436.2L244.6 435.6L231.6 435.2L228.2 434L222.6 430.9L219.6 430.2L217.6 430.9L217 432L214.5 441L211.6 445L207.6 447.1L202.4 447L198.8 445L197 442L197.1 440L200.1 433L200.3 430L198.5 421L199.4 410L198.3 407L195.6 404.3L191.6 402.7L184.6 403.9L177.6 403.8L169.6 405.5L161.6 405L158.6 405.9L153.6 409.4L152.6 409.8L151.4 409L150.6 406L150.6 403L151.6 400.3L153.4 399L169.2 399L192.6 400.7L196.6 398.8L200.6 395.8L206.6 387.1ZM317.6 387.9L320.6 387.6L322.6 388.1L326.5 391L329.1 396L331.5 404L330.6 407L322.6 418.8L320.6 420.6L318.6 421.2L316 420L313.3 416L310.7 410L310 405L310.5 395L311.1 392L312.9 390ZM240.6 393.9L245.6 393.8L246.1 395L245 397L242.6 398.2L239.6 398.3L237 397L236.7 396L237.5 395ZM24.6 402.6L26.6 404.1L30.6 410.2L36.6 414.1L38.6 416L43.6 425.2L50.6 430.9L52.2 433L53.1 436L53.2 439L51.9 443L48.9 447L50.3 449L59.6 451.7L63.6 452.2L66.6 451.6L71.6 448.7L72.6 448.8L79.4 457L85.6 461L91.6 466.3L93.6 467.1L96.6 466L101.6 461.8L104.6 460L107.6 459.2L109.6 459.5L112.5 462L116 469L122.6 472.8L126.6 476.1L134.3 486L136.2 490L137.6 495L137.7 501L134.2 513L134.3 517L119.5 517L119.9 513L118.8 510L114.6 503L112.6 500.9L111.6 500.7L109.4 502L106.5 507L105.3 512L105.4 517L66 517L66.1 513L64.8 509L61.6 505.4L56.6 501.6L46.6 497L31.6 496.8L28.6 496.2L26.6 495L25 492L24.2 484L22.6 480.3L22.6 448.1L24 446L24.4 444L23.7 433L24.6 428.9L27.8 422L28.5 418L27.8 414L24.6 409.8L23.4 407L23.4 404ZM86.6 410.7L88.6 410.1L89.9 411L91 413L90.8 417L88.6 418.9L86.6 418.8L85 417L85.1 414ZM143.6 419L146.6 419.2L147 421L146.4 423L142.6 429.3L140.6 431L138.6 430.9L137.2 428L137.9 423L139.6 420.8ZM344.6 418.8L345.6 419L345.8 420L345.6 421.5L344.6 422.8L344 421ZM179.6 425.8L183.6 426.3L186.6 428.6L189 433L191 440L190.1 444L186.4 450L183.6 456L182.6 457.4L180.6 458L177.6 456.5L175.6 453.5L171.5 437L171.9 434L173.9 430L176.6 427.1ZM356.6 446.8L357.6 446.1L357.6 495.7L356.6 495L355.6 493L354.4 484L349.1 475L347.7 469L348.2 463L350.6 451.1L352.5 449ZM278.6 449.9L282.9 450L285.2 451L285.4 452L281.6 454.9L279.6 455.1L278.6 454.3L277.6 452L277.7 451ZM289.6 449.8L291.6 450L292.6 451.2L292.6 454L291.6 455.2L290.3 455L286.2 452L286.6 451ZM278.6 486.5L279.6 486.1L280.6 486.6L281.6 488L283.8 498L284.7 500L286.6 502.2L288.6 502.6L292.6 501.5L299.6 505.4L305.6 506.4L311.6 506.4L325.6 504.7L329.6 505.2L331.6 506.4L333.2 509L334 513L333.9 517L275.5 517L275.6 495.9L276.6 490ZM153.6 496.7L155.3 497L155.9 498L155.6 499.4L154.6 500.1L153.4 500L152.3 499L152.2 498Z"/>
<path fill="#ff0808" d="M215.6 363L224.5 363L224.4 367L222.6 370.4L220.6 371.7L218.6 372.1L216.2 371L215.2 369L214.7 366L214.8 363ZM252.6 363L256.1 363L256.2 366L255.6 372L254.6 375.4L252.6 378.8L251.6 376.9L251.5 373L251.6 363ZM284.6 381.7L286.6 381.8L288.4 384L290.5 389L291.3 393L291.1 398L290.3 402L288.6 404.9L286.6 405.5L278.6 402.9L274.6 400.8L271.3 396L269.5 391L270 389L271.1 388L278.6 385.5ZM318.6 394L321.6 393.5L323.6 394.6L325.6 397.7L326.8 402L326.7 405L325.7 408L322.6 413.1L320.6 415L318.6 414.4L317.6 412.9L315.2 405L315.7 398L316.6 396ZM34.6 418.9L36.6 419L37.6 419.8L42.6 427.9L49.3 433L50.2 435L50.2 437L48.6 439.7L46.6 440.5L44.6 440.5L37.6 438L30.6 438.8L27.9 437L27.1 434L27.7 431L32.6 421ZM238.6 423.7L241.6 423.8L243.4 425L244.5 427L244.5 429L243.6 430L240.6 431.1L236.6 431.5L233.6 430.9L232.6 430L232.9 428L235.9 425ZM206.6 437.4L208.6 437.2L209.6 438.5L209.6 440L208.3 442L205.6 442.7L204.5 442L204.4 440ZM31.6 449.7L36.6 449.4L42.6 451.7L51.1 457L52.6 459L53.5 462L53.4 466L51.4 477L50 481L41.4 491L38.6 492.6L35.6 493.3L31.6 493L29.1 491L26.8 481L24.6 477.1L22.6 475.3L22.6 456.8L26.6 452.4ZM355.6 451.9L357.6 451.1L357.6 482.9L351 475L349.7 472L349.2 469L349.6 463.7L351.6 456.4L353.6 453.2ZM76.6 466L79.6 465.3L82.6 465.8L90.6 471.9L93.6 472.9L96.6 472L102.6 467.4L105.6 466.5L107.6 467.8L109.9 473L111.6 475.1L113.6 475.4L116.6 474.5L119.6 474.3L123.6 476L126.6 478.9L128.9 482L132.1 489L132.7 496L132.1 499L130.6 501.9L128.6 503.8L126.6 504.7L124.6 504.8L122.6 504.1L118.6 500.4L112.6 491.8L110.6 491L108.6 492.6L101.2 503L100.4 507L100.3 517L90.4 517L90.4 511L89.7 507L87.6 504.7L84.6 504L81.6 504.7L80.5 506L80 509L80.1 517L70.1 517L70 510L69.2 506L63.3 499L62 496L61.9 494L62.7 492L66.6 488L67.6 486L69.7 475L71.1 471L73.6 467.7ZM320.6 507L326.6 506.5L328.6 506.8L330.6 508L332.5 512L332.5 517L297 517L296.7 513L297.8 511L299.6 509.8L303.6 509L311.6 509.2Z"/>
<path fill="#d90000" d="M216.6 363L222.9 363L223.1 366L221.6 368.9L219.6 369.8L217.5 369L216.5 367ZM31.6 455L35.6 454.5L40.6 456L44.9 459L46.5 462L46 467L43.6 471.9L40.5 475L35.6 477.3L33.6 477.4L30.6 476L25.3 471L23.4 468L23.7 465L26.3 459L28.6 456.5ZM355.6 455.8L357.6 455.1L357.6 477.3L354.6 476L352.6 474L351.5 472L350.8 469L351 465L352.1 461L353.6 457.8ZM80.6 472L83.6 472.7L90.6 477.1L93.6 478.1L96.6 477.6L101.6 475.3L103.6 475.6L105.4 478L106.3 482L105.7 486L104.2 489L101.6 491L94.6 490.7L92.6 492.1L88.6 496.6L85.6 497.8L82.6 497.1L74.6 491.7L72.6 489.8L71.6 487L71.4 483L72 479L73.2 476L74.9 474L77.6 472.4ZM118.6 477.7L120.6 477.5L123.6 478.8L125.7 481L127.9 485L128.9 489L128.8 493L127.6 496.3L125.6 498L123.6 498.3L120.6 496.7L117.6 492.9L115.3 488L114.7 485L115 482L116.6 479.1ZM321.6 508.8L326.6 508.4L329.6 509.8L331 513L330.8 517L315.5 517L314.4 515L314.6 513L317.6 510.5Z"/>
<path fill="#a00000" d="M356.6 459.9L357.6 459.8L357.6 472.5L356.6 472.7L354.6 472.1L353.6 471L352.8 467L353.8 463L354.6 461.5ZM78.6 476.7L80.6 476.7L83.6 477.8L86.3 480L88.5 483L88.9 485L88.6 487L87.6 489.2L85.6 491.2L83.6 491.6L80.6 490.5L76.7 488L75.1 486L74.4 483L74.9 480L76.6 477.7ZM119.6 481.6L120.6 481.1L122.6 481.6L125 485L125.5 489L124.8 491L123.6 492.1L122.6 492.3L120.6 491.2L118.7 488L118.3 484ZM323.6 510.9L326.6 511L328.1 512L328.8 514L328.1 517L321.1 517L319.9 515L320.1 513L321.6 511.7Z"/>
<path fill="#fff" stroke="#000" stroke-width="0.7" stroke-linejoin="round" d="M16.65 361.08L16.65 366L13.72 372.15L10.98 381.99L10.07 388.14L10.53 393.06L9.61 403.64L10.34 409.05L11.9 412.74L13.45 416.43L14.64 421.35L16.01 424.3L18.75 428.98L21.95 427.01L25.6 426.27L27.88 424.3L29.71 424.3L31.08 429.22L33.37 428.73L34.46 431.19L34.28 437.34L34.1 442.26L36.38 450.87L36.84 454.56L37.75 461.94L38.12 466.86L36.56 473.75L36.38 481.62L37.93 490.23L38.85 495.15L39.3 506.22L40.67 510.16L41.59 516.06L42.05 520.98L42.5 524.67L43.87 525.9L48.44 524.67L51.18 520.98L53.47 516.06L53.92 513.35L55.2 509.91L55.48 503.76L56.21 502.04L58.03 498.35L57.85 492.69L57.3 488.51L58.95 486.05L61.69 480.39L62.69 475.47L62.6 465.63L61.69 459.48L61.41 454.56L61.87 449.64L63.51 443.98L65.34 438.57L67.63 433.65L69.91 426.27L71.28 418.89L72.47 410.77L69.45 412.25L65.8 414.22L65.16 410.77L64.61 407.82L62.14 401.18L61.23 396.75L59.77 390.6L59.4 385.68L58.12 381.01L57.12 375.84L56.21 372.15L55.29 366.25L55.11 362.31L53.01 362.31L48.44 361.08L43.87 361.08L34.74 348.78L21.03 351.24L16.65 361.08ZM345.55 361.08L345.55 366L342.62 372.15L339.88 381.99L338.97 388.14L339.43 393.06L338.51 403.64L339.24 409.05L340.8 412.74L342.35 416.43L343.54 421.35L344.91 424.3L347.65 428.98L350.85 427.01L354.5 426.27L356.78 424.3L358.61 424.3L359.98 429.22L362.27 428.73L363.36 431.19L363.18 437.34L363 442.26L365.28 450.87L365.74 454.56L366.65 461.94L367.02 466.86L365.46 473.75L365.28 481.62L366.83 490.23L367.75 495.15L368.2 506.22L369.57 510.16L370.49 516.06L370.94 520.98L371.4 524.67L372.77 525.9L377.34 524.67L380.08 520.98L382.37 516.06L382.82 513.35L384.1 509.91L384.38 503.76L385.11 502.04L386.93 498.35L386.75 492.69L386.2 488.51L387.85 486.05L390.59 480.39L391.59 475.47L391.5 465.63L390.59 459.48L390.31 454.56L390.77 449.64L392.41 443.98L394.24 438.57L396.53 433.65L398.81 426.27L400.18 418.89L401.37 410.77L398.35 412.25L394.7 414.22L394.06 410.77L393.51 407.82L391.04 401.18L390.13 396.75L388.67 390.6L388.3 385.68L387.02 381.01L386.02 375.84L385.11 372.15L384.19 366.25L384.01 362.31L381.91 362.31L377.34 361.08L372.77 361.08L363.64 348.78L349.93 351.24L345.55 361.08ZM57.12 362.31L57.12 367.23L57.58 370.92L58.95 375.84L60.32 380.76L61.41 386.91L62.6 393.06L63.97 397.98L64.61 402.9L65.16 408.56L66.71 408.31L69.45 405.36L72.65 402.41L73.29 401.18L75.85 397.98L77.4 395.52L78.41 393.06L79.05 389.37L80.23 384.45L79.32 381.74L77.68 380.76L77.04 378.55L77.13 375.35L76.76 375.35L76.31 377.07L74.94 380.27L73.11 380.76L72.65 378.3L72.74 375.84L71.74 375.35L71.28 373.38L69.91 369.69L69.45 366L70.18 366L71.55 367.97L72.19 370.92L74.02 373.87L75.67 374.61L76.94 373.13L77.95 376.33L81.79 377.81L84.07 377.56L86.36 377.32L87.09 379.53L87.91 381.5L88.64 383.71L89.55 384.45L88.64 386.17L89.55 388.14L90.65 388.88L91.84 386.91L91.93 385.19L92.11 388.14L92.11 393.06L92.57 397.98L93.02 401.67L93.66 406.59L94.12 410.28L95.03 415.2L95.49 418.15L96.4 419.87L97.04 417.91L97.78 416.92L98.6 414.46L98.51 410.28L98.87 406.59L98.78 402.41L99.6 399.7L100.79 398.96L101.89 396.01L103.26 392.32L104.63 390.6L105.08 386.91L106.45 386.17L107.82 385.68L108.74 384.45L109.47 385.19L109.93 388.88L110.57 390.6L111.48 394.29L111.94 399.21L112.39 400.93L113.31 399.21L114.22 398.47L114.77 400.44L115.13 404.13L115.59 406.59L115.68 410.28L115.59 413.97L115.41 417.66L115.41 420.12L116.69 423.81L117.24 427.5L117.69 431.19L118.33 432.91L119.25 434.88L120.16 436.6L120.8 436.36L120.16 432.42L120.07 428.73L119.34 425.04L118.33 423.07L117.42 421.84L116.96 417.66L116.23 413.97L116.5 410.28L116.96 406.84L117.87 408.56L119.25 410.28L119.7 412.74L121.07 413.97L121.35 418.64L122.9 416.43L123.81 413.97L125.18 411.51L125.46 407.82L125.18 402.9L124.27 399.95L123.36 397.98L122.44 394.29L122.17 391.83L122.9 389.37L123.81 386.91L124.73 386.42L125.82 386.91L126.46 389.86L126.55 387.65L127.92 386.17L129.29 385.19L129.93 384.7L131.58 383.47L132.95 381.25L134.14 378.3L134.87 375.84L135.23 372.64L136.15 369.69L137.06 366L136.6 363.54L136.88 361.08L136.15 358.62L135.23 353.7L80.42 341.4L57.12 362.31ZM70.64 469.32L71.46 475.47L71.65 477.93L71.1 481.62L70.64 484.08L69.91 490.23L69 497.61L68.54 501.3L66.9 502.53L65.8 501.3L65.16 495.15L65.52 491.46L66.26 487.77L65.8 482.85L66.26 479.65L68.08 477.93L69 475.47L69.45 473.01L70.64 469.32ZM98.51 420.12L98.69 425.04L99.24 425.29L100.33 422.58L100.06 419.38L99.15 415.69L98.6 417.66L98.51 420.12ZM124.91 394.29L125.64 395.03L126.55 393.8L127.01 391.34L126.55 390.35L125.64 390.6L124.91 392.57L124.91 394.29ZM135.32 383.22L135.87 385.68L136.15 385.19L136.6 381.99L137.06 378.3L136.6 377.56L135.87 379.53L135.32 383.22ZM135.23 400.44L135.69 394.29L136.6 394.04L137.33 394.78L137.24 397.98L136.88 401.67L137.52 404.87L138.61 405.85L139.07 408.8L138.16 408.07L137.06 406.1L135.96 405.85L135.78 404.13L135.23 400.44ZM137.06 422.58L138.43 420.61L139.07 419.38L140.26 415.94L141.17 418.89L140.9 423.81L140.26 425.78L139.34 424.55L138.71 421.84L137.06 422.58ZM136.97 410.77L137.79 414.22L138.43 416.92L139.34 415.2L140.08 412L139.8 409.05L138.89 409.54L137.97 411.51L136.97 410.77ZM132.68 419.38L133.86 416.43L134.96 412.74L134.59 412L133.41 415.2L132.68 419.38ZM125.18 436.11L125.73 434.88L127.01 436.11L127.47 433.16L128.84 431.93L130.21 428.73L131.03 426.76L132.04 423.81L132.77 423.07L133.86 426.27L134.5 427.25L133.41 429.22L132.95 432.42L133.41 437.34L134.14 437.34L132.95 439.8L132.49 442.26L132.04 445.95L131.58 449.15L130.21 448.41L128.84 447.67L127.47 447.18L126.28 446.69L126.1 443.49L125.18 439.8L125.18 436.11ZM112.67 426.02L114.68 427.01L115.59 429.96L116.96 433.65L118.33 435.62L119.7 438.57L120.34 442.26L121.07 444.72L122.26 447.18L122.44 450.87L122.26 454.07L121.07 454.31L120.16 452.1L119.06 449.64L118.15 446.69L117.24 442.26L116.23 438.57L115.59 435.37L114.68 433.65L113.76 431.19L112.67 426.02ZM121.71 456.53L122.44 454.56L123.81 455.05L124.73 456.28L126.55 455.79L127.47 456.28L128.56 457.02L130.21 458.99L130.12 461.2L128.38 460.22L126.1 459.48L124.27 458.74L122.9 457.76L121.71 456.53ZM130.85 459.97L132.04 460.22L134.32 460.22L135.69 460.22L137.52 459.97L137.97 460.71L136.15 461.69L134.32 461.45L132.49 461.94L131.12 461.45L130.85 459.97ZM138.89 464.4L140.26 462.43L141.9 460.46L140.72 461.94L139.34 464.89L138.89 464.4ZM134.78 453.33L134.69 448.41L134.14 445.95L134.78 441.03L135.23 438.32L136.15 436.6L137.97 437.34L139.34 436.11L139.98 436.11L139.16 438.82L137.97 438.57L136.6 438.57L135.42 438.82L135.87 443L136.7 442.26L138.25 441.77L137.24 444.72L137.52 450.87L136.6 450.87L136.15 446.69L135.69 447.18L135.6 453.33L134.78 453.33ZM142.09 434.39L142.54 437.34L143.27 438.57L142.54 439.8L143 441.77L142.27 441.03L142.09 437.83L142.09 434.39ZM142.54 447.67L144.37 447.18L145.1 449.15L143.46 448.66L142.54 447.67ZM140.72 447.67L141.63 447.67L141.63 449.15L140.72 448.9L140.72 447.67ZM145.28 442.26L146.65 441.03L148.02 441.77L148.94 447.92L151.22 443.49L153.51 445.7L156.25 447.92L158.71 451.61L160.36 455.05L160.63 459.48L162.64 465.14L160.81 464.89L159.44 461.45L157.16 458.99L155.88 462.68L154.42 462.19L152.59 459.73L151.68 457.02L152.14 454.56L150.76 452.1L148.94 450.62L147.57 449.64L146.38 446.69L145.28 443.49L145.28 442.26ZM161.27 453.33L162.64 452.1L164.01 450.87L164.74 450.13L164.29 453.33L162.64 455.05L161.27 453.33ZM168.58 456.53L169.49 458.25L171.32 460.71L172.51 463.17L173.15 465.14L172.23 463.91L170.41 460.22L168.58 456.53ZM130.67 513.6L130.67 518.52L130.67 525.9L144.37 525.9L165.38 525.9L165.38 516.06L165.47 513.6L165.93 510.65L165.57 507.45L165.38 501.79L163.56 497.61L163.37 495.15L162.18 494.66L161.55 489.74L159.17 485.31L158.53 480.39L158.35 476.7L156.89 474.24L156.7 470.55L155.79 466.12L155.33 466.86L154.97 471.78L154.88 479.16L154.24 482.85L152.59 482.11L150.76 479.16L149.39 476.21L149.85 472.52L150.76 470.55L150.31 469.32L148.94 470.06L147.11 469.07L146.65 468.09L145.28 469.81L144.64 471.78L143.91 476.45L143.46 476.7L142.09 474.24L140.72 474.24L139.34 477.93L138.43 481.62L137.24 484.08L136.15 487.77L134.32 489L132.31 490.48L129.93 493.43L129.57 496.38L129.2 500.07L129.75 504.99L130.57 511.14L130.67 513.6ZM175.43 489.49L176.35 490.97L178.17 494.41L177.72 494.9L175.89 491.46L175.43 489.49ZM187.58 482.85L188.68 482.36L188.68 484.57L187.77 484.57L187.58 482.85ZM212.07 390.85L212.89 392.32L212.89 390.85L212.07 390.11L212.07 390.85ZM244.87 353.7L247.15 358.62L248.52 364.77L249.43 367.23L250.35 370.92L251.26 373.87L252.18 378.3L254 383.22L254.46 382.73L253.55 380.02L252.63 375.84L251.44 370.92L249.89 366L249.71 362.31L251.26 363.05L252.63 369.69L254 372.64L254.92 376.33L255.83 378.3L257.2 381.99L258.11 385.68L258.21 389.37L257.93 390.6L259.03 392.57L259.94 394.78L261.31 395.77L263.14 397.98L264.97 400.19L266.34 401.18L267.71 399.95L268.62 399.95L269.99 402.9L270.9 405.36L272.46 406.59L274.1 407.33L274.74 408.07L275.47 410.28L276.2 412.74L276.2 415.2L276.84 415.94L277.12 416.43L278.12 419.14L279.58 419.63L280.95 421.84L281.41 421.35L281.87 418.15L282.78 419.38L283.24 421.35L283.79 423.32L283.79 429.96L283.88 433.65L282.6 436.11L281.41 437.83L280.95 441.03L281.32 446.2L280.5 450.87L280.31 454.07L281.41 457.02L282.51 460.71L283.7 466.86L284.88 473.01L285.98 477.68L287.81 480.39L289.18 482.85L290.27 485.31L290.46 491.46L290.09 497.61L290 503.76L289.36 509.91L289.09 513.6L289.09 518.52L288.72 525.9L303.34 525.9L306.08 522.21L307.91 516.06L308.55 513.6L309.73 509.91L310.19 503.76L310.65 502.04L312.02 498.84L313.39 497.61L315.03 496.38L316.13 496.13L317.04 493.43L317.77 489L318.23 486.54L318.69 482.85L318.87 476.7L319.33 471.78L320.24 468.09L321.61 464.4L322.52 459.48L322.71 457.02L322.25 453.33L320.7 451.61L319.33 448.9L317.5 446.69L315.67 446.2L314.03 445.95L313.39 443.49L311.1 441.28L310.19 442.75L309.28 440.29L308.36 437.34L307.72 429.96L306.54 427.01L305.17 425.53L303.34 425.29L301.97 425.04L301.05 422.58L299.68 419.38L298.31 416.18L297.4 413.72L296.03 413.72L294.2 413.72L292.37 413.97L291 411.51L289.63 412.74L289.18 415.2L289.45 417.66L288.9 416.43L288.72 412.74L288.26 410.77L287.35 412L286.44 412.74L285.52 414.22L285.07 416.68L284.33 418.64L283.79 418.4L282.78 416.68L281.78 416.18L280.5 417.91L279.4 417.17L278.67 415.2L278.12 412.99L278.03 409.05L278.3 404.62L277.76 402.9L276.39 400.69L274.56 400.93L273.83 401.18L273.37 400.44L273.92 396.75L274.38 393.06L274.56 389.86L275.2 387.4L274.1 386.91L272 388.14L271.82 391.09L270.9 394.29L269.53 394.54L268.16 395.03L266.98 393.8L266.34 391.83L265.7 389.12L265.42 385.68L265.15 380.76L265.51 376.33L265.61 372.15L266.34 370.18L267.89 367.48L269.26 366.49L271.36 367.72L272.73 366.98L273.19 365.26L275.93 365.02L277.48 366L278.67 368.46L279.04 372.15L279.86 376.09L280.59 377.81L281.23 375.84L281.41 373.38L280.86 369.69L280.22 364.77L280.5 361.08L284.15 353.7L244.87 353.7ZM276.84 386.17L278.21 385.19L279.58 382.97L281.41 382.97L283.24 384.94L285.07 387.89L286.71 390.11L285.98 390.85L283.7 390.85L283.42 388.88L282.32 386.66L280.04 386.17L278.67 386.91L276.84 386.17ZM286.44 394.54L287.99 390.85L290.55 391.34L292.1 394.04L291.73 395.03L289.63 395.03L288.26 395.03L286.53 395.03L286.44 394.54ZM282.96 394.78L284.79 395.03L284.33 395.77L283.06 395.27L282.96 394.78ZM293.11 394.54L294.57 394.54L294.48 395.52L293.11 395.52L293.11 394.54Z"/>
<path fill="none" stroke="#000" stroke-width="0.6" d="M52.28 447.92L52.55 452.1L53.47 458.25L53.92 461.2L53.56 460.71L52.73 455.79L52.19 450.87L52.28 447.92ZM56.94 463.17L57.3 466.86L57.12 470.55L57.85 474.98L57.39 471.78L56.94 466.86L56.94 463.17ZM54.65 440.54L56.21 439.06L56.66 441.03L56.48 445.95L55.29 445.95L54.56 443.49L54.65 440.54Z"/>
<path fill="none" stroke="#000" stroke-width="2.4" stroke-linecap="round" stroke-dasharray="0 3.655" d="M153.8 374.6H164.8M168.4 374.6H172.1M186.7 374.6H190.4M139.2 384.4H142.9M157.5 384.4H164.8M212.3 384.4H212.3M285.4 394.2H289.1M212.3 403.9H212.3M281.7 403.9H281.8M289.1 403.9H289.1M29.5 423.5H33.2M62.4 462.6H66.1M88.0 462.6H91.7M252.5 462.6H256.2M321.9 462.6H325.6M29.5 472.4H29.6M66.1 472.4H88.0M248.8 472.4H256.2M73.4 482.2H88.0M99.0 482.2H102.7M201.3 482.2H205.0M216.0 482.2H216.0M69.8 492.0H80.7M216.0 492.0H216.0M69.8 501.7H69.8M245.2 501.7H252.5"/>
</g>
<rect x="25.6" y="366" width="328.9" height="147.6" fill="none" stroke="#000" stroke-width="1.7"/>
<path stroke="#000" stroke-width="1.3" d="M25.6 513.6h-5.6M25.6 501.3h-3M25.6 489h-3M25.6 476.7h-5.6M25.6 464.4h-3M25.6 452.1h-3M25.6 439.8h-5.6M25.6 427.5h-3M25.6 415.2h-3M25.6 402.9h-5.6M25.6 390.6h-3M25.6 378.3h-3M25.6 366h-5.6"/>
<text x="15" y="368.7" class="ax" text-anchor="end">30N</text>
<text x="15" y="405.6" class="ax" text-anchor="end">15N</text>
<text x="15" y="442.5" class="ax" text-anchor="end">0</text>
<text x="15" y="479.4" class="ax" text-anchor="end">15S</text>
<text x="15" y="516.3" class="ax" text-anchor="end">30S</text>
<path stroke="#000" stroke-width="1.3" d="M25.6 513.6v5M34.74 513.6v2.6M43.87 513.6v2.6M53.01 513.6v2.6M62.14 513.6v2.6M71.28 513.6v2.6M80.42 513.6v5M89.55 513.6v2.6M98.69 513.6v2.6M107.82 513.6v2.6M116.96 513.6v2.6M126.1 513.6v2.6M135.23 513.6v5M144.37 513.6v2.6M153.51 513.6v2.6M162.64 513.6v2.6M171.78 513.6v2.6M180.91 513.6v2.6M190.05 513.6v5M199.19 513.6v2.6M208.32 513.6v2.6M217.46 513.6v2.6M226.59 513.6v2.6M235.73 513.6v2.6M244.87 513.6v5M254 513.6v2.6M263.14 513.6v2.6M272.27 513.6v2.6M281.41 513.6v2.6M290.55 513.6v2.6M299.68 513.6v5M308.82 513.6v2.6M317.96 513.6v2.6M327.09 513.6v2.6M336.23 513.6v2.6M345.36 513.6v2.6M354.5 513.6v5"/>
<text x="25.6" y="529.6" class="ax" text-anchor="middle">0</text>
<text x="80.42" y="529.6" class="ax" text-anchor="middle">60E</text>
<text x="135.23" y="529.6" class="ax" text-anchor="middle">120E</text>
<text x="190.05" y="529.6" class="ax" text-anchor="middle">180</text>
<text x="244.87" y="529.6" class="ax" text-anchor="middle">120W</text>
<text x="299.68" y="529.6" class="ax" text-anchor="middle">60W</text>
<text x="354.5" y="529.6" class="ax" text-anchor="middle">0</text>
<text x="93.4" y="358.6" class="lb" textLength="17.5" lengthAdjust="spacingAndGlyphs">(e)</text>
<text x="119.3" y="361.1" class="ttl" textLength="170.9" lengthAdjust="spacingAndGlyphs">OBS SST Trend 98-14</text>
<clipPath id="clipf"><rect x="385.4" y="366" width="329.1" height="147.6"/></clipPath>
<g clip-path="url(#clipf)">
<rect x="385.4" y="366" width="329.1" height="147.6" fill="#f5f0e2"/>
<rect x="384.4" y="365.0" width="331.1" height="149.6" fill="#7d4808"/>
<path fill="#a76a1c" d="M383.4 363L718.4 363L718.4 517L382.4 517L382.4 363ZM452.1 425L451.4 427L451.5 434L449.5 442L450.4 443.1L453.4 443.9L456.4 443.8L459.4 443.1L460.9 442L462.1 440L462.3 437L461.5 434L459.7 431L455.4 426L453.4 424.7ZM670.4 433L667.4 435L665.7 439L665.7 442L666.4 444L668.4 445.2L670.4 444.6L678.4 440.5L680.1 439L680.9 437L680.3 435L677.4 433.1L673.4 432.5ZM587.9 461L585.4 462.8L584.2 465L584 468L585.4 469.8L587.4 469.8L589 469L591.4 466L591.7 464L591 462L589.4 460.9ZM564 485L562.4 486.5L561.4 489L561.6 494L562.4 496.2L564.4 498.8L567.4 499.9L568.6 499L569.8 496L570.3 492L570 489L569.2 487L567.4 485.2L565.4 484.7Z"/>
<path fill="#c99546" d="M383.4 363L718.4 363L718.4 517L575.2 517L575.6 508L577.9 499L578 496L572.3 485L569.4 482.7L565.4 481.6L562.4 482.4L560.4 484.4L559.1 488L558.7 493L560.4 498.9L566.3 509L567.2 513L567.1 517L382.4 517L382.4 363ZM497.1 388L495.4 389.2L494 392L493.5 396L494.4 397.4L496.4 396.9L498.4 395.5L500.4 392L500.1 389L498.9 388ZM489.6 402L488.4 403.5L488.1 405L488.4 406.2L489.4 406.6L490.4 405.7L491.3 403L491.3 402L490.4 401.5ZM450.1 420L447.4 421.9L446.5 424L447.5 432L446.8 435L444.4 437.4L440.4 439.2L438.9 441L438.3 445L438.7 447L439.4 447.8L441.4 448.1L458.4 446.3L462.4 444.7L464.3 442L464.4 435.5L462.4 429.5L455.4 420.8L453.4 419.8ZM669.4 431L666.2 433L664.3 436L663.1 441L663 446L663.4 449L666.8 457L668.4 463.8L669.4 465.5L671.4 466.6L674.4 465.2L676.7 461L677.1 457L676.2 451L676.9 448L683.6 442L685.4 439.2L685.9 437L685 434L680.4 431.2L674.4 430.1ZM489.2 453L488.2 454L488.4 455.6L489.4 455.7L490 455L490.2 454ZM586.5 457L582.4 460.3L580.5 465L580.4 469L581.2 472L582.4 473.7L584.4 474.7L588.4 474L591.9 472L594.8 469L596.1 466L595.7 462L593.4 458.4L590.4 456.6ZM526.2 466L520.4 470.1L518.7 473L518.6 476L519.4 478.4L521.4 481L523.4 481.9L525.4 481.6L527 480L530.7 471L530.5 468L529.4 466.2L527.4 465.4ZM404.1 484L402.6 486L401.5 489L401.4 492L402.4 493.6L403.4 493.7L405.4 492.3L407.1 488L406.4 484.2L405.4 483.6Z"/>
<path fill="#e0c481" d="M383.4 363L513.4 363L512.9 373L513.3 375L514.4 376.2L517.4 376.7L520.6 376L522.1 374L522.1 363L533.8 363L533.1 369L528.4 379L529.4 381.2L532.4 382.3L536.4 381.4L539.6 378L541.7 371L541.8 363L718.4 363L718.4 517L578.8 517L578.7 513L579.4 509.1L583.6 499L583.9 496L583.3 493L581.4 489.4L576.4 482.7L570.4 480.2L564.4 479.4L561.4 480L559.1 482L557 487L556 493L557.1 498L563.2 510L563.8 513L563.6 517L382.4 517L382.4 363ZM501 380L494.4 383.3L491.7 387L489.4 395L485.8 401L484.8 404L485.4 407.9L487.4 409.8L489.4 410L491.4 408.6L494.9 402L500.4 396.8L502.4 393.8L505.7 382L505.4 380.7L504.4 379.9ZM468.4 411L467.4 411.6L466.6 414L466.5 420L467.3 423L469.4 423.9L471.4 423.3L472.8 422L473.8 420L473.9 417L472.4 413.2L470.4 411.5ZM449.7 417L444.5 419L434.9 426L433.3 428L432.7 432L434.1 443L433.7 452L434.4 454.6L435.4 455.5L437.4 455.2L441.4 452.1L444.4 450.6L461.4 447.6L464.5 446L466.1 444L466.6 442L466.5 438L465.5 429L464.5 426L456.9 418L453.4 416.8ZM669.7 429L665.4 431.3L662.9 435L660.9 443L660.3 452L660.9 456L665.4 469L668.4 472.3L670.4 473.5L672.4 473.9L675.4 472L679.3 466L680.5 462L682 451L683.4 448L688.7 441L690 436L689.5 434L688.4 432.3L684.4 430L676.4 428.3ZM646.3 433L645.4 433.8L645.3 435L646.4 436.1L647.4 435.1L647.5 434ZM554.2 445L553.7 447L554.3 449L555.4 450.1L556.4 450.2L557.7 449L557.5 446L555.4 444.5ZM488.2 449L485.4 452.3L484.5 456L485.4 458.1L488.4 459.3L490.4 459L491.7 458L492.9 456L493.2 454L492.8 451L491.4 448.7L489.4 448.3ZM585.7 454L580.4 457.6L578.8 460L578.2 462L578.1 468L578.9 475L580.4 478L582.4 478.8L585.4 478.6L588.4 477.7L594.5 474L598.5 470L600.5 465L600.5 463L599.7 461L594.4 455.6L590.4 453.5L588.4 453.4ZM609 455L606.2 458L605.9 459L606.4 460.5L608.4 461.4L610.4 461.4L613.9 460L615 458L614.4 456L613.3 455L611.4 454.4ZM526.4 461L518.3 469L516.5 473L516.7 477L518.2 481L520.4 483.7L523.4 485L526.4 484.5L528.1 483L534.5 471L534.3 468L531.4 462.8L528.4 460.4ZM403.4 480L401.4 481.8L400.1 484L397.5 492L397.9 497L399.3 499L400.4 499.4L403.4 498.6L406.3 496L407.9 493L409 489L409.2 485L408.4 481.9L406.4 479.8Z"/>
<path fill="#f2e2b8" d="M383.4 363L497.7 363L497.6 369L496.7 373L495.2 376L489.4 382.9L486.4 393.6L481.8 402L481.8 406L483.1 409L485.4 411.2L488.4 412.1L490.4 411.6L492.3 410L496.2 403L502.3 397L507.4 388.4L511.4 384.7L515.4 382.8L518.4 382.5L521.4 383.3L526.4 386.1L529.4 386.9L534.4 386.6L539.4 385.3L542.4 383.3L547.4 377.7L555.4 375L561 371L563.9 367L563.9 363L718.4 363L718.4 439.5L717.5 443L718.4 446.2L718.4 517L607.4 517L607.5 512L603.9 497L602.4 494L601.4 493.1L599.4 492.7L597.4 493.4L595.8 495L594.9 497L594.3 500L595 506L597.5 513L597.5 517L582.5 517L582.5 512L586.8 503L587.8 499L587.8 495L585.9 487L586.3 484L599.3 474L605.4 466.7L608.4 465.4L615.4 464.2L618.9 463L621.5 461L622.2 459L621.5 457L619.1 454L616.8 452L614.4 450.9L611.4 450.6L609.4 451L602.4 455.4L600.4 455.8L598.4 455.1L592.4 451.4L588.4 450.5L585.4 450.9L581.4 452.8L577.4 455.6L575.5 458L575.1 461L576 472L575.5 475L574.4 476.6L571.4 477.6L562.4 477.2L559.1 478L557.1 480L553.4 489L551.4 491.6L543.4 492.8L540.7 494L538.8 496L538.7 499L539.4 500L541.4 501.1L545.4 500.8L551.4 498.2L554.4 499.9L557.4 503.9L560.1 509L561.1 513L560.9 517L382.4 517L382.4 363ZM470.8 390L468.4 392.6L463.4 401.4L461.9 405L460.3 411L459.2 413L457.4 413.8L446.4 414.8L440.4 416.3L431.5 421L428.3 424L427.6 426L427.6 429L431.1 443L431.1 454L432.2 457L434.4 458.8L437.4 458.6L442.4 454.2L445.4 452.5L461.4 449.6L465.4 448L467.7 446L468.6 443L467.8 434L468.3 430L469.6 428L473.4 424.8L474.8 423L475.9 420L476.3 417L476 413L474.4 406L476 399L476 396L475 393L473.4 390.5L472.4 389.9ZM605.8 403L604 404L602.8 406L603 407L605.1 409L607.4 410L609.4 410.1L611.4 409.4L613 408L613.5 406L612.4 403.9L609.4 402.6ZM585.2 405L584.2 406L584.4 408L585.5 409L588.4 410L591.4 410L593.4 409.4L595.4 408L596 407L595.8 406L594.6 405L592.4 404.3L588.4 404.1ZM517.2 420L516 421L515.8 422L516.4 423.1L518.4 423.2L519.5 422L519.4 421L518.4 420ZM541.8 422L540.4 424L541 429L543.4 433.9L545.4 434.8L546.4 434.1L546.7 433L546.3 427L544.4 422.7L543.4 422ZM670.6 427L665.4 429.2L663.4 431L661.6 434L658.9 444L656.8 456L657.5 459L663.8 472L670.4 478.5L673.4 479.6L676.4 477.1L681.5 469L682.8 465L684.9 453L686.9 449L692.4 441.7L693.6 438L693.7 435L692.4 431L689.4 428.6L677.4 426.6ZM646.1 430L643.7 432L643 435L643.7 438L644.6 439L646.4 439.5L648.8 438L649.8 436L649.9 434L649.5 432L648.4 430.6ZM386.8 438L385.6 441L385.9 444L386.8 446L389 448L393.4 449.9L397.4 450.6L400.4 450L402.9 448L403.6 446L403.5 445L401.4 442.8L390.4 437.3L388.4 437.1ZM552.6 442L551.7 443L551.3 445L552.4 450.2L553.5 452L555.4 453.6L558.4 453.5L559.9 452L560.6 450L560.5 447L559.8 445L558.4 443.2L556.4 442L554.4 441.6ZM489.8 445L487.4 446.6L485.4 448.8L482.4 454L482.7 458L484.2 460L486.4 461L489.4 461.2L492.4 460L494.1 458L494.9 456L495 452L493.6 447L491.7 445ZM526.1 458L521.4 463.6L516.4 468.3L515.4 470.2L514.8 473L515.4 478.9L517.4 483.7L520.4 486.6L523.4 487.6L527.1 487L529.4 485.1L535.8 474L536.9 471L536.3 467L531.4 459.1L528.4 457.2ZM402.2 477L399.8 479L397.8 482L395.6 487L394.7 491L394.4 496L395 500L396.4 503.2L398.4 504.4L402.4 502.9L406.9 499L409 495L410.4 489L410.5 483L408.9 479L407.4 477.5L405.4 476.6Z"/>
<path fill="#f5f0e2" d="M383.4 363L494.3 363L494.3 367L493.4 371L491.5 374L486.9 379L483.4 388.6L482.4 390L481.4 390.4L480.4 390.1L478.4 387.8L474.4 381L473.4 380.1L471.4 380L469.4 381.4L467.4 383.8L460.8 394L459.2 398L457.4 407L455.5 410L451.4 411.4L441.4 411.2L438.4 411.7L425.2 419L423 421L422 424L422.2 429L423.3 433L427.7 443L428.9 455L431.4 459.4L433.4 460.8L435.4 461.3L438.4 460.6L443.4 455.9L446.4 454.2L461.4 451.4L466.4 449.8L469.4 448L470.8 445L469.6 436L469.9 432L471 430L476.4 423.6L479.4 413.2L480.4 412.2L481.4 412.1L487.4 413.7L489.4 413.6L491.4 412.8L493.4 410.6L497.4 403.6L503.2 398L508.2 391L510.4 388.9L514.4 386.8L517.4 386.3L528.4 390L544.4 388.8L551.4 383.5L568.4 372L570.3 368L570.3 363L718.4 363L718.4 429.8L716.3 431L714.4 434L713.4 438L713.1 442L714.3 448L715.7 450L718.4 451.7L718.4 517L672.1 517L672.7 515L672.4 512.7L671.4 511.5L669.4 511L668.4 511.4L667.3 513L667.8 517L614.1 517L613.5 509L608.6 500L605.4 489.5L602.4 487.6L595.4 487L594.4 486.1L594.3 485L595.8 482L602.4 476.3L606.2 471L608.4 469.2L612.4 468.1L621.4 468.2L624.4 467.8L628.4 465L632 460L632.4 457L631.4 455.6L624.4 452.4L617.4 447.9L613.4 447L609.4 447.8L602.4 451.5L600.4 452L597.4 451.2L591.4 447.9L588.4 447.2L584.4 447.5L579.4 449.8L572.6 454L570.2 457L570.4 459L572.7 464L573.7 468L573.5 472L572.4 473.9L570.4 475L568.4 475.3L558.4 474L556.4 474.4L555.1 476L552.4 483.5L550.4 486.1L538.4 491.3L535.4 493.2L534.4 495L534 498L534.4 501.7L535.4 503.6L537.4 504.9L541.4 505.6L545.4 505.3L550.4 504L553.4 504.5L555.4 506.2L557.6 510L558.4 513L558.2 517L529.3 517L529.5 513L528.4 511.4L527.4 511.3L525.1 513L524.9 515L525.4 517L398 517L397.3 514L398.1 512L401.3 508L407.4 502L409.3 499L410.8 494L411.7 488L411.6 482L409.6 477L406.4 474.1L402.4 473.1L399.4 474L397.3 476L393.6 482L391.9 487L391.7 500L392.6 507L394.6 514L394.1 517L382.4 517L382.4 447.9L384.7 450L388.4 451.8L396.4 455L400.4 455.3L404.4 453.4L409.8 449L412.3 446L413.1 443L412.4 441L410.4 439.3L398.4 436.1L388.4 428.7L385.4 428.7L382.4 431.6L382.4 363ZM602.6 399L596.4 400.8L583.4 401.8L581.2 403L579.4 405L579 407L579.3 408L582.4 410.5L587.4 412L592.4 412L599.4 410.6L609.4 412.4L613.9 411L616.3 409L617.7 407L618.3 405L618.1 403L615.4 400.3L609.4 398.8ZM515.2 418L513.2 420L512.5 422L512.6 424L513.3 425L515.1 426L517.4 426.3L519.4 425.9L521.4 424.8L522.8 422L521.6 419L518.4 417.3ZM540.5 419L538.1 421L537.7 424L539.4 430L541.4 434.8L543.4 437.3L548.4 440.6L550.7 450L553.4 455.1L556.4 457.2L558.4 457.3L560.4 456.7L562.5 455L563.4 453L563.1 448L561.7 444L558.4 440.9L550.3 438L549.3 436L547.5 426L546.3 422L545.4 420.5L543.4 419ZM671.5 425L664.4 427.8L660.8 432L654.4 452L653.4 458L654.3 461L657.7 466L662 474L670.4 483.1L673.4 484.9L675.4 484.3L676.4 483.3L683.9 471L685.3 467L686.4 458L687.4 454.5L689.5 451L694.9 446L696.4 444L697.7 440L698 435L697.5 431L696.5 428L695 426L693.4 425L675.4 424.6ZM646.2 428L644.4 428.8L642.6 431L641.5 436L642.5 440L644.4 441.7L646.4 442L648.4 441.4L650.2 440L651.3 438L651.8 435L651.4 432L650.4 429.8L648.4 428.2ZM489.4 442L486.4 444.7L482.8 449L480.1 454L480.2 457L481.6 460L483.4 461.7L486.4 462.7L490.4 462.6L493.4 461.3L495.6 459L496.7 456L496.5 450L494.9 443L494.3 442L492.4 441.1ZM526.8 455L524.4 456.8L520.4 462.3L515.1 467L514 469L513.3 472L513.7 479L515.7 485L518.4 488.5L522.4 490L527.4 489.8L530.4 488.3L534.2 480L538.1 474L538.9 471L537.9 466L532.4 457.1L529.4 454.8Z"/>
<path fill="#e3f0ef" d="M404.4 363L414.2 363L413.4 379L414.1 386L415.2 388L420.4 392.5L424.4 399.7L429.5 403L431.4 405L432 407L431.6 409L430.2 411L428.4 412.3L425.4 412.8L422.5 411L419.4 405.6L413.6 400L410.4 392.3L405.4 388.4L403.6 386L402.8 383L402.5 378L403.7 363ZM431.4 363L438.3 363L438.6 368L440.9 373L443.4 375.4L449.1 378L449.5 381L448.3 386L446.5 389L444.4 390.6L440.4 391.5L437.4 390.9L433.6 388L431 384L430.1 381L429.8 377L430.6 363ZM451.4 363L469 363L469.1 367L468 371L465.4 375.7L462.4 378.8L460.4 379.5L458.4 379.3L450.8 377L450.4 375L450.5 363ZM487.4 363L489.6 363L489.8 364L489.6 367L488.4 368.3L487.4 368L486.5 366L486.8 363ZM576.4 363L589.1 363L589 367L585.5 377L585.5 382L586.4 384L588.4 386L596 390L597.5 393L596.3 396L593.4 397.8L583.4 398.4L579.4 400.2L576.2 403L574.8 405L574.8 408L578.2 411L585.4 413.3L591.4 413.8L599.4 413L608.4 414.3L612.4 413.7L616.5 412L626.5 406L629.2 403L630.4 398L630.6 381L631.7 376L634.9 368L635.1 363L653.4 363L652.1 379L652.8 385L655.4 391.9L659.4 400.1L662.4 403.8L665.4 405.1L667.4 404.5L668.6 402L668.3 390L669.7 363L689.5 363L689.2 374L687.9 382L685.9 386L680.2 392L679 395L678.7 398L679.1 401L680.2 403L685.4 407.2L688.3 411L689.6 415L689.1 419L687.4 421L684.4 422.3L673.4 422.5L664.4 425.6L660.4 429L655.4 437.5L654.4 436.3L653.2 431L651.4 427.7L648.4 426.1L645.4 426.5L643.1 428L641.4 430.5L640.3 434L640 438L640.8 442L642.4 443.9L645.4 444.6L652.5 444L652.5 448L649.3 459L649.3 461L650.1 463L655.4 468.2L659.6 476L665.4 481.9L669.4 487.5L671.4 489.4L676.4 491.9L677.3 493L678.4 501.3L679.3 503L682.4 503.3L690.4 502.9L692.4 503.4L694.6 505L696.8 510L697.1 517L678.1 517L677.9 507L677.4 504.6L676.4 504L664.4 501.1L662 502L660.3 505L659.3 510L659.2 517L641.6 517L641.6 489L641.2 484L639.4 480L633.4 475L632.1 472L633.5 468L637.9 463L639.5 460L639.3 455L637.4 450.5L635.4 449.2L629.4 448.9L626.4 448.2L619.4 443.3L616.4 442.4L613.4 442.3L610.4 443L603.4 447.1L600.4 448.1L596.8 447L590.4 442.6L586.4 441.5L583.4 441.8L581.4 442.6L575.9 447L572.4 448.9L568.4 449.3L566.4 447.6L563.9 443L562.2 441L559.4 439.4L553.4 437.2L551.9 436L550.3 433L547.8 422L546.5 419L544.4 417L541.4 416.3L538.1 417L535.7 419L534.8 421L535 424L540.4 437L541.9 439L545.9 442L547.4 444.2L550.4 453.6L554.7 462L554.8 465L552.4 471L550.5 479L549 482L546.7 484L543.1 486L537.4 487.9L535.4 487L535 484L536 481L540.4 474L540.8 469L538.8 464L532.4 453.6L529.4 452.3L525.4 453.2L523.4 455L519.4 460.8L513 466L511.8 470L511.8 477L513 484L514.9 489L516.4 491.1L518.4 492.4L528.4 493.6L529.7 495L530.2 497L530.1 500L528.9 503L522.4 507.7L520 511L519.2 514L519.4 517L418.9 517L419.3 513L418.4 511.3L416.4 510.5L415.4 511L414.5 513L414.8 517L402.9 517L402.5 514L403.3 511L405.4 508L409.4 504L410.8 501L413 486L412.7 481L411 476L408.4 472.5L403.3 468L401.2 465L401.1 464L401.8 462L405.4 458L413.4 452.4L420.4 448.6L422.4 448.4L424.4 450.4L427.1 457L429.3 460L433.4 462.8L437.4 463.2L440 462L444.4 457.6L447.1 456L458.4 454L472.1 450L473.4 449L473.9 447L471.6 438L471.4 434L472.8 431L477.4 425.2L480.6 417L482.4 415.4L489.4 415.1L492.4 413.7L498.4 404.2L504 399L510.4 391.7L513.4 390.1L517.4 389.5L527.4 392.6L536.4 392.3L545.4 394.2L548.4 393.7L562.4 381.5L565.4 380.4L572.4 379.9L574.4 378.5L575.4 376.8L576.1 374ZM556.2 403L555.6 404L556.4 405L557.6 404L557.5 403ZM515.1 416L512.4 418L510.3 421L509 425L509.1 427L511.4 428.1L517.4 428.3L521.4 427.4L523.8 426L525.2 424L525.5 422L524.9 420L523.5 418L519.4 415.6L517.4 415.4ZM502.1 429L499.4 430.8L494.4 436L487.4 440.5L477.7 451L477.4 454L478.4 458L480.1 461L482.4 463.1L486.4 464.3L491.4 463.9L495.5 462L498 459L499 455L498.4 447L498.9 443L500.4 440.6L505.1 437L506.6 432L506.6 430L506.1 429L504.4 428.6ZM450.4 403L451.4 403L452.1 404L451.4 405.9L450.4 406.1L449 405L449.2 404ZM693.4 453.8L695.4 454.1L696.4 455L697.4 457L697.9 460L697.7 467L695.6 483L694.2 486L691.4 488.5L687.4 489.8L682.4 489.7L681 489L680.4 487.9L680.3 485L680.9 482L682.4 478.9L687.9 471L689.4 458.5L691.3 455ZM383.4 455.7L386.4 455.2L391.6 457L395.4 460L397 462L397.6 464L396.5 467L392.4 473L389.4 476L387.4 476.9L385.4 476.6L382.4 473.1L382.4 456.4ZM716.4 456.7L718.4 456.2L718.4 475.3L716.5 474L715.4 472.2L713.7 466L713.9 460L714.8 458ZM562.4 461.7L564.4 461.5L566.4 462.1L569.7 465L571 469L570.5 471L569.4 472L566.4 472.6L563.4 472L561.6 471L559.8 469L558.6 466L558.9 464ZM614.4 473L620.4 474.7L622.2 476L623.5 478L624 481L623.4 485L621.4 488L619.4 489L616.4 489L615.2 488L611.3 477L611.2 475L611.7 474ZM384.4 490L385.4 490L386.9 492L387.8 498L387.4 503L386.6 506L385.4 508L384.4 508.1L382.4 505.5L382.4 491.9ZM550.4 509L552.4 509.4L554.4 511.4L555.1 514L554.7 517L535.8 517L535.6 513L537.4 510.7Z"/>
<path fill="#bbe5df" d="M640.4 363L649.5 363L649.3 368L647.8 378L648 383L655.1 402L658.4 408.6L661.4 411L671.4 413.4L674.4 413.6L678.4 412.6L680.4 412.6L682.4 413.8L683.3 416L682.5 418L681.4 418.6L673.4 418.8L661.4 424.1L656.4 427.5L653 425L650.4 424.1L647.4 424.1L644.4 425.1L642.1 427L640.4 429.6L637.5 441L635.4 443.4L632.4 443.8L629.4 442.9L627.6 441L625.4 436.9L623.4 435.7L608.4 436.5L600.4 438.4L591.4 435.8L578.4 435.9L574.4 436.6L568.4 439.5L556.4 436.8L553.4 435.2L551.4 432.4L547.4 416.5L545.4 414.8L540.4 413.9L536.4 414.6L531.4 418.4L529.4 419.3L520.4 414.1L517.4 413.7L514.4 414.5L511.4 416.6L506.4 422.3L499.4 426.6L493.4 433L486.5 438L480.4 444.2L478.4 444.5L477.4 444.1L474.5 440L473.5 437L473.7 434L478.4 427L481.2 420L482.4 418.3L484.4 417.2L490.4 416.5L493.1 415L499.4 404.8L510.4 394.3L514.4 392.5L518.4 392.6L527.4 395.3L537.4 395.5L545.4 398.7L548.7 401L551.9 409L554.4 410.2L557.4 409.8L564.4 406.7L566.4 406.4L568.4 407.2L574.9 412L580.8 414L588.4 415.1L599.4 415L608.4 416.1L612.4 415.6L620.4 413L629.5 411L633.4 408.3L635.1 405L635.3 402L634.3 390L634.5 385L635.5 381L639.6 372L640.3 368ZM676.4 363L685.7 363L685.5 370L684.5 375L682.4 378.9L680.4 379.9L678.4 379L676.8 375L675.9 367L675.9 363ZM458.4 364.8L458.4 365.8L457.8 365ZM569.4 388.9L572.4 388.2L576.4 388.4L579.3 390L580.3 392L579.8 394L577.3 397L574.4 399.2L571.4 400.5L569.4 400L568.4 398.7L567.5 396L567.4 391.6L568.1 390ZM529.4 425.8L531.4 425.9L534.4 428.5L536.4 432L539.4 440.3L545.5 445L547.3 449L550.2 459L550.7 462L550.4 464.9L547.4 475.7L545.4 478.9L542.4 480.7L541.9 480L543.6 473L542.9 468L541.1 464L537.4 458L535 452L533.4 450.1L531.4 449.6L528.4 449.9L523.4 451.5L521.9 453L518.4 458.9L516.4 460.3L513.4 460.6L512 459L512.1 455L514.8 447L514.2 445L511.4 441.1L510.6 439L510.4 436L511.3 433L514.2 431L524.4 428.8ZM466.4 453.9L470.4 453.5L473.4 454.2L479.6 463L481.4 464.5L484.4 465.6L489.4 465.7L493.8 465L502.4 460.5L505.4 461.6L508.6 464L509.5 467L510.1 482L512 494L512 497L510.7 500L501.1 511L499.9 514L500.4 517L485.8 517L486.7 497L486.4 492.2L484.4 491L476.4 490.5L472.4 491L469.4 492.8L458.4 505.3L456.3 510L456 517L422.6 517L422.7 513L421.5 509L419.4 506.8L414.6 504L413.6 502L413.2 497L414.1 486L414 481L412.4 475L407.9 466L408 463L409 461L411.4 458.7L414.4 456.9L417.4 455.9L420.4 455.7L423.4 457.1L428.7 462L431.4 463.8L435.4 465.2L438.4 465.2L441.4 464L445.4 459.8L448.4 458L456.4 456.6ZM684.4 511L687.4 510.2L689.4 511.1L690.7 514L690.3 517L683.4 517L683.2 513ZM408.4 513L408.4 515.1L407.7 514Z"/>
<path fill="#84cec3" d="M641.4 386.8L642.4 386.9L644.4 388.5L648.4 395.3L652.5 412L652.8 416L652.3 418L651 420L643.4 423.7L640.8 426L639 429L636.4 436.5L634.4 438.6L632.4 438.3L631.4 437.4L627.7 430L625.4 428.7L616.4 432L602.4 431.5L588.4 432.4L573.4 432L569.4 432.8L563.4 435.3L560.4 435.7L555.4 434.8L553.4 433.2L552.4 431.7L551.1 428L550.2 423L549.9 418L550.4 414.8L552.4 413.3L562.4 410.8L566.4 410.8L574.4 414.2L581.4 415.9L605.4 417.8L610.4 417.7L620.4 416.1L627.4 416.9L631.4 415.6L638.2 411L641.1 407L641.2 404L639.4 397L638.9 393L639.4 389L640.4 387.3ZM512.4 395.7L514.4 395.1L517.4 395.2L526.4 398.1L535.4 398.7L539.7 400L543.9 402L546.1 404L547.3 407L547.3 410L545.4 411.3L536.4 411.2L530.4 414.4L528.4 414.9L520.4 412.2L517.4 412.1L514.4 412.7L511.4 414.5L505.4 420L498.4 423.9L491.4 431.6L485.4 435L480.4 438.9L478.4 438.7L477.1 437L477 435L483.4 420.4L485.4 419.1L491.4 417.9L493.4 417L495.4 414.7L497.9 409L499.9 406L509.4 397.7ZM522.4 431.9L531.4 431.2L533.4 432.4L534.4 433.9L535.2 437L534.9 441L533.2 444L530.8 446L526.4 447.4L522.4 447.2L520.4 445.6L515.1 439L514.3 436L515.2 434L517.4 432.7ZM540.4 446.9L541.4 446.5L543.4 446.8L544.6 448L545.9 451L547.1 459L546.6 462L545.4 463.2L542.4 460.9L539.3 456L538.6 451L539.4 448.1ZM468.4 456L472.4 457L478.4 464.4L482.4 467L487.4 467.5L500.4 466.7L504.4 467.7L506.3 470L506.8 472L506.9 475L506.2 478L505.4 479.3L504.4 479.5L500.4 477.8L498.4 477.9L481.4 485.1L470.4 485.4L466.4 486.8L453.4 501.1L452 506L451.8 517L425.6 517L425.6 512L424.2 507L422.4 504.7L416.6 501L415.1 498L414.8 494L415.3 481L412.3 467L413.4 463.5L416.4 461.2L420.4 460.4L423.4 461.3L433.4 466.5L437.4 467.4L441.4 467.5L444.4 466.6L449.4 461.7L456.4 459.7L463.4 456.9ZM502.4 488.7L504.4 489L505.4 491L505.6 494L504.8 497L503 500L500.4 502.6L497.4 503.9L495.4 503.6L493.9 502L493.3 500L493.5 497L494.2 495L497.4 491.4Z"/>
<path fill="#4ca79e" d="M515.4 398L519.4 398.9L530.1 403L532.6 405L532.4 407L530 410L527.4 411.1L518.4 410.1L513.4 411.1L510.4 412.9L504.4 417.9L501.4 419.2L496.4 420.1L493.4 426L490.4 429.1L487.4 430.4L484.4 429.8L483.6 428L483.6 426L485.3 422L488.4 420.6L495.4 419.9L496.4 418.5L498.4 411L500.8 407L511.4 398.9ZM558.4 413.9L564.4 413.3L577.4 417.2L594.4 418.6L603.4 420.2L618.4 419.3L621.4 420.8L622 423L621.2 425L619.4 426.8L615.4 428.5L611.4 428.6L602.4 427.4L589.4 429.8L572.4 428.9L568.4 429.8L561.4 433.4L557.4 433.7L554.4 432.2L552.9 430L551.7 426L551.3 421L551.7 418L553 416ZM643.4 413.8L645.4 413.7L646.4 414.4L647.1 416L646.6 418L639.5 424L635.4 431.6L634.4 432.3L633.4 432L632.4 430.5L631.4 427L631.4 424L632.2 422L635.4 418.7ZM521.4 436.3L524.4 436.3L528.4 437.6L529.3 439L528.4 441.7L526.4 442.9L523.9 442L520.5 438L520.5 437ZM467.4 458.9L469.4 459L471.4 459.7L478.2 467L481.4 469L493.4 470L494.9 471L495.3 472L494.8 474L491.1 477L480.4 480.8L475.4 481.1L470.4 479.8L467.4 476.9L462.8 464L463.5 461L465.4 459.6ZM420.4 464.7L425.4 465.3L445.4 473.5L451.4 475.1L454.4 477L456.6 480L457.7 483L456.9 487L454.8 490L448.4 495.9L447 499L446.8 502L448 512L448.1 517L431.5 517L431.9 513L427.2 502L425.4 500.4L419.4 499.1L417.4 497.3L416.4 493L416.8 482L415.9 470L417.4 466.4Z"/>
<path fill="#1c7f77" d="M513.4 401.9L515.9 402L518.4 403L520.4 405L519.9 406L511.4 409.2L504.4 415.1L502.4 415.8L500.4 415.2L500 412L500.7 410L502.2 408L510.6 403ZM558.4 415.8L564.4 415.9L575.4 419.6L592.4 420.6L595.6 422L596.3 423L596.1 424L593.8 426L589.4 427.2L584.4 427L575.4 425.5L571.4 425.7L567.4 427.1L560.4 431.5L557.4 431.9L555.4 431.1L553.8 429L552.8 426L552.5 422L553.9 418L555.4 416.8ZM469.4 464.8L471.4 464.6L474.4 467.1L479.2 473L479.4 474L478.7 475L476.4 476L474.4 476L471.4 474.3L470 472L469.1 469L468.9 466ZM422.4 468.8L427.1 469L434.6 472L441.4 476.9L447.4 480L449.4 482L449.9 484L449.3 486L442.8 493L439.8 500L438.4 501.7L436.4 501.9L433.8 500L432.2 497L430.4 490.9L428.9 489L427.4 489L426.4 489.6L422.3 494L420.4 494.3L419.4 493.5L418.6 490L418.9 474L419.7 471Z"/>
<path fill="#005b52" d="M558.4 417.9L561.4 418L564 419L565.3 420L566.3 422L565.4 424L561.8 428L559.4 429.6L557.4 429.8L555.4 428.6L554.5 427L553.8 423L554.2 421L555.4 419.2Z"/>
<path fill="#003c30" d="M557.4 421L559.8 421L560.9 422L561.2 423L560.4 425.3L558.4 426.7L556.5 426L555.9 424L556.3 422Z"/>
<path fill="none" stroke="#222" stroke-width="0.7" stroke-linejoin="round" d="M376.44 361.08L376.44 366L373.52 372.15L370.77 381.99L369.86 388.14L370.32 393.06L369.4 403.64L370.13 409.05L371.69 412.74L373.24 416.43L374.43 421.35L375.8 424.3L378.54 428.98L381.74 427.01L385.4 426.27L387.69 424.3L389.51 424.3L390.88 429.22L393.17 428.73L394.27 431.19L394.08 437.34L393.9 442.26L396.19 450.87L396.64 454.56L397.56 461.94L397.92 466.86L396.37 473.75L396.19 481.62L397.74 490.23L398.66 495.15L399.11 506.22L400.48 510.16L401.4 516.06L401.85 520.98L402.31 524.67L403.68 525.9L408.25 524.67L411 520.98L413.28 516.06L413.74 513.35L415.02 509.91L415.29 503.76L416.02 502.04L417.85 498.35L417.67 492.69L417.12 488.51L418.77 486.05L421.51 480.39L422.52 475.47L422.42 465.63L421.51 459.48L421.24 454.56L421.69 449.64L423.34 443.98L425.17 438.57L427.45 433.65L429.74 426.27L431.11 418.89L432.3 410.77L429.28 412.25L425.62 414.22L424.98 410.77L424.43 407.82L421.97 401.18L421.05 396.75L419.59 390.6L419.22 385.68L417.94 381.01L416.94 375.84L416.02 372.15L415.11 366.25L414.93 362.31L412.82 362.31L408.25 361.08L403.68 361.08L394.54 348.78L380.83 351.24L376.44 361.08ZM705.54 361.08L705.54 366L702.62 372.15L699.87 381.99L698.96 388.14L699.42 393.06L698.5 403.64L699.23 409.05L700.79 412.74L702.34 416.43L703.53 421.35L704.9 424.3L707.64 428.98L710.84 427.01L714.5 426.27L716.79 424.3L718.61 424.3L719.98 429.22L722.27 428.73L723.37 431.19L723.18 437.34L723 442.26L725.29 450.87L725.74 454.56L726.66 461.94L727.02 466.86L725.47 473.75L725.29 481.62L726.84 490.23L727.76 495.15L728.21 506.22L729.58 510.16L730.5 516.06L730.95 520.98L731.41 524.67L732.78 525.9L737.35 524.67L740.1 520.98L742.38 516.06L742.84 513.35L744.12 509.91L744.39 503.76L745.12 502.04L746.95 498.35L746.77 492.69L746.22 488.51L747.87 486.05L750.61 480.39L751.62 475.47L751.52 465.63L750.61 459.48L750.34 454.56L750.79 449.64L752.44 443.98L754.27 438.57L756.55 433.65L758.84 426.27L760.21 418.89L761.4 410.77L758.38 412.25L754.72 414.22L754.08 410.77L753.53 407.82L751.07 401.18L750.15 396.75L748.69 390.6L748.32 385.68L747.04 381.01L746.04 375.84L745.12 372.15L744.21 366.25L744.03 362.31L741.92 362.31L737.35 361.08L732.78 361.08L723.64 348.78L709.93 351.24L705.54 361.08ZM416.94 362.31L416.94 367.23L417.4 370.92L418.77 375.84L420.14 380.76L421.24 386.91L422.42 393.06L423.79 397.98L424.43 402.9L424.98 408.56L426.54 408.31L429.28 405.36L432.48 402.41L433.12 401.18L435.68 397.98L437.23 395.52L438.24 393.06L438.88 389.37L440.07 384.45L439.15 381.74L437.51 380.76L436.87 378.55L436.96 375.35L436.59 375.35L436.14 377.07L434.76 380.27L432.94 380.76L432.48 378.3L432.57 375.84L431.57 375.35L431.11 373.38L429.74 369.69L429.28 366L430.01 366L431.38 367.97L432.02 370.92L433.85 373.87L435.5 374.61L436.78 373.13L437.78 376.33L441.62 377.81L443.91 377.56L446.19 377.32L446.92 379.53L447.75 381.5L448.48 383.71L449.39 384.45L448.48 386.17L449.39 388.14L450.49 388.88L451.68 386.91L451.77 385.19L451.95 388.14L451.95 393.06L452.41 397.98L452.87 401.67L453.51 406.59L453.96 410.28L454.88 415.2L455.33 418.15L456.25 419.87L456.89 417.91L457.62 416.92L458.44 414.46L458.35 410.28L458.72 406.59L458.62 402.41L459.45 399.7L460.64 398.96L461.73 396.01L463.1 392.32L464.48 390.6L464.93 386.91L466.3 386.17L467.67 385.68L468.59 384.45L469.32 385.19L469.78 388.88L470.42 390.6L471.33 394.29L471.79 399.21L472.25 400.93L473.16 399.21L474.07 398.47L474.62 400.44L474.99 404.13L475.45 406.59L475.54 410.28L475.45 413.97L475.26 417.66L475.26 420.12L476.54 423.81L477.09 427.5L477.55 431.19L478.19 432.91L479.1 434.88L480.02 436.6L480.66 436.36L480.02 432.42L479.92 428.73L479.19 425.04L478.19 423.07L477.27 421.84L476.82 417.66L476.09 413.97L476.36 410.28L476.82 406.84L477.73 408.56L479.1 410.28L479.56 412.74L480.93 413.97L481.2 418.64L482.76 416.43L483.67 413.97L485.04 411.51L485.32 407.82L485.04 402.9L484.13 399.95L483.22 397.98L482.3 394.29L482.03 391.83L482.76 389.37L483.67 386.91L484.59 386.42L485.68 386.91L486.32 389.86L486.42 387.65L487.79 386.17L489.16 385.19L489.8 384.7L491.44 383.47L492.81 381.25L494 378.3L494.73 375.84L495.1 372.64L496.01 369.69L496.93 366L496.47 363.54L496.75 361.08L496.01 358.62L495.1 353.7L440.25 341.4L416.94 362.31ZM430.47 469.32L431.29 475.47L431.47 477.93L430.93 481.62L430.47 484.08L429.74 490.23L428.82 497.61L428.37 501.3L426.72 502.53L425.62 501.3L424.98 495.15L425.35 491.46L426.08 487.77L425.62 482.85L426.08 479.65L427.91 477.93L428.82 475.47L429.28 473.01L430.47 469.32ZM458.35 420.12L458.53 425.04L459.08 425.29L460.18 422.58L459.9 419.38L458.99 415.69L458.44 417.66L458.35 420.12ZM484.77 394.29L485.5 395.03L486.42 393.8L486.87 391.34L486.42 390.35L485.5 390.6L484.77 392.57L484.77 394.29ZM495.19 383.22L495.74 385.68L496.01 385.19L496.47 381.99L496.93 378.3L496.47 377.56L495.74 379.53L495.19 383.22ZM495.1 400.44L495.56 394.29L496.47 394.04L497.2 394.78L497.11 397.98L496.75 401.67L497.39 404.87L498.48 405.85L498.94 408.8L498.03 408.07L496.93 406.1L495.83 405.85L495.65 404.13L495.1 400.44ZM496.93 422.58L498.3 420.61L498.94 419.38L500.13 415.94L501.04 418.89L500.77 423.81L500.13 425.78L499.21 424.55L498.57 421.84L496.93 422.58ZM496.84 410.77L497.66 414.22L498.3 416.92L499.21 415.2L499.95 412L499.67 409.05L498.76 409.54L497.84 411.51L496.84 410.77ZM492.54 419.38L493.73 416.43L494.83 412.74L494.46 412L493.27 415.2L492.54 419.38ZM485.04 436.11L485.59 434.88L486.87 436.11L487.33 433.16L488.7 431.93L490.07 428.73L490.89 426.76L491.9 423.81L492.63 423.07L493.73 426.27L494.37 427.25L493.27 429.22L492.81 432.42L493.27 437.34L494 437.34L492.81 439.8L492.36 442.26L491.9 445.95L491.44 449.15L490.07 448.41L488.7 447.67L487.33 447.18L486.14 446.69L485.96 443.49L485.04 439.8L485.04 436.11ZM472.52 426.02L474.53 427.01L475.45 429.96L476.82 433.65L478.19 435.62L479.56 438.57L480.2 442.26L480.93 444.72L482.12 447.18L482.3 450.87L482.12 454.07L480.93 454.31L480.02 452.1L478.92 449.64L478.01 446.69L477.09 442.26L476.09 438.57L475.45 435.37L474.53 433.65L473.62 431.19L472.52 426.02ZM481.57 456.53L482.3 454.56L483.67 455.05L484.59 456.28L486.42 455.79L487.33 456.28L488.43 457.02L490.07 458.99L489.98 461.2L488.24 460.22L485.96 459.48L484.13 458.74L482.76 457.76L481.57 456.53ZM490.71 459.97L491.9 460.22L494.19 460.22L495.56 460.22L497.39 459.97L497.84 460.71L496.01 461.69L494.19 461.45L492.36 461.94L490.99 461.45L490.71 459.97ZM498.76 464.4L500.13 462.43L501.77 460.46L500.58 461.94L499.21 464.89L498.76 464.4ZM494.64 453.33L494.55 448.41L494 445.95L494.64 441.03L495.1 438.32L496.01 436.6L497.84 437.34L499.21 436.11L499.85 436.11L499.03 438.82L497.84 438.57L496.47 438.57L495.28 438.82L495.74 443L496.56 442.26L498.12 441.77L497.11 444.72L497.39 450.87L496.47 450.87L496.01 446.69L495.56 447.18L495.47 453.33L494.64 453.33ZM501.96 434.39L502.41 437.34L503.14 438.57L502.41 439.8L502.87 441.77L502.14 441.03L501.96 437.83L501.96 434.39ZM502.41 447.67L504.24 447.18L504.97 449.15L503.33 448.66L502.41 447.67ZM500.58 447.67L501.5 447.67L501.5 449.15L500.58 448.9L500.58 447.67ZM505.16 442.26L506.53 441.03L507.9 441.77L508.81 447.92L511.1 443.49L513.38 445.7L516.13 447.92L518.59 451.61L520.24 455.05L520.51 459.48L522.52 465.14L520.7 464.89L519.33 461.45L517.04 458.99L515.76 462.68L514.3 462.19L512.47 459.73L511.55 457.02L512.01 454.56L510.64 452.1L508.81 450.62L507.44 449.64L506.25 446.69L505.16 443.49L505.16 442.26ZM521.15 453.33L522.52 452.1L523.9 450.87L524.63 450.13L524.17 453.33L522.52 455.05L521.15 453.33ZM528.47 456.53L529.38 458.25L531.21 460.71L532.4 463.17L533.04 465.14L532.12 463.91L530.3 460.22L528.47 456.53ZM490.53 513.6L490.53 518.52L490.53 525.9L504.24 525.9L525.27 525.9L525.27 516.06L525.36 513.6L525.82 510.65L525.45 507.45L525.27 501.79L523.44 497.61L523.26 495.15L522.07 494.66L521.43 489.74L519.05 485.31L518.41 480.39L518.23 476.7L516.77 474.24L516.58 470.55L515.67 466.12L515.21 466.86L514.85 471.78L514.75 479.16L514.11 482.85L512.47 482.11L510.64 479.16L509.27 476.21L509.73 472.52L510.64 470.55L510.18 469.32L508.81 470.06L506.98 469.07L506.53 468.09L505.16 469.81L504.52 471.78L503.78 476.45L503.33 476.7L501.96 474.24L500.58 474.24L499.21 477.93L498.3 481.62L497.11 484.08L496.01 487.77L494.19 489L492.17 490.48L489.8 493.43L489.43 496.38L489.07 500.07L489.62 504.99L490.44 511.14L490.53 513.6ZM535.32 489.49L536.24 490.97L538.07 494.41L537.61 494.9L535.78 491.46L535.32 489.49ZM547.48 482.85L548.58 482.36L548.58 484.57L547.66 484.57L547.48 482.85ZM571.98 390.85L572.8 392.32L572.8 390.85L571.98 390.11L571.98 390.85ZM604.8 353.7L607.09 358.62L608.46 364.77L609.37 367.23L610.28 370.92L611.2 373.87L612.11 378.3L613.94 383.22L614.4 382.73L613.48 380.02L612.57 375.84L611.38 370.92L609.83 366L609.65 362.31L611.2 363.05L612.57 369.69L613.94 372.64L614.86 376.33L615.77 378.3L617.14 381.99L618.06 385.68L618.15 389.37L617.87 390.6L618.97 392.57L619.88 394.78L621.25 395.77L623.08 397.98L624.91 400.19L626.28 401.18L627.65 399.95L628.57 399.95L629.94 402.9L630.85 405.36L632.41 406.59L634.05 407.33L634.69 408.07L635.42 410.28L636.16 412.74L636.16 415.2L636.8 415.94L637.07 416.43L638.08 419.14L639.54 419.63L640.91 421.84L641.37 421.35L641.82 418.15L642.74 419.38L643.19 421.35L643.74 423.32L643.74 429.96L643.83 433.65L642.56 436.11L641.37 437.83L640.91 441.03L641.28 446.2L640.45 450.87L640.27 454.07L641.37 457.02L642.46 460.71L643.65 466.86L644.84 473.01L645.94 477.68L647.77 480.39L649.14 482.85L650.23 485.31L650.42 491.46L650.05 497.61L649.96 503.76L649.32 509.91L649.05 513.6L649.05 518.52L648.68 525.9L663.31 525.9L666.05 522.21L667.88 516.06L668.52 513.6L669.71 509.91L670.16 503.76L670.62 502.04L671.99 498.84L673.36 497.61L675.01 496.38L676.11 496.13L677.02 493.43L677.75 489L678.21 486.54L678.66 482.85L678.85 476.7L679.3 471.78L680.22 468.09L681.59 464.4L682.5 459.48L682.69 457.02L682.23 453.33L680.68 451.61L679.3 448.9L677.48 446.69L675.65 446.2L674 445.95L673.36 443.49L671.08 441.28L670.16 442.75L669.25 440.29L668.33 437.34L667.69 429.96L666.51 427.01L665.13 425.53L663.31 425.29L661.94 425.04L661.02 422.58L659.65 419.38L658.28 416.18L657.36 413.72L655.99 413.72L654.16 413.72L652.34 413.97L650.97 411.51L649.59 412.74L649.14 415.2L649.41 417.66L648.86 416.43L648.68 412.74L648.22 410.77L647.31 412L646.39 412.74L645.48 414.22L645.02 416.68L644.29 418.64L643.74 418.4L642.74 416.68L641.73 416.18L640.45 417.91L639.36 417.17L638.62 415.2L638.08 412.99L637.98 409.05L638.26 404.62L637.71 402.9L636.34 400.69L634.51 400.93L633.78 401.18L633.32 400.44L633.87 396.75L634.33 393.06L634.51 389.86L635.15 387.4L634.05 386.91L631.95 388.14L631.77 391.09L630.85 394.29L629.48 394.54L628.11 395.03L626.92 393.8L626.28 391.83L625.64 389.12L625.37 385.68L625.09 380.76L625.46 376.33L625.55 372.15L626.28 370.18L627.84 367.48L629.21 366.49L631.31 367.72L632.68 366.98L633.14 365.26L635.88 365.02L637.44 366L638.62 368.46L638.99 372.15L639.81 376.09L640.54 377.81L641.18 375.84L641.37 373.38L640.82 369.69L640.18 364.77L640.45 361.08L644.11 353.7L604.8 353.7ZM636.8 386.17L638.17 385.19L639.54 382.97L641.37 382.97L643.19 384.94L645.02 387.89L646.67 390.11L645.94 390.85L643.65 390.85L643.38 388.88L642.28 386.66L640 386.17L638.62 386.91L636.8 386.17ZM646.39 394.54L647.95 390.85L650.51 391.34L652.06 394.04L651.7 395.03L649.59 395.03L648.22 395.03L646.49 395.03L646.39 394.54ZM642.92 394.78L644.75 395.03L644.29 395.77L643.01 395.27L642.92 394.78ZM653.07 394.54L654.53 394.54L654.44 395.52L653.07 395.52L653.07 394.54Z"/>
<path fill="none" stroke="#000" stroke-width="0.6" d="M412.09 447.92L412.37 452.1L413.28 458.25L413.74 461.2L413.37 460.71L412.55 455.79L412 450.87L412.09 447.92ZM416.76 463.17L417.12 466.86L416.94 470.55L417.67 474.98L417.21 471.78L416.76 466.86L416.76 463.17ZM414.47 440.54L416.02 439.06L416.48 441.03L416.3 445.95L415.11 445.95L414.38 443.49L414.47 440.54Z"/>
<path fill="none" stroke="#000" stroke-width="2.2" stroke-linecap="round" stroke-dasharray="0 3.655" d="M498.4 375.9H524.0M531.3 375.9H560.6M633.7 375.9H637.4M648.3 375.9H655.6M677.5 375.9H692.2M388.8 385.7H399.8M498.4 385.7H505.8M513.1 385.7H520.4M578.9 385.7H578.9M589.8 385.7H589.8M608.1 385.7H608.1M673.9 385.7H688.5M703.1 385.7H703.1M388.8 395.4H392.5M418.0 395.4H425.4M483.8 395.4H553.3M604.4 395.4H604.5M630.0 395.4H714.1M388.8 405.2H396.1M421.7 405.2H425.4M432.7 405.2H487.5M502.1 405.2H564.2M567.9 405.2H582.5M593.5 405.2H619.1M630.0 405.2H688.5M407.1 414.9H443.6M450.9 414.9H480.2M494.8 414.9H619.1M626.4 414.9H655.6M662.9 414.9H677.6M388.8 424.7H472.9M491.1 424.7H681.2M392.5 434.5H652.0M655.6 434.5H699.5M385.1 444.2H604.5M619.1 444.2H644.7M652.0 444.2H714.1M385.1 454.0H556.9M564.2 454.0H648.3M652.0 454.0H714.1M385.1 463.7H564.2M575.2 463.7H637.4M641.0 463.7H714.1M385.1 473.5H615.4M633.7 473.5H652.0M659.3 473.5H714.1M385.1 483.3H615.4M622.7 483.3H648.3M659.3 483.3H714.1M385.1 493.0H619.1M630.0 493.0H655.6M662.9 493.0H714.1M392.5 502.8H619.1M630.0 502.8H662.9M670.2 502.8H714.1"/>
</g>
<rect x="385.4" y="366" width="329.1" height="147.6" fill="none" stroke="#000" stroke-width="1.7"/>
<text x="459.2" y="358.6" class="lb" textLength="17.6" lengthAdjust="spacingAndGlyphs">(f)</text>
<text x="484.3" y="361.1" class="ttl" textLength="159.4" lengthAdjust="spacingAndGlyphs">AMIP Pr Trend 98-14</text>
<clipPath id="clipg"><rect x="385.4" y="539" width="329.1" height="147.3"/></clipPath>
<g clip-path="url(#clipg)">
<rect x="385.4" y="539" width="329.1" height="147.3" fill="#f5f0e2"/>
<rect x="384.4" y="538.0" width="331.1" height="149.3" fill="#7d4808"/>
<path fill="#a76a1c" d="M383.4 536L718.4 536L718.4 690L566.6 690L566.4 675L564.4 674.5L561.4 674.5L560.3 675L560.2 690L382.4 690L382.4 536ZM413.2 663L413 673L414.4 674L420.4 673.9L421.3 673L421.4 672L421.1 663Z"/>
<path fill="#c99546" d="M383.4 536L718.4 536L718.4 613L716.4 613.1L715.8 614L715.8 616L715.9 623L718.4 623.4L718.4 690L686.9 690L686.9 676L685.9 660L685.8 651L685.4 649.6L679.4 649.5L678.2 649L677.9 638L677.4 637.5L670.4 637.7L669.5 639L669.4 647L669.8 673L670.4 674.4L676.4 674.5L677.6 675L677.9 690L567.1 690L566.7 663L566.4 661.8L564.4 661.5L561.4 661.5L560.3 662L560.1 673L559.6 676L559.6 690L540.9 690L540.9 676L541.4 674.8L542.4 674.5L548.4 674.2L548.7 664L548.4 662.9L541.4 662.7L540.4 661.9L539.6 660L539.6 651L539.4 650.6L537.4 650.4L533.4 650.4L532 651L532.4 672L533.1 676L533.1 690L494.9 690L495.2 675L502.6 674L502.7 663L502.4 661.7L500.4 661.5L496.4 661.6L494.4 662.6L487.3 663L487.2 690L382.4 690L382.4 536ZM478.2 565L478.4 575.2L484.4 575.4L485.4 573L485.2 565ZM606.2 577L606.3 587L612.4 587.1L612.6 577ZM514.3 590L514.4 599L539.4 599.3L543.4 600.5L547.4 600.5L548.5 600L548.4 589.8L525.4 589ZM459.2 602L459 623L460.4 624.4L462.4 624.5L475.4 623.9L476.7 623L476.7 614L475.4 613.1L468.4 612.8L467.6 612L467.4 603L467 602ZM679.2 602L679 612L677.4 613.6L670.2 614L670.1 623L670.4 624.3L676.4 624.5L677.6 625L677.9 637L678.4 637.5L685.4 637.4L686.3 636L686.6 625L687.4 624.2L694.4 623.9L695.8 623L695.9 613L695.4 612.5L688.4 612.5L687.2 612L686.8 602L686.4 601.5L685.4 601L680.4 601L679.4 601.3ZM696 602L695.9 612L696.4 612.5L703.4 612.4L704.3 611L704.3 602L703.4 601.1L701.4 601L697.4 601ZM386.8 614L386.9 623L389.4 623.4L394.3 623L394.3 614L393.4 613.1L391.4 613L387.4 613.1ZM440 614L440.1 623L448.6 623L448.9 615L448.4 613.4L441.4 613.1ZM487.3 626L487.2 637L486.4 640L486.7 648L494.2 648L494.4 639L495.4 637.2L511.4 637.3L511.4 625.9L497.4 625L494.4 625.7ZM578.2 639L578.4 660.7L586.4 661.2L587.4 663L587.5 673L588.4 673.9L594.4 673.9L595.3 673L595.4 672L594.7 650L587.2 649L586.9 640L586.4 638.7L579.4 638.4ZM404.9 663L404.8 673L405.4 674.4L419.4 675L420.4 674.9L422.3 673L422.4 663L421.4 662.4L414.4 662.3Z"/>
<path fill="#e0c481" d="M383.4 536L718.4 536L718.4 612L715.4 612.3L714.9 616L714.9 623L715.5 624L718.4 624.2L718.4 690L695.4 690L695.3 676L694.4 674.6L688.4 674.4L687.4 673L687.4 663L686.7 660L686.4 641L686.4 639L687.4 636L687.5 626L688.4 625.1L694.4 625L697.4 624L703.4 623.9L704.3 623L704.4 614L705.4 611L705.3 602L703.4 600.1L701.4 600L693.4 600.5L679.4 600.1L678.4 602L678.2 612L677.4 612.8L670.4 613L669.4 613.8L669.3 623L670.1 626L670.1 635L669.8 637L668.5 639L668.4 640L668.9 651L668.9 690L567.5 690L566.7 640L566.4 638.9L564.4 638.8L560.4 638.9L560.1 640L559.2 690L548.7 690L549.3 663L548.4 662.2L541.4 661.9L540.5 661L540.2 651L539.4 649.6L537.4 649.5L515.4 650L514.4 650.1L514 651L514 659L514.4 660.3L522.4 660.4L524.4 661.4L530.4 661.6L530.9 662L531.4 663L531.5 673L532.4 676L532.4 690L503.9 690L503.9 677L502.8 651L502.4 649.6L500.4 649.5L496.4 649.6L496.2 650L496 660L495.6 661L494.4 661.9L487.4 662.1L486.7 663L486.6 690L420.7 690L420.7 677L421.2 675L423.4 673.3L429.6 673L429.5 651L427.4 650.8L423.2 651L423.1 660L422.4 661.5L405.4 662L403.9 663L403.9 673L404.8 677L404.8 690L382.4 690L382.4 536ZM478.3 564L477.6 565L477.6 573L478.2 577L478.3 588L479.4 588.5L484.4 588.3L484.8 577L486.3 574L486.4 565L485.4 564ZM633.2 564L633.2 575L640.6 576L641.1 587L650.2 587L650 565L649.4 563.6L634.4 563.5ZM605.5 577L605.5 587L606.4 587.7L612.4 587.7L613.3 587L613.4 586L613.3 577L612.4 576.2L610.4 576.2L606.4 576.2ZM525.4 588L521.4 588.9L514.3 589L513.7 590L513.8 599L515.4 599.6L540.4 600.1L542 602L542.4 612.3L549.4 612.5L549.9 612L549.3 590L548.5 589ZM450 601L449 602L448.9 611L448.4 611.6L441.4 612L438.4 613.3L432.4 613.4L431 614L431.1 623L432.4 623.6L441.4 623.8L451.4 623.3L458.4 623.6L460.1 626L460.2 636L462.4 636.2L467.6 636L468 626L468.4 625.5L469.4 625L475.4 624.9L478.4 623.2L484.6 623L484.6 614L478.4 613.7L475.4 612.1L469.4 611.9L468.5 611L468.2 602L466.4 601.4L459.4 601.3L456.4 600.5L451.4 600.5ZM388.3 612L386.4 612.3L386 613L385.9 622L386.4 623.9L395.2 624L395 613L393.4 612ZM549.9 613L550.2 623L557.7 623L557.8 614L557.4 612.7L550.4 612.5ZM497.6 624L493.4 625.1L487.4 625.2L486.7 626L486.7 636L485.4 640L485.5 648L487.4 649L494.4 648.9L495.4 648L495.5 639L496.4 638.1L498.4 638L502.4 638L503.8 639L504 648L507.4 648.4L512.3 648L512.2 626L511.4 625.2L505.4 625.1L502.4 624.1ZM395.9 625L396.1 637L398.4 637.5L402.4 637.5L403.4 637L403.9 634L403.9 626L403.4 625L400.4 624.5L396.4 624.5ZM642.1 626L642.1 636L649.4 636.2L649.6 626ZM578 638L577.6 640L577.8 661L578.4 661.9L585.4 662.1L586.3 663L586.5 673L587.4 674.2L589.4 675L594.4 675L595.4 674.5L596.4 673L596.4 664L595.9 651L595.1 648L595 639L594.4 638.1L585.4 637.5L579.4 637.5ZM652.2 639L652.4 648.3L658.4 648.4L659.8 648L659.6 639Z"/>
<path fill="#f2e2b8" d="M383.4 536L430.9 536L431 550L432.4 551L434.4 551L438.4 550.9L439.3 550L439.4 536L514 536L513.8 562L514.4 562.6L516.4 562.6L521.4 562.6L522.8 562L522.9 553L522 550L522 536L718.4 536L718.4 601.4L707.4 601.4L705.4 600.8L704.1 599L704 590L703.4 589.1L679.4 589.2L679.1 599L678.1 602L677.8 612L676.4 612.6L669.4 612.8L668.9 614L669.2 637L667.4 638.6L653.4 638L652.4 638.1L651.5 639L651.5 648L652.1 649L667.4 649.6L668 651L668 673L667.4 674.4L661.4 674.6L661 675L660.8 690L595.4 690L595.4 676L595.9 675L597.4 674L603.4 673.9L604.3 673L604.4 663L603.4 661.6L598.4 661.5L597.1 661L596.7 651L595.9 648L595.9 639L595.4 637.5L594.4 637L583.4 636.6L578.4 636.8L577.4 637.9L577.2 639L577.2 660L577.9 663L578 672L578.4 673.3L585.4 673.4L587.5 675L588.1 677L588.1 690L567.8 690L567.4 640L567.3 639L566.4 638.3L564.4 638.3L560.4 638.3L559.4 639L558.9 690L549.5 690L549.4 662.3L548.4 661.8L542.4 661.8L540.9 661L540.4 649.8L539.4 648.8L533.4 648.6L532 648L531.6 639L523.2 639L522.8 648L522.4 648.5L521.4 649L514.4 649L513.4 648L512.6 626L511.4 624.8L505.4 624.8L503.4 624L502.8 623L502.6 614L500.4 613.7L496.2 614L496 623L495.4 624L493.4 624.8L487.4 624.8L486.4 625.5L486.3 636L485.4 638.1L484.4 638.7L478.2 639L478.4 648.1L484.4 648.2L487.4 649.3L494.4 649.4L495.1 650L495.3 651L495 661L493.4 661.7L487.4 661.7L486.3 663L486.2 690L421.4 690L421.7 675L423.4 674L429.4 673.9L430.3 673L430.2 651L429.4 650.2L427.4 650.2L423.4 650.2L422.5 651L422.4 660L422.1 661L421.4 661.5L403.2 662L403 672L403.9 676L403.9 690L382.4 690L382.4 612.5L384.8 613L385.1 623L385.6 624L387.4 624.7L394.4 625L394.9 626L394.9 636L395.8 640L395.4 660L396.4 661.4L402.4 661.5L402.8 661L402.9 651L403.8 648L403.9 639L404.4 638L405.4 637.5L411.4 637.3L411.8 635L411.6 625L404.4 624L403.9 623L403.8 614L403.2 613L402.4 612.6L396.4 612.4L395.4 611.8L394.9 610L394.8 602L393.4 601.4L382.4 601.4L382.4 536ZM495.6 552L495 553L494.9 562L494.4 563.2L478.4 563.5L477.4 564.1L477.2 574L478.4 599.2L484.7 599L485.5 577L486.4 575.1L487.4 574.5L503.8 574L503.9 565L503 562L502.7 552L500.4 551.5L496.4 551.6ZM632.9 553L632.2 573L632.9 577L633 587L642.4 588L650.4 587.9L651.4 587L651.4 578L650.9 565L650.1 562L650 553L649.4 552.4L647.4 552.4ZM505.2 576L505.2 587L511.9 587L511.7 576L509.4 575.5L505.4 575.6ZM605.7 576L605.1 578L605.4 587.6L606.4 588.1L612.8 588L613.7 587L613.4 576.2L612.4 575.8ZM523.9 577L523.8 586L523 588L521.4 588.5L514.4 588.5L513.5 589L513.4 599.2L515.4 600L540.4 600.6L541.3 602L541.3 611L542.1 614L542.4 623.5L556.4 623.7L558.4 623.2L558.6 614L557.9 611L557.8 602L551.4 601.5L550.4 601L549.7 599L549.5 589L548.4 588.5L542.4 588.5L539.4 587.7L532.4 587.3L531.9 586L531.8 577L528.4 576.4L524.4 576.5ZM577.9 577L577.8 611L578.4 611.9L579.4 612L585.4 611.9L586 610L586 577L585.4 576.4L583.4 576.4L578.4 576.5ZM450.1 590L449.7 600L447.4 601.6L440.6 602L440.4 611L439.4 612.2L423.4 613.5L423 615L423 623L429.4 623.5L432.4 624.5L458.4 624.2L459.4 626L459.5 636L460.4 636.8L475.4 636.2L475.7 626L477.4 624.1L484.4 623.8L485.3 623L485.3 614L484.4 613.1L478.4 613L476.4 612L475.8 611L475.4 601.8L459.4 600.9L458 600L457.6 599L457.4 589.6L451.4 589.4ZM660.8 602L660.9 611L662.4 611.6L667.4 611.5L667.8 610L667.8 602L667.4 601.5L665.4 601.4L661.4 601.4ZM642.1 625L641.2 626L641.4 636.4L642.4 637L649.4 636.9L650.3 636L650.3 626L649.4 624.9ZM706.4 612.6L713.4 612.6L714 614L714.1 623L715.4 624.6L718.4 624.8L718.4 690L696.4 690L696.4 676L695.4 673L695.3 663L694.4 662.1L688.4 661.9L687.4 661.2L687.2 660L687.5 639L688.4 637.6L694.4 637.5L695.4 637L695.9 636L695.9 627L696.4 625.6L697.4 625.1L703.4 625L705 624L705.5 614ZM504.4 649.4L512.4 649.3L513.1 650L513.4 660.5L514.4 661.1L522.4 661.2L523.4 662L523.9 663L524 673L530.4 673.5L531.9 675L532.1 690L511.7 690L511.7 676L510.4 675.4L505.4 675.3L504 674L503.7 651Z"/>
<path fill="#f5f0e2" d="M383.4 536L421.9 536L421.9 550L422.4 551.2L438.4 552L439.4 552.2L439.9 553L439.9 574L440.4 575.2L443.4 575.5L447.4 575.5L448.4 575L448.9 574L448.4 553L447.4 551.6L441.4 551.5L440.6 551L440.4 536L495.4 536L495 551L493.4 552L487.4 552.1L486.5 553L486.4 562L485.4 563L478.4 563.1L477 564L477.4 599L478.2 600L480.4 600.1L484.4 600.1L485.6 599L485.9 577L486.4 575.7L487.4 575.3L503.4 575.2L504.2 576L504.3 577L504.4 587.2L505.4 588L511.4 588L512.4 587.9L512.9 587L512.4 565L511.4 564L505.4 564L504.1 563L503.9 553L503.1 550L503 536L513.2 536L512.9 562L513.4 563.4L516.4 563.5L530.4 562.9L531.3 562L531.3 553L530.4 552.1L524.4 552L523.1 551L522.9 536L595.9 536L595.9 550L597.4 551L599.4 551L603.4 550.9L604.3 550L604.4 536L651.4 536L651.4 550L652.4 551L654.4 551L658.4 550.8L658.8 550L658.8 536L687.4 536L687.4 550L688.4 551.5L690.4 551.5L694.4 551.5L695.6 551L695.9 536L718.4 536L718.4 600.5L707.4 600.5L705.4 600L704.9 599L704.9 590L704.4 588.5L703.4 588L689.4 588.5L680.4 588L679.4 588L678.5 589L678.4 599L677.7 602L677.7 611L677.3 612L668.8 612L668.6 602L668.2 601L665.4 600.5L661.4 600.5L660 601L659.9 610L660.3 612L661.4 612.5L667.4 612.5L668.4 613L669.1 635L668.8 637L667.4 637.9L651.2 638L651.4 649.1L652.4 649.7L659.4 649.9L660.4 651L660.2 661L658.4 662L652.4 662.1L651.8 664L651.8 673L652.4 673.9L658.4 674L659.8 675L659.9 690L596.4 690L596.5 676L597.4 675.1L603.4 675L605.2 674L604.9 651L604.6 650L603.4 649.5L598.4 649.5L597.1 649L596.8 639L595.9 636L595.8 626L594.4 625L583.4 624.5L578.4 624.6L578.1 626L578 636L576.9 639L577.2 673L578.4 674.1L585.4 674.1L587 675L587.3 690L568 690L567.7 639L566.8 638L564.4 637.9L560.4 637.9L559 639L558.6 690L549.9 690L550 663L549.4 661.7L542.4 661.5L541.2 661L540.8 650L540 647L539.9 639L530.4 638.2L514.4 638.5L513 637L512.5 625L504 624L503.5 623L503.5 614L502.4 612.9L500.4 612.9L496.4 612.9L495.4 613.8L495.3 623L494.8 624L486.1 625L486 636L485.4 637.6L478.4 638.1L477.5 639L477.5 648L478.4 648.8L493.4 649.7L494.5 650L494.9 651L494.9 660L494.4 661L487.4 661.4L486.4 661.9L486 663L485.9 690L421.7 690L422.1 675L423.4 674.4L429.4 674.3L430.4 673.9L430.7 673L430.6 651L429.4 649.8L423.4 649.8L422.4 650.3L422 660L421.4 661.2L404 661L403.8 650L405.4 648.7L410.4 648.6L411.8 648L411.9 639L412.6 635L412 614L411.4 613.1L405.4 613L403.8 612L403.4 590L402.4 588.5L396.4 588.6L395.9 589L395.4 590L395.1 600L393.4 600.5L382.4 600.5L382.4 536ZM632.9 552L631.9 553L631.7 565L632.4 587.6L633.4 588.2L649.4 588.3L651.4 588.8L651.9 590L652 599L652.4 599.8L658.4 600L659.4 599L659.4 577L658.4 575.5L653.4 575.5L652.1 575L651.7 565L650.9 562L650.8 552L647.4 551.5ZM588 564L587.5 565L587.4 574L588.4 575L594.4 574.9L595 573L594.7 564L592.4 563.5L588.4 563.6ZM669 565L669.6 587L677.4 587.2L677.9 586L677.9 565L676.4 564L674.4 564L670.4 564ZM523.2 576L522.8 587L522.4 587.7L521.4 588.1L513.4 588.2L513 589L513.4 599.7L514.4 600.2L530.4 600.3L540.4 601L540.9 602L541.4 623L541.8 624L542.4 624.4L547.4 624.5L558.4 623.8L559.1 622L558.6 602L557.4 600.8L551.4 600.7L550.4 600.2L549.9 589L548.4 588.1L541.8 588L540.5 587L540.3 577L539.4 576.1L529.4 575.5L524.4 575.5ZM577.2 576L577.1 612L578.4 613L585.4 613L586.4 612.5L586.9 611L586.8 576L583.4 575.5L578.4 575.5ZM605.1 576L604.7 586L605.2 588L607.4 588.4L613.4 588.1L614.1 586L613.8 576L610.4 575.5L606.4 575.5ZM449.6 589L449 600L447.4 600.9L440.2 601L439.4 602L439.3 611L438.4 611.6L432.4 611.7L429.4 612.5L423.4 612.5L422.5 613L422.4 623.6L423.4 624.2L429.4 624.3L433.4 625.4L438.4 625.3L441.4 624.5L457.4 624.4L458.7 625L459 626L459.1 636L459.8 637L475.4 636.9L476.3 636L476.7 625L478.4 624.2L485.5 624L485.4 613.2L484.4 612.7L478.4 612.6L476.9 612L476.5 602L475.4 601L460.4 600.7L458.6 600L458.2 590L457.4 588.6L450.4 588.5ZM495.9 590L495.9 599L497.4 599.4L502.4 599.3L502.7 590L500.4 589.6ZM641 625L640.6 635L641 637L650.4 637.2L650.5 625L647.4 624.5L642.4 624.5ZM383.4 624.5L386.4 625.4L393.9 626L394.1 636L394.9 639L394.4 659L394.9 673L395.2 674L396.4 674.5L401.4 674.5L402.7 675L403 690L382.4 690L382.4 624.5ZM706.4 624.6L713.4 624.6L715.4 625.4L718.4 625.6L718.4 690L704.9 690L704.6 675L703.4 674.5L697.4 674.4L696.5 673L696.2 662L694.4 661L688.4 660.8L688 660L688.2 650L695.6 649L695.9 639L696.4 638L704.6 637L705 626ZM505.4 649.8L511.4 649.8L512.4 650.2L512.7 660L513.4 661.3L521.4 661.5L522.7 662L523.2 673L523.8 674L530.4 674.3L531.4 674.8L531.7 690L512.5 690L512.4 675.6L511.4 674.5L505.4 674.5L504.3 673L504.2 651Z"/>
<path fill="#e3f0ef" d="M386.4 536L394.9 536L394.9 587L394.3 599L393.4 599.6L382.4 599.6L382.4 575.5L385.4 575.2L385.9 574L385.9 536ZM449.4 536L476.9 536L477.2 551L478.4 551.5L484.4 551.5L485.2 552L485.2 562L477.4 562.6L476.7 564L477.4 600.4L484.4 600.5L485.7 600L486.1 599L486.3 577L487 576L496.4 575.5L503.4 575.8L503.9 577L504.1 588L512.4 588.6L512.8 599L513.4 600.1L539.4 601.1L540.4 601.9L541.2 624L542.4 625.3L544.4 625.4L558.9 624L559.8 623L559.9 622L559.9 614L559.2 611L559.1 602L558.7 601L557.4 600.3L551 600L550.4 599L550.3 589L549.4 587.5L541.6 587L541.2 576L539.4 575L523.4 574.9L522 577L521.9 587L513.9 587L513.5 565L514.4 564.4L530.4 564L532.2 563L532 552L530.4 551L524.4 550.9L523.8 550L523.8 536L587.8 536L587.4 562L586.4 565L586.3 574L585.4 574.6L577.4 574.9L576.3 576L576 578L576.1 587L577.1 591L577.1 599L576 603L576 611L576.9 614L577.3 626L577.3 636L576.6 639L576.7 673L577.1 674L578.4 674.5L585.4 674.5L586.5 675L586.9 677L586.9 690L568.3 690L568.1 640L567.4 637.9L560.4 637.6L559.1 638L558.5 639L558.2 690L550.3 690L550.4 663L549.4 661.4L542.4 661.2L541.4 660.5L540.9 639L540.5 638L515.4 637.7L513.4 637L512.8 625L511.4 624.2L504.4 623.9L503.9 623L503.9 614L503.4 612.9L502.4 612.5L496.4 612.5L495.3 613L494.9 623L494.4 623.9L486.4 624.1L485.7 613L484.4 612.4L478.4 612.3L477.4 612L476.9 611L476.8 601L459.4 600.3L458.6 599L458.5 589L457.4 587.8L449.4 587.6L448.9 588L448.9 599L448.4 600.1L441.4 600.5L439.5 600L439 598L439.3 589L441.4 587.6L448.4 587.6L448.9 587L448.9 577L449.4 576L450.4 575.5L457.4 575.3L457.8 574L457.8 565L457.4 563.6L450.4 563.4L449.4 562L448.9 549L448.9 536ZM495.4 589L494.9 591L494.9 599L495.4 599.8L497.4 600.2L502.8 600L503.5 599L503.2 589ZM486.4 536L494.4 536L494.4 549L494.3 550L493.4 550.9L487.4 551L486.4 550.8L485.9 550L485.9 536ZM504.4 536L512.6 536L512.6 550L512.1 553L512 562L511.4 562.9L505.4 562.9L504.8 562L504.7 553L503.9 550L503.9 536ZM606.4 536L613.9 536L613.9 550L614.4 551.2L617.4 551.5L621.4 551.5L622.6 551L622.9 536L650.4 536L650.3 550L649.4 550.6L642.4 550.7L639.4 551.5L632.4 551.6L631.5 552L631.1 553L630.9 573L631.6 577L631.7 587L632 588L633.4 588.7L650.7 589L651.1 590L651.4 600.3L652.4 601L658.4 601.1L659 602L659.1 611L659.5 612L661.4 613.3L666.4 613.4L667.7 614L667.8 623L668.7 626L668.4 637L666.4 637.5L651.4 637.2L650.9 625L649.4 624.1L642.4 624.1L640.4 624.7L639.9 626L639.8 637L638.4 637.5L632.4 637.2L631.9 636L631.6 625L630.4 624.5L614.4 624.2L613.9 623L613.9 614L612.4 613L606.4 613L605 614L604.9 623L604.4 624.2L598.4 624.5L588.4 624L587 623L586.9 614L587.8 611L587.2 591L587.7 587L587.8 577L588.4 576.1L594.4 576L595.7 575L595.9 553L597.4 552L603.4 552L605.2 551L605.4 536ZM604.6 576L604.4 586L604.8 588L608.4 588.6L612.4 588.6L614 588L614.4 586L614.3 576L613.4 575.3L610.4 575.2L605.4 575.4ZM660.4 536L686.4 536L686.4 550L685.4 551.5L679.4 551.5L678.4 552L677.9 553L677.9 562L677.4 562.6L666.4 563.5L653.4 563.5L652.1 563L651.8 553L652.4 552.1L658.4 552L659.6 551L659.6 536ZM715.4 536L718.4 536L718.4 599.6L706.4 599.5L705.9 599L705.8 590L704.9 587L705.2 576L706.4 575.5L713.4 575.5L714.4 575.2L714.9 574L714.9 536ZM413.4 575.8L421.4 575.8L421.9 577L421.9 588L422.4 588.5L429.4 588.5L430.4 588.8L430.9 590L430.8 611L429.4 611.6L423.4 611.7L422.4 612.2L421.7 614L421.6 622L422.4 624.5L429.4 624.8L430.5 625L431.3 626L431.6 636L438.9 636L439 627L439.2 626L440.2 625L456.4 624.7L458.2 625L458.7 626L458.8 636L459.4 637.2L476.4 637.2L477.2 625L480.4 624.5L484.4 624.5L485.7 625L485.5 637L484.4 637.6L477.2 638L477.1 648L477.4 648.8L478.4 649.2L493.4 650.1L494.5 651L494.5 659L494.4 660.1L493.4 660.9L487.4 661L486 662L485.6 690L422.1 690L422.4 675.2L423.4 674.7L429.4 674.6L430.8 674L431 673L430.5 650L427.4 649.5L423.4 649.5L422.1 650L421.7 660L420.8 661L405.4 661L404.2 660L404.5 650L405.4 649.5L411.4 649.5L412.4 648.9L413.2 635L412.7 613L411.4 612L405.4 611.9L404.5 611L404.4 590L405.4 588.5L412.4 588.5L412.9 588L412.9 577ZM412.9 589L412.9 599L413.4 599.6L416.4 600L421.4 599.6L421.9 599L421.9 589L421.4 588.5L413.4 588.5ZM661.4 575.5L667.4 575.6L667.9 576L668.4 577L668.4 587L669.2 588L676.4 588.1L677.4 588.3L678 589L678.1 599L677.4 602L677.4 610L677.3 611L676.4 611.9L670.4 612L669.4 611.5L668.8 601L667.4 599.7L661.4 599.6L660.5 599L660.4 577ZM687.4 575.8L693.4 575.5L695.6 576L695.9 586L695.4 587.3L688.4 587.6L687 587L686.9 577ZM386.4 637.8L392.4 637.5L393.7 638L394 647L393.4 649.4L387.4 649.5L386.2 649L385.9 640ZM640.4 637.8L650.4 637.8L650.7 648L651.4 649.7L652.4 650.5L659.2 651L659.3 660L658.4 660.9L652.4 661.1L651.2 662L650.9 664L650.9 673L651.4 674.2L652.4 674.9L658.4 675.1L659 676L659 690L631.9 690L632.2 675L633.4 674.5L639.4 674.4L640.3 673L639.8 652ZM715.4 637.8L718.4 637.5L718.4 649.5L715.4 649.2L714.9 648L714.9 639ZM505.4 650.6L510.4 650.6L511.8 651L511.9 660L512.4 661.3L513.4 661.8L521.4 661.9L522.4 662.6L522.7 673L523.4 674.4L530.7 675L531.4 677L531.4 690L512.9 690L512.8 675L511.4 673.7L506.4 673.6L505.1 673L505 652Z"/>
<path fill="#bbe5df" d="M459.4 536L467.9 536L468 562L469.4 562.9L475.4 563L476.1 564L476.7 590L476.4 600.1L460.4 600.3L459.4 600L458.9 599L458.9 590L457.9 587L457.9 578L458.6 574L458.9 536ZM505.4 536L511.8 536L511.8 550L511.4 551.3L506.4 551.5L505.1 551L504.8 536ZM532.4 536L586.9 536L586.3 562L585.4 563.4L559.4 564.7L558.9 566L558.6 575L556.4 575.5L550.4 575.2L549.9 574L549.9 565L549 562L548.7 552L547.4 551.5L534.4 551.5L532.6 551L531.9 549L531.9 536ZM631.4 536L641.4 536L641.4 549L641.3 550L640.4 550.9L632.4 551L631.4 550ZM660.4 536L677.9 536L677.9 549L677.4 551L676.4 551.5L667.4 552L661.4 552L660.4 551.5ZM607.4 563L612.4 563L614.2 564L614.4 574L613.4 574.8L605.4 574.9L603.8 576L603.7 586L604.3 588L605.4 588.7L608.4 588.9L612.4 588.9L614.4 588L615.1 587L615.4 575.6L629.4 575.5L630.4 575.7L630.8 577L630.9 587L632.4 589.1L633.4 589.5L638.4 589.6L648.4 589L650.4 589.6L651.2 612L659 613L659.8 614L660 623L661.4 624L667.4 624.1L668.1 625L668.4 635L667.5 637L652.4 636.9L651.5 636L651.4 626L650.9 624L649.4 623.4L641 623L640.9 614L640.4 613.4L623.4 612.2L622.9 611L622.9 603L622.4 601.8L615.4 601.6L614 602L613.9 611L613.4 611.6L603.4 612.5L597.4 612.5L596.2 612L595.8 602L595.4 601.2L594.4 600.6L589.4 600.5L588.2 600L588 590L588.4 588.7L594.4 588.4L595.8 587L595.9 577L596.8 574L597.1 564L597.4 563.6ZM495.4 576L502.6 576L503.5 577L503.5 579L503.2 588L495.4 588.3L494.4 589L494.1 599L495.4 600.5L501.4 600.7L503.4 600.3L503.9 599L504.1 589L511.4 588.7L512.1 589L512.5 590L512.5 599L513.4 600.4L530.4 600.7L533.4 601.7L539.6 602L539.8 611L540.7 614L540.7 623L541.4 626L541.2 637L530.4 637.5L514.4 637.2L513.6 636L513.1 625L511.4 623.9L505.4 623.8L504.4 623.1L504.3 614L503.4 612.4L495.4 612.4L494.5 614L494.4 623.1L493.4 623.8L487.4 623.8L486.5 623L486.2 613L484.4 612L478.4 611.9L477.4 611.1L477.4 601.6L478.4 600.9L485.4 600.7L486.9 599L487.1 577ZM559.4 587.6L574.4 587.6L575.4 587.7L576.6 589L576.4 600.4L575.4 601.3L569.4 601.4L568 602L567.9 611L567.4 612.2L566.4 612.5L560.4 612.3L560 611L559.9 602L558.4 600.2L557.4 599.5L551.2 599L551.4 588.7L557.4 588.4ZM440.4 588.8L446.4 588.5L448.2 589L448.5 599L447.6 600L440.4 599.8L439.9 597L439.9 590ZM669.4 588.6L676.4 588.5L677.5 589L677.7 599L676.7 602L676.4 611.2L670.1 611L669.9 602L668 598L668.1 590L668.5 589ZM413.4 601.4L420.4 601L421.9 602L421.8 611L420.9 614L421 624L422.4 625.4L430.2 626L430.5 636L431.4 636.9L438.4 637.1L439.4 636.7L439.8 636L439.9 627L440.4 625.6L457.4 625.1L458.3 626L458.4 636L459.4 637.6L476.4 637.8L476.8 648L477.4 649.3L484.4 649.5L487.4 650.7L493.6 651L493.6 660L487.4 660.3L485.7 662L485.2 690L422.4 690L422.5 676L423.4 675.1L429.4 675L431.2 674L430.9 650L429.4 649.2L427.4 649.2L422.4 649.4L421.6 650L421.3 660L420.4 660.7L405.4 660.2L405 659L405 651L406.4 650.4L411.4 650.3L412.4 649.8L413.1 648L413.2 639L413.9 635L413.8 614L412.9 610L412.9 602ZM560.4 623.5L575.4 623.7L576.8 625L575.9 673L577.4 674.8L585.4 674.9L586.4 675.8L586.5 690L568.7 690L569.1 664L568.4 660L568.4 639L567.4 637.5L564.4 637.4L559.4 637.5L557.8 639L557.6 690L551.1 690L551 662L549.4 660.9L542.4 660.8L541.6 660L541.9 638L542.4 637.5L547.4 637.5L548.7 637L548.9 626L549.8 625L558.4 624.5ZM478.4 624.8L484.4 624.8L485.4 625.5L485.5 636L485 637L477.2 637L477.1 626ZM641.4 638.3L649.4 638.1L650.3 639L650.4 648L651.7 651L651.8 659L650.1 663L650 672L651.7 676L651.8 690L640 690L640.1 676L641.4 672L641.4 663L640.6 658L640.9 640ZM513.4 662.8L521.4 662.7L522.3 674L524.4 675.5L529.4 675.6L530.6 676L530.7 690L513.3 690L512.9 664Z"/>
<path fill="#84cec3" d="M550.4 536L586 536L585.7 551L577.2 552L576.8 562L575.4 563L551.4 564L550.4 563.5L549.9 562L549.9 536ZM633.4 536L640.4 536L640.2 550L632.6 550L632.4 536ZM661.4 536L668.9 536L668.9 549L668.4 550.5L667.4 551L662.4 551L661.4 550.8L661 550L661 536ZM461.4 563L466.4 563L469.4 564L475.4 564.3L475.6 574L476.2 577L476.4 592L476.3 599L475.4 599.9L460.4 600L459.2 599L459.2 590L458.6 586L459.2 565L459.4 563.7ZM605.4 564.5L606.4 564L611.4 564L612.4 564.1L613.3 565L613.1 574L605.1 574L604.9 566ZM495.4 576.9L502.7 577L502.4 587.4L496.4 587.4L495 587L494.9 578ZM598.4 588L603.4 588.1L606.4 589.3L612.4 589.3L616.4 587.6L630.4 588.6L631.8 590L631.9 600L632.4 600.5L640.4 600.5L640.9 600L641.1 590L649.4 589.8L649.8 591L649.6 600L648.4 600.5L641.4 600.5L640.9 601L640.9 611L639.4 612L633.4 612L632 611L631.9 601L631.4 600.5L611.4 601L596.4 600.6L595.4 599L595.4 590L596.4 588.4ZM559.4 588.4L575.4 588.6L576.4 590L576.4 599L575.9 600L575.4 600.4L569.4 600.5L566.4 601.3L561.4 601.4L559.4 600.6L558.2 599L558 597L558.1 590ZM670.4 588.9L676.4 588.9L677.3 590L677.4 599L676.4 600.9L670.4 600.9L669.3 600L668.9 590ZM441.4 589.5L447.4 589.5L447.4 599.2L440.9 599L440.8 591ZM504.4 589.8L505.4 589L511.4 589.1L512.1 590L512.2 599L513.4 600.7L530.4 601L532.6 602L532.8 611L533.4 611.9L539.4 612.1L540.4 614L540.3 636L530.4 637.2L514.4 636.3L514.1 626L511.4 623.3L505.2 623L505 614L502.4 611.4L495.4 611.7L493.8 614L493.6 623L487.2 623L486.8 613L484.4 611.3L478.2 611L478.1 602L484.4 601.6L488.4 600L493.4 600.1L496.4 601.5L502.4 601.5L504.1 600L504.3 599ZM551.4 624.9L566.4 624.3L575.4 624.5L576.1 625L576.5 636L575.6 639L575.4 661.2L570.4 661.5L569.3 661L569.1 640L568.7 638L567.4 637.2L560.4 637.1L557.4 638.2L551.4 638.3L550.4 638L549.7 637L549.7 626L550.4 625.1ZM652.4 624.7L658.4 624.5L667.4 625.3L667.6 636L652.4 636.2ZM441.4 625.8L457.4 625.8L458 637L460.4 638.1L475.4 638.1L476.3 639L476.5 649L477.4 649.7L485.4 650L486.6 651L486.8 659L485.1 663L484.6 690L476.9 690L476.3 663L475.4 661.6L473.4 661.5L469.4 661.6L468.4 663L468.4 690L423.1 690L423.2 676L430.4 675.6L432 674L431.5 651L431.3 650L429.4 648.9L423.4 648.8L421.4 649.4L420.7 651L420.5 660L413.2 660L412.9 652L413.9 648L414.2 638L415.4 637.5L423.4 637L439.4 637.3L440.7 636L440.8 627ZM478.4 625.2L484.4 625.2L485.1 626L485.1 636L484.4 636.9L478.4 636.9L477.5 636L477.4 627L477.5 626ZM642.4 638.8L649.6 639L649.7 648L650.9 651L650.9 659L650.6 661L649.4 661.9L642.4 661.9L641.3 661L641.2 651L641.7 648L641.8 640ZM542.4 649.7L548.4 649.5L549.6 650L549.7 660L542.3 660ZM643.4 674L649.4 674.1L650.6 675L650.9 690L640.9 690L640.9 676L641.4 674.6ZM514.4 674.6L521.4 674.6L522.8 676L522.9 690L514.1 690ZM569.4 674.8L574.4 674.5L577.4 675.6L585.4 675.8L585.7 690L569.2 690Z"/>
<path fill="#4ca79e" d="M559.4 536L567.9 536L567.8 562L566.4 562.6L551.4 562.9L550.8 561L551.1 552L552.4 551.5L557.4 551.5L558.4 551.2L558.9 550L558.9 536ZM460.4 564.2L466.4 564.1L467.4 564.6L467.8 565L467.9 574L468.4 575L475.4 575.8L475.4 599.2L461.4 599.6L459.7 599L459.2 577L459.9 574L460 565ZM560.4 588.8L575.4 589.6L575.4 599.4L569.4 599.7L566.4 600.5L560.4 600.4L559.5 600L559 599L558.9 590L559.4 589.1ZM614.4 588.9L620.4 588.5L622.9 589L623.4 590L623.4 598L622.7 600L598.4 600L597.4 599.9L596.5 599L596.5 590L597.4 589.1L611.4 589.8L613.4 589.6ZM505.4 589.8L511.5 590L511.6 599L511.9 600L513.4 600.9L531.4 601.7L531.9 603L531.9 611L532.4 612.4L533.4 613L539.4 613.3L539.5 624L533 625L532.5 626L532.3 636L531.4 636.6L524.4 636.8L522.5 636L522.3 626L521.4 625.4L515.4 625.4L513.4 624.4L512 622L512 614L511.4 613.1L505.4 612.9L503.5 611L503.5 602L505 599ZM670.4 589.7L676.6 590L676.4 599.7L671.4 600L670.4 599.8L669.8 599L669.8 591ZM486.4 601.7L487.4 601.1L492.4 601L494.8 602L494.8 611L493.4 612.4L487.4 612.4L486 611L485.9 603ZM559.4 624.9L566.4 624.8L575.4 625.5L575.4 637.2L570.4 637.5L567.4 636.8L561.4 636.7L557.4 637.5L552.4 637.5L550.4 637L550.2 626L551.4 625.3ZM478.4 625.9L484.5 626L484.4 636.1L478.2 636ZM442.4 637L456.4 637.5L460.4 638.8L475.6 639L475.4 649.4L469.4 649.5L468.4 649.8L467.9 651L467.4 663L467.4 690L458.9 690L458.9 676L457.4 675L455.4 675L450.4 675L448.9 676L448.9 690L439.9 690L439.9 663L439.4 662L438.4 661.5L432.4 661.2L432.2 651L431.9 650L430.4 648.5L422.1 648L421.9 640L422 639L423.4 638L438.4 637.9ZM642.4 649.7L649.4 649.7L650 651L650 658L650 660L649.4 660.9L642.4 660.8L642 658L642 651ZM477.4 650.2L484.4 650.2L485.8 651L485.8 660L484.6 663L484.6 673L484.4 674.2L483.4 674.5L478.4 674.4L477.4 673L477.4 663L476.4 659L476.4 651ZM642.4 675.1L648.4 675L649.4 675.1L650 676L650 690L641.8 690L641.8 677Z"/>
<path fill="#1c7f77" d="M460.4 575.7L466.4 575.5L467.4 576L467.9 577L467.5 599L460.3 599L460 578ZM560.4 589.6L566.4 589.6L567.7 590L567.8 599L564.4 599.6L560.4 599.5L559.9 599L559.8 591ZM614.4 589.8L620.4 589.4L622.3 590L622.2 599L619.4 599.4L614 599L613.9 591ZM505.4 600.6L510.4 600.5L513.4 601.4L530.7 602L531.1 611L532.4 615L532.4 623L531.4 626L531.1 636L523.7 636L523.4 626L522.9 625L521.4 624.5L514.4 624.4L513.4 623.7L513 623L512.9 614L512.4 612.5L511.4 612L505.4 611.9L504.5 611L504.5 602ZM551.4 625.9L565.4 625.6L567.7 626L567.7 636L551.4 636.5L551 634L551 627ZM431.4 638.8L447.4 638L448.8 639L449.2 649L450.4 649.5L457.4 649.5L458.6 650L458.9 672L458.4 673.6L455.4 674L449.4 673.6L448.9 673L448.6 662L440.4 661L439.9 660L439.6 650L438.4 649.5L432.4 649.3L431.1 648L430.9 640ZM478.4 650.8L484.8 651L485 659L484.4 661.3L479.4 661.5L478 661L477.5 660L477.4 652L477.7 651Z"/>
<path fill="#005b52" d="M513.4 602L522.5 602L523.2 612L524.4 612.5L530.4 612.6L531.3 614L531.3 623L530.4 624.4L524.4 624.5L521.4 623.6L514.4 623.5L513.9 623L513.8 614L512.9 610L512.9 603Z"/>
<path fill="none" stroke="#222" stroke-width="0.7" stroke-linejoin="round" d="M376.44 534.09L376.44 539L373.52 545.14L370.77 554.96L369.86 561.1L370.32 566L369.4 576.56L370.13 581.96L371.69 585.64L373.24 589.33L374.43 594.24L375.8 597.18L378.54 601.85L381.74 599.88L385.4 599.15L387.69 597.18L389.51 597.18L390.88 602.09L393.17 601.6L394.27 604.06L394.08 610.19L393.9 615.11L396.19 623.7L396.64 627.38L397.56 634.75L397.92 639.65L396.37 646.53L396.19 654.38L397.74 662.98L398.66 667.89L399.11 678.93L400.48 682.86L401.4 688.75L401.85 693.66L402.31 697.35L403.68 698.57L408.25 697.35L411 693.66L413.28 688.75L413.74 686.05L415.02 682.62L415.29 676.48L416.02 674.76L417.85 671.08L417.67 665.43L417.12 661.26L418.77 658.8L421.51 653.16L422.52 648.25L422.42 638.43L421.51 632.29L421.24 627.38L421.69 622.47L423.34 616.82L425.17 611.42L427.45 606.51L429.74 599.15L431.11 591.78L432.3 583.68L429.28 585.15L425.62 587.12L424.98 583.68L424.43 580.74L421.97 574.11L421.05 569.69L419.59 563.55L419.22 558.64L417.94 553.98L416.94 548.82L416.02 545.14L415.11 539.25L414.93 535.32L412.82 535.32L408.25 534.09L403.68 534.09L394.54 521.82L380.83 524.27L376.44 534.09ZM705.54 534.09L705.54 539L702.62 545.14L699.87 554.96L698.96 561.1L699.42 566L698.5 576.56L699.23 581.96L700.79 585.64L702.34 589.33L703.53 594.24L704.9 597.18L707.64 601.85L710.84 599.88L714.5 599.15L716.79 597.18L718.61 597.18L719.98 602.09L722.27 601.6L723.37 604.06L723.18 610.19L723 615.11L725.29 623.7L725.74 627.38L726.66 634.75L727.02 639.65L725.47 646.53L725.29 654.38L726.84 662.98L727.76 667.89L728.21 678.93L729.58 682.86L730.5 688.75L730.95 693.66L731.41 697.35L732.78 698.57L737.35 697.35L740.1 693.66L742.38 688.75L742.84 686.05L744.12 682.62L744.39 676.48L745.12 674.76L746.95 671.08L746.77 665.43L746.22 661.26L747.87 658.8L750.61 653.16L751.62 648.25L751.52 638.43L750.61 632.29L750.34 627.38L750.79 622.47L752.44 616.82L754.27 611.42L756.55 606.51L758.84 599.15L760.21 591.78L761.4 583.68L758.38 585.15L754.72 587.12L754.08 583.68L753.53 580.74L751.07 574.11L750.15 569.69L748.69 563.55L748.32 558.64L747.04 553.98L746.04 548.82L745.12 545.14L744.21 539.25L744.03 535.32L741.92 535.32L737.35 534.09L732.78 534.09L723.64 521.82L709.93 524.27L705.54 534.09ZM416.94 535.32L416.94 540.23L417.4 543.91L418.77 548.82L420.14 553.73L421.24 559.87L422.42 566L423.79 570.91L424.43 575.83L424.98 581.47L426.54 581.23L429.28 578.28L432.48 575.33L433.12 574.11L435.68 570.91L437.23 568.46L438.24 566L438.88 562.32L440.07 557.41L439.15 554.71L437.51 553.73L436.87 551.52L436.96 548.33L436.59 548.33L436.14 550.05L434.76 553.24L432.94 553.73L432.48 551.27L432.57 548.82L431.57 548.33L431.11 546.37L429.74 542.68L429.28 539L430.01 539L431.38 540.96L432.02 543.91L433.85 546.86L435.5 547.59L436.78 546.12L437.78 549.31L441.62 550.78L443.91 550.54L446.19 550.29L446.92 552.5L447.75 554.47L448.48 556.68L449.39 557.41L448.48 559.13L449.39 561.1L450.49 561.83L451.68 559.87L451.77 558.15L451.95 561.1L451.95 566L452.41 570.91L452.87 574.6L453.51 579.51L453.96 583.19L454.88 588.1L455.33 591.05L456.25 592.76L456.89 590.8L457.62 589.82L458.44 587.36L458.35 583.19L458.72 579.51L458.62 575.33L459.45 572.63L460.64 571.9L461.73 568.95L463.1 565.27L464.48 563.55L464.93 559.87L466.3 559.13L467.67 558.64L468.59 557.41L469.32 558.15L469.78 561.83L470.42 563.55L471.33 567.23L471.79 572.14L472.25 573.86L473.16 572.14L474.07 571.41L474.62 573.37L474.99 577.05L475.45 579.51L475.54 583.19L475.45 586.87L475.26 590.55L475.26 593.01L476.54 596.69L477.09 600.38L477.55 604.06L478.19 605.78L479.1 607.74L480.02 609.46L480.66 609.21L480.02 605.28L479.92 601.6L479.19 597.92L478.19 595.96L477.27 594.73L476.82 590.55L476.09 586.87L476.36 583.19L476.82 579.75L477.73 581.47L479.1 583.19L479.56 585.64L480.93 586.87L481.2 591.54L482.76 589.33L483.67 586.87L485.04 584.42L485.32 580.74L485.04 575.83L484.13 572.88L483.22 570.91L482.3 567.23L482.03 564.78L482.76 562.32L483.67 559.87L484.59 559.38L485.68 559.87L486.32 562.81L486.42 560.6L487.79 559.13L489.16 558.15L489.8 557.66L491.44 556.43L492.81 554.22L494 551.27L494.73 548.82L495.1 545.63L496.01 542.68L496.93 539L496.47 536.54L496.75 534.09L496.01 531.63L495.1 526.73L440.25 514.45L416.94 535.32ZM430.47 642.11L431.29 648.25L431.47 650.7L430.93 654.38L430.47 656.84L429.74 662.98L428.82 670.34L428.37 674.02L426.72 675.25L425.62 674.02L424.98 667.89L425.35 664.2L426.08 660.52L425.62 655.61L426.08 652.42L427.91 650.7L428.82 648.25L429.28 645.79L430.47 642.11ZM458.35 593.01L458.53 597.92L459.08 598.17L460.18 595.47L459.9 592.27L458.99 588.59L458.44 590.55L458.35 593.01ZM484.77 567.23L485.5 567.97L486.42 566.74L486.87 564.29L486.42 563.3L485.5 563.55L484.77 565.51L484.77 567.23ZM495.19 556.18L495.74 558.64L496.01 558.15L496.47 554.96L496.93 551.27L496.47 550.54L495.74 552.5L495.19 556.18ZM495.1 573.37L495.56 567.23L496.47 566.99L497.2 567.72L497.11 570.91L496.75 574.6L497.39 577.79L498.48 578.77L498.94 581.72L498.03 580.98L496.93 579.02L495.83 578.77L495.65 577.05L495.1 573.37ZM496.93 595.47L498.3 593.5L498.94 592.27L500.13 588.84L501.04 591.78L500.77 596.69L500.13 598.66L499.21 597.43L498.57 594.73L496.93 595.47ZM496.84 583.68L497.66 587.12L498.3 589.82L499.21 588.1L499.95 584.91L499.67 581.96L498.76 582.45L497.84 584.42L496.84 583.68ZM492.54 592.27L493.73 589.33L494.83 585.64L494.46 584.91L493.27 588.1L492.54 592.27ZM485.04 608.97L485.59 607.74L486.87 608.97L487.33 606.02L488.7 604.79L490.07 601.6L490.89 599.64L491.9 596.69L492.63 595.96L493.73 599.15L494.37 600.13L493.27 602.09L492.81 605.28L493.27 610.19L494 610.19L492.81 612.65L492.36 615.11L491.9 618.79L491.44 621.98L490.07 621.24L488.7 620.51L487.33 620.01L486.14 619.52L485.96 616.33L485.04 612.65L485.04 608.97ZM472.52 598.9L474.53 599.88L475.45 602.83L476.82 606.51L478.19 608.48L479.56 611.42L480.2 615.11L480.93 617.56L482.12 620.01L482.3 623.7L482.12 626.89L480.93 627.13L480.02 624.92L478.92 622.47L478.01 619.52L477.09 615.11L476.09 611.42L475.45 608.23L474.53 606.51L473.62 604.06L472.52 598.9ZM481.57 629.34L482.3 627.38L483.67 627.87L484.59 629.1L486.42 628.61L487.33 629.1L488.43 629.83L490.07 631.8L489.98 634.01L488.24 633.03L485.96 632.29L484.13 631.55L482.76 630.57L481.57 629.34ZM490.71 632.78L491.9 633.03L494.19 633.03L495.56 633.03L497.39 632.78L497.84 633.52L496.01 634.5L494.19 634.25L492.36 634.75L490.99 634.25L490.71 632.78ZM498.76 637.2L500.13 635.24L501.77 633.27L500.58 634.75L499.21 637.69L498.76 637.2ZM494.64 626.15L494.55 621.24L494 618.79L494.64 613.88L495.1 611.18L496.01 609.46L497.84 610.19L499.21 608.97L499.85 608.97L499.03 611.67L497.84 611.42L496.47 611.42L495.28 611.67L495.74 615.84L496.56 615.11L498.12 614.61L497.11 617.56L497.39 623.7L496.47 623.7L496.01 619.52L495.56 620.01L495.47 626.15L494.64 626.15ZM501.96 607.25L502.41 610.19L503.14 611.42L502.41 612.65L502.87 614.61L502.14 613.88L501.96 610.69L501.96 607.25ZM502.41 620.51L504.24 620.01L504.97 621.98L503.33 621.49L502.41 620.51ZM500.58 620.51L501.5 620.51L501.5 621.98L500.58 621.73L500.58 620.51ZM505.16 615.11L506.53 613.88L507.9 614.61L508.81 620.75L511.1 616.33L513.38 618.54L516.13 620.75L518.59 624.43L520.24 627.87L520.51 632.29L522.52 637.94L520.7 637.69L519.33 634.25L517.04 631.8L515.76 635.48L514.3 634.99L512.47 632.54L511.55 629.83L512.01 627.38L510.64 624.92L508.81 623.45L507.44 622.47L506.25 619.52L505.16 616.33L505.16 615.11ZM521.15 626.15L522.52 624.92L523.9 623.7L524.63 622.96L524.17 626.15L522.52 627.87L521.15 626.15ZM528.47 629.34L529.38 631.06L531.21 633.52L532.4 635.97L533.04 637.94L532.12 636.71L530.3 633.03L528.47 629.34ZM490.53 686.3L490.53 691.21L490.53 698.57L504.24 698.57L525.27 698.57L525.27 688.75L525.36 686.3L525.82 683.35L525.45 680.16L525.27 674.52L523.44 670.34L523.26 667.89L522.07 667.4L521.43 662.49L519.05 658.07L518.41 653.16L518.23 649.47L516.77 647.02L516.58 643.34L515.67 638.92L515.21 639.65L514.85 644.56L514.75 651.93L514.11 655.61L512.47 654.88L510.64 651.93L509.27 648.98L509.73 645.3L510.64 643.34L510.18 642.11L508.81 642.85L506.98 641.86L506.53 640.88L505.16 642.6L504.52 644.56L503.78 649.23L503.33 649.47L501.96 647.02L500.58 647.02L499.21 650.7L498.3 654.38L497.11 656.84L496.01 660.52L494.19 661.75L492.17 663.22L489.8 666.17L489.43 669.12L489.07 672.8L489.62 677.71L490.44 683.84L490.53 686.3ZM535.32 662.24L536.24 663.71L538.07 667.15L537.61 667.64L535.78 664.2L535.32 662.24ZM547.48 655.61L548.58 655.12L548.58 657.33L547.66 657.33L547.48 655.61ZM571.98 563.8L572.8 565.27L572.8 563.8L571.98 563.06L571.98 563.8ZM604.8 526.73L607.09 531.63L608.46 537.77L609.37 540.23L610.28 543.91L611.2 546.86L612.11 551.27L613.94 556.18L614.4 555.69L613.48 552.99L612.57 548.82L611.38 543.91L609.83 539L609.65 535.32L611.2 536.05L612.57 542.68L613.94 545.63L614.86 549.31L615.77 551.27L617.14 554.96L618.06 558.64L618.15 562.32L617.87 563.55L618.97 565.51L619.88 567.72L621.25 568.71L623.08 570.91L624.91 573.12L626.28 574.11L627.65 572.88L628.57 572.88L629.94 575.83L630.85 578.28L632.41 579.51L634.05 580.24L634.69 580.98L635.42 583.19L636.16 585.64L636.16 588.1L636.8 588.84L637.07 589.33L638.08 592.03L639.54 592.52L640.91 594.73L641.37 594.24L641.82 591.05L642.74 592.27L643.19 594.24L643.74 596.2L643.74 602.83L643.83 606.51L642.56 608.97L641.37 610.69L640.91 613.88L641.28 619.03L640.45 623.7L640.27 626.89L641.37 629.83L642.46 633.52L643.65 639.65L644.84 645.79L645.94 650.46L647.77 653.16L649.14 655.61L650.23 658.07L650.42 664.2L650.05 670.34L649.96 676.48L649.32 682.62L649.05 686.3L649.05 691.21L648.68 698.57L663.31 698.57L666.05 694.89L667.88 688.75L668.52 686.3L669.71 682.62L670.16 676.48L670.62 674.76L671.99 671.57L673.36 670.34L675.01 669.12L676.11 668.87L677.02 666.17L677.75 661.75L678.21 659.29L678.66 655.61L678.85 649.47L679.3 644.56L680.22 640.88L681.59 637.2L682.5 632.29L682.69 629.83L682.23 626.15L680.68 624.43L679.3 621.73L677.48 619.52L675.65 619.03L674 618.79L673.36 616.33L671.08 614.12L670.16 615.6L669.25 613.14L668.33 610.19L667.69 602.83L666.51 599.88L665.13 598.41L663.31 598.17L661.94 597.92L661.02 595.47L659.65 592.27L658.28 589.08L657.36 586.63L655.99 586.63L654.16 586.63L652.34 586.87L650.97 584.42L649.59 585.64L649.14 588.1L649.41 590.55L648.86 589.33L648.68 585.64L648.22 583.68L647.31 584.91L646.39 585.64L645.48 587.12L645.02 589.57L644.29 591.54L643.74 591.29L642.74 589.57L641.73 589.08L640.45 590.8L639.36 590.06L638.62 588.1L638.08 585.89L637.98 581.96L638.26 577.54L637.71 575.83L636.34 573.62L634.51 573.86L633.78 574.11L633.32 573.37L633.87 569.69L634.33 566L634.51 562.81L635.15 560.36L634.05 559.87L631.95 561.1L631.77 564.04L630.85 567.23L629.48 567.48L628.11 567.97L626.92 566.74L626.28 564.78L625.64 562.08L625.37 558.64L625.09 553.73L625.46 549.31L625.55 545.14L626.28 543.17L627.84 540.47L629.21 539.49L631.31 540.72L632.68 539.98L633.14 538.26L635.88 538.02L637.44 539L638.62 541.46L638.99 545.14L639.81 549.07L640.54 550.78L641.18 548.82L641.37 546.37L640.82 542.68L640.18 537.77L640.45 534.09L644.11 526.73L604.8 526.73ZM636.8 559.13L638.17 558.15L639.54 555.94L641.37 555.94L643.19 557.9L645.02 560.85L646.67 563.06L645.94 563.8L643.65 563.8L643.38 561.83L642.28 559.62L640 559.13L638.62 559.87L636.8 559.13ZM646.39 567.48L647.95 563.8L650.51 564.29L652.06 566.99L651.7 567.97L649.59 567.97L648.22 567.97L646.49 567.97L646.39 567.48ZM642.92 567.72L644.75 567.97L644.29 568.71L643.01 568.21L642.92 567.72ZM653.07 567.48L654.53 567.48L654.44 568.46L653.07 568.46L653.07 567.48Z"/>
<path fill="none" stroke="#000" stroke-width="0.6" d="M412.09 620.75L412.37 624.92L413.28 631.06L413.74 634.01L413.37 633.52L412.55 628.61L412 623.7L412.09 620.75ZM416.76 635.97L417.12 639.65L416.94 643.34L417.67 647.76L417.21 644.56L416.76 639.65L416.76 635.97ZM414.47 613.39L416.02 611.91L416.48 613.88L416.3 618.79L415.11 618.79L414.38 616.33L414.47 613.39Z"/>
<path fill="none" stroke="#000" stroke-width="2.2" stroke-linecap="round" d="M433.0 545.0h0M437.0 560.0h0M447.0 580.0h0M452.0 620.0h0M474.0 552.0h0M478.0 611.0h0M486.0 614.0h0M491.0 640.0h0M539.0 611.0h0M545.0 635.0h0M550.0 553.0h0M606.0 556.0h0M658.0 617.0h0M661.0 650.0h0M680.0 620.0h0M686.0 643.0h0M691.0 657.0h0M686.0 668.0h0M677.0 676.0h0M690.0 685.0h0M631.0 660.0h0M634.0 685.0h0M666.0 574.0h0M673.0 575.0h0M677.0 580.0h0"/>
</g>
<rect x="385.4" y="539" width="329.1" height="147.3" fill="none" stroke="#000" stroke-width="1.7"/>
<path stroke="#000" stroke-width="1.3" d="M385.4 686.3h-5.6M385.4 674.02h-3M385.4 661.75h-3M385.4 649.47h-5.6M385.4 637.2h-3M385.4 624.92h-3M385.4 612.65h-5.6M385.4 600.38h-3M385.4 588.1h-3M385.4 575.83h-5.6M385.4 563.55h-3M385.4 551.27h-3M385.4 539h-5.6"/>
<text x="374.8" y="541.7" class="ax" text-anchor="end">30N</text>
<text x="374.8" y="578.53" class="ax" text-anchor="end">15N</text>
<text x="374.8" y="615.35" class="ax" text-anchor="end">0</text>
<text x="374.8" y="652.17" class="ax" text-anchor="end">15S</text>
<text x="374.8" y="689" class="ax" text-anchor="end">30S</text>
<path stroke="#000" stroke-width="1.3" d="M385.4 686.3v5M394.54 686.3v2.6M403.68 686.3v2.6M412.82 686.3v2.6M421.97 686.3v2.6M431.11 686.3v2.6M440.25 686.3v5M449.39 686.3v2.6M458.53 686.3v2.6M467.67 686.3v2.6M476.82 686.3v2.6M485.96 686.3v2.6M495.1 686.3v5M504.24 686.3v2.6M513.38 686.3v2.6M522.52 686.3v2.6M531.67 686.3v2.6M540.81 686.3v2.6M549.95 686.3v5M559.09 686.3v2.6M568.23 686.3v2.6M577.38 686.3v2.6M586.52 686.3v2.6M595.66 686.3v2.6M604.8 686.3v5M613.94 686.3v2.6M623.08 686.3v2.6M632.23 686.3v2.6M641.37 686.3v2.6M650.51 686.3v2.6M659.65 686.3v5M668.79 686.3v2.6M677.93 686.3v2.6M687.08 686.3v2.6M696.22 686.3v2.6M705.36 686.3v2.6M714.5 686.3v5"/>
<text x="385.4" y="702.3" class="ax" text-anchor="middle">0</text>
<text x="440.25" y="702.3" class="ax" text-anchor="middle">60E</text>
<text x="495.1" y="702.3" class="ax" text-anchor="middle">120E</text>
<text x="549.95" y="702.3" class="ax" text-anchor="middle">180</text>
<text x="604.8" y="702.3" class="ax" text-anchor="middle">120W</text>
<text x="659.65" y="702.3" class="ax" text-anchor="middle">60W</text>
<text x="714.5" y="702.3" class="ax" text-anchor="middle">0</text>
<text x="460.05" y="531.6" class="lb" textLength="18.55" lengthAdjust="spacingAndGlyphs">(g)</text>
<text x="487.2" y="534.1" class="ttl" textLength="154.4" lengthAdjust="spacingAndGlyphs">OBS Pr Trend 98-14</text>
<rect x="19.5" y="715.8" width="25.9" height="13" fill="#0000c0" stroke="#222" stroke-width="0.6"/>
<rect x="45.4" y="715.8" width="25.9" height="13" fill="#0000f5" stroke="#222" stroke-width="0.6"/>
<rect x="71.3" y="715.8" width="25.9" height="13" fill="#3a3af5" stroke="#222" stroke-width="0.6"/>
<rect x="97.2" y="715.8" width="25.9" height="13" fill="#6c6cf8" stroke="#222" stroke-width="0.6"/>
<rect x="123.1" y="715.8" width="25.9" height="13" fill="#a0a0fa" stroke="#222" stroke-width="0.6"/>
<rect x="149" y="715.8" width="25.9" height="13" fill="#cdcdfa" stroke="#222" stroke-width="0.6"/>
<rect x="174.9" y="715.8" width="25.9" height="13" fill="#ffffff" stroke="#222" stroke-width="0.6"/>
<rect x="200.8" y="715.8" width="25.9" height="13" fill="#ffa3a3" stroke="#222" stroke-width="0.6"/>
<rect x="226.7" y="715.8" width="25.9" height="13" fill="#ff7a7a" stroke="#222" stroke-width="0.6"/>
<rect x="252.6" y="715.8" width="25.9" height="13" fill="#ff4242" stroke="#222" stroke-width="0.6"/>
<rect x="278.5" y="715.8" width="25.9" height="13" fill="#ff0808" stroke="#222" stroke-width="0.6"/>
<rect x="304.4" y="715.8" width="25.9" height="13" fill="#d90000" stroke="#222" stroke-width="0.6"/>
<rect x="330.3" y="715.8" width="25.9" height="13" fill="#a00000" stroke="#222" stroke-width="0.6"/>
<rect x="19.5" y="715.8" width="336.7" height="13" fill="none" stroke="#333" stroke-width="0.8"/>
<text x="45.4" y="742" class="cb" text-anchor="middle">-.5</text>
<text x="71.3" y="742" class="cb" text-anchor="middle">-.4</text>
<text x="97.2" y="742" class="cb" text-anchor="middle">-.3</text>
<text x="123.1" y="742" class="cb" text-anchor="middle">-.2</text>
<text x="149" y="742" class="cb" text-anchor="middle">-.1</text>
<text x="174.9" y="742" class="cb" text-anchor="middle">-.02</text>
<text x="200.8" y="742" class="cb" text-anchor="middle">.02</text>
<text x="226.7" y="742" class="cb" text-anchor="middle">.1</text>
<text x="252.6" y="742" class="cb" text-anchor="middle">.2</text>
<text x="278.5" y="742" class="cb" text-anchor="middle">.3</text>
<text x="304.4" y="742" class="cb" text-anchor="middle">.4</text>
<text x="330.3" y="742" class="cb" text-anchor="middle">.5</text>
<text x="161.1" y="763.4" class="cbu" textLength="57.1" lengthAdjust="spacingAndGlyphs">K/decade</text>
<rect x="396.4" y="715.7" width="21.5" height="13" fill="#543005" stroke="#222" stroke-width="0.6"/>
<rect x="417.9" y="715.7" width="21.5" height="13" fill="#7d4808" stroke="#222" stroke-width="0.6"/>
<rect x="439.4" y="715.7" width="21.5" height="13" fill="#a76a1c" stroke="#222" stroke-width="0.6"/>
<rect x="460.9" y="715.7" width="21.5" height="13" fill="#c99546" stroke="#222" stroke-width="0.6"/>
<rect x="482.4" y="715.7" width="21.5" height="13" fill="#e0c481" stroke="#222" stroke-width="0.6"/>
<rect x="503.9" y="715.7" width="21.5" height="13" fill="#f2e2b8" stroke="#222" stroke-width="0.6"/>
<rect x="525.4" y="715.7" width="21.5" height="13" fill="#f5f0e2" stroke="#222" stroke-width="0.6"/>
<rect x="546.9" y="715.7" width="21.5" height="13" fill="#e3f0ef" stroke="#222" stroke-width="0.6"/>
<rect x="568.4" y="715.7" width="21.5" height="13" fill="#bbe5df" stroke="#222" stroke-width="0.6"/>
<rect x="589.9" y="715.7" width="21.5" height="13" fill="#84cec3" stroke="#222" stroke-width="0.6"/>
<rect x="611.4" y="715.7" width="21.5" height="13" fill="#4ca79e" stroke="#222" stroke-width="0.6"/>
<rect x="632.9" y="715.7" width="21.5" height="13" fill="#1c7f77" stroke="#222" stroke-width="0.6"/>
<rect x="654.4" y="715.7" width="21.5" height="13" fill="#005b52" stroke="#222" stroke-width="0.6"/>
<rect x="675.9" y="715.7" width="21.5" height="13" fill="#003c30" stroke="#222" stroke-width="0.6"/>
<rect x="396.4" y="715.7" width="301" height="13" fill="none" stroke="#333" stroke-width="0.8"/>
<text x="417.9" y="741.9" class="cb" text-anchor="middle">-30</text>
<text x="439.4" y="741.9" class="cb" text-anchor="middle">-25</text>
<text x="460.9" y="741.9" class="cb" text-anchor="middle">-20</text>
<text x="482.4" y="741.9" class="cb" text-anchor="middle">-15</text>
<text x="503.9" y="741.9" class="cb" text-anchor="middle">-10</text>
<text x="525.4" y="741.9" class="cb" text-anchor="middle">-5</text>
<text x="546.9" y="741.9" class="cb" text-anchor="middle">0</text>
<text x="568.4" y="741.9" class="cb" text-anchor="middle">5</text>
<text x="589.9" y="741.9" class="cb" text-anchor="middle">10</text>
<text x="611.4" y="741.9" class="cb" text-anchor="middle">15</text>
<text x="632.9" y="741.9" class="cb" text-anchor="middle">20</text>
<text x="654.4" y="741.9" class="cb" text-anchor="middle">25</text>
<text x="675.9" y="741.9" class="cb" text-anchor="middle">30</text>
<text x="505.9" y="763.4" class="cbu" textLength="101.1" lengthAdjust="spacingAndGlyphs">mm/mon/decade</text>
</svg>
</body></html>
